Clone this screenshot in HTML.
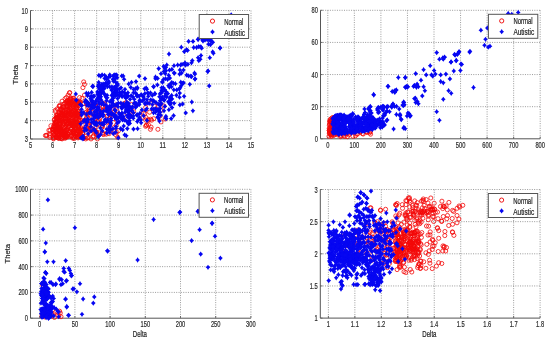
<!DOCTYPE html>
<html><head><meta charset="utf-8"><style>
html,body{margin:0;padding:0;background:#fff;width:550px;height:343px;overflow:hidden}
svg{display:block;font-family:'Liberation Sans', Arial, sans-serif;filter:blur(0.5px)}
.gr{stroke:#8a8a8a;stroke-width:0.85;stroke-dasharray:1 1.35;fill:none}
text{stroke:#333;stroke-width:0.22px;paint-order:stroke}
.ax{stroke:#555;stroke-width:1;fill:none}
.tk{stroke:#555;stroke-width:0.8}
</style></head><body>
<svg width="550" height="343" viewBox="0 0 550 343">
<defs><path id="st" d="M0 -2.65 L1.1 -1.05 L2.35 0 L1.1 1.05 L0 2.65 L-1.1 1.05 L-2.35 0 L-1.1 -1.05 Z" fill="#0606f2"/><circle id="ci" r="2.05" fill="none" stroke="#f40808" stroke-width="0.8"/></defs>
<rect width="550" height="343" fill="#fff"/>
<line x1="52.55" y1="10.50" x2="52.55" y2="139.00" class="gr"/>
<line x1="74.60" y1="10.50" x2="74.60" y2="139.00" class="gr"/>
<line x1="96.65" y1="10.50" x2="96.65" y2="139.00" class="gr"/>
<line x1="118.70" y1="10.50" x2="118.70" y2="139.00" class="gr"/>
<line x1="140.75" y1="10.50" x2="140.75" y2="139.00" class="gr"/>
<line x1="162.80" y1="10.50" x2="162.80" y2="139.00" class="gr"/>
<line x1="184.85" y1="10.50" x2="184.85" y2="139.00" class="gr"/>
<line x1="206.90" y1="10.50" x2="206.90" y2="139.00" class="gr"/>
<line x1="228.95" y1="10.50" x2="228.95" y2="139.00" class="gr"/>
<line x1="251.00" y1="10.50" x2="251.00" y2="139.00" class="gr"/>
<line x1="30.50" y1="120.64" x2="251.00" y2="120.64" class="gr"/>
<line x1="30.50" y1="102.29" x2="251.00" y2="102.29" class="gr"/>
<line x1="30.50" y1="83.93" x2="251.00" y2="83.93" class="gr"/>
<line x1="30.50" y1="65.57" x2="251.00" y2="65.57" class="gr"/>
<line x1="30.50" y1="47.21" x2="251.00" y2="47.21" class="gr"/>
<line x1="30.50" y1="28.86" x2="251.00" y2="28.86" class="gr"/>
<line x1="30.50" y1="10.50" x2="251.00" y2="10.50" class="gr"/>
<line x1="327.80" y1="10.30" x2="327.80" y2="138.80" class="gr"/>
<line x1="354.35" y1="10.30" x2="354.35" y2="138.80" class="gr"/>
<line x1="380.90" y1="10.30" x2="380.90" y2="138.80" class="gr"/>
<line x1="407.45" y1="10.30" x2="407.45" y2="138.80" class="gr"/>
<line x1="434.00" y1="10.30" x2="434.00" y2="138.80" class="gr"/>
<line x1="460.55" y1="10.30" x2="460.55" y2="138.80" class="gr"/>
<line x1="487.10" y1="10.30" x2="487.10" y2="138.80" class="gr"/>
<line x1="513.65" y1="10.30" x2="513.65" y2="138.80" class="gr"/>
<line x1="540.20" y1="10.30" x2="540.20" y2="138.80" class="gr"/>
<line x1="320.50" y1="106.68" x2="540.20" y2="106.68" class="gr"/>
<line x1="320.50" y1="74.55" x2="540.20" y2="74.55" class="gr"/>
<line x1="320.50" y1="42.43" x2="540.20" y2="42.43" class="gr"/>
<line x1="320.50" y1="10.30" x2="540.20" y2="10.30" class="gr"/>
<line x1="39.70" y1="189.30" x2="39.70" y2="318.20" class="gr"/>
<line x1="74.90" y1="189.30" x2="74.90" y2="318.20" class="gr"/>
<line x1="110.10" y1="189.30" x2="110.10" y2="318.20" class="gr"/>
<line x1="145.30" y1="189.30" x2="145.30" y2="318.20" class="gr"/>
<line x1="180.50" y1="189.30" x2="180.50" y2="318.20" class="gr"/>
<line x1="215.70" y1="189.30" x2="215.70" y2="318.20" class="gr"/>
<line x1="250.90" y1="189.30" x2="250.90" y2="318.20" class="gr"/>
<line x1="30.50" y1="292.42" x2="250.90" y2="292.42" class="gr"/>
<line x1="30.50" y1="266.64" x2="250.90" y2="266.64" class="gr"/>
<line x1="30.50" y1="240.86" x2="250.90" y2="240.86" class="gr"/>
<line x1="30.50" y1="215.08" x2="250.90" y2="215.08" class="gr"/>
<line x1="30.50" y1="189.30" x2="250.90" y2="189.30" class="gr"/>
<line x1="328.40" y1="189.50" x2="328.40" y2="318.10" class="gr"/>
<line x1="354.86" y1="189.50" x2="354.86" y2="318.10" class="gr"/>
<line x1="381.32" y1="189.50" x2="381.32" y2="318.10" class="gr"/>
<line x1="407.79" y1="189.50" x2="407.79" y2="318.10" class="gr"/>
<line x1="434.25" y1="189.50" x2="434.25" y2="318.10" class="gr"/>
<line x1="460.71" y1="189.50" x2="460.71" y2="318.10" class="gr"/>
<line x1="487.18" y1="189.50" x2="487.18" y2="318.10" class="gr"/>
<line x1="513.64" y1="189.50" x2="513.64" y2="318.10" class="gr"/>
<line x1="540.10" y1="189.50" x2="540.10" y2="318.10" class="gr"/>
<line x1="320.30" y1="285.95" x2="540.10" y2="285.95" class="gr"/>
<line x1="320.30" y1="253.80" x2="540.10" y2="253.80" class="gr"/>
<line x1="320.30" y1="221.65" x2="540.10" y2="221.65" class="gr"/>
<line x1="320.30" y1="189.50" x2="540.10" y2="189.50" class="gr"/>
<path d="M30.50 10.50 V139.00 H251.00" class="ax"/>
<line x1="30.50" y1="139.00" x2="30.50" y2="136.80" class="tk"/>
<text x="30.50" y="147.90" font-size="8.7" text-anchor="middle" fill="#2a2a2a" textLength="3.19" lengthAdjust="spacingAndGlyphs">5</text>
<line x1="52.55" y1="139.00" x2="52.55" y2="136.80" class="tk"/>
<text x="52.55" y="147.90" font-size="8.7" text-anchor="middle" fill="#2a2a2a" textLength="3.19" lengthAdjust="spacingAndGlyphs">6</text>
<line x1="74.60" y1="139.00" x2="74.60" y2="136.80" class="tk"/>
<text x="74.60" y="147.90" font-size="8.7" text-anchor="middle" fill="#2a2a2a" textLength="3.19" lengthAdjust="spacingAndGlyphs">7</text>
<line x1="96.65" y1="139.00" x2="96.65" y2="136.80" class="tk"/>
<text x="96.65" y="147.90" font-size="8.7" text-anchor="middle" fill="#2a2a2a" textLength="3.19" lengthAdjust="spacingAndGlyphs">8</text>
<line x1="118.70" y1="139.00" x2="118.70" y2="136.80" class="tk"/>
<text x="118.70" y="147.90" font-size="8.7" text-anchor="middle" fill="#2a2a2a" textLength="3.19" lengthAdjust="spacingAndGlyphs">9</text>
<line x1="140.75" y1="139.00" x2="140.75" y2="136.80" class="tk"/>
<text x="140.75" y="147.90" font-size="8.7" text-anchor="middle" fill="#2a2a2a" textLength="6.38" lengthAdjust="spacingAndGlyphs">10</text>
<line x1="162.80" y1="139.00" x2="162.80" y2="136.80" class="tk"/>
<text x="162.80" y="147.90" font-size="8.7" text-anchor="middle" fill="#2a2a2a" textLength="6.38" lengthAdjust="spacingAndGlyphs">11</text>
<line x1="184.85" y1="139.00" x2="184.85" y2="136.80" class="tk"/>
<text x="184.85" y="147.90" font-size="8.7" text-anchor="middle" fill="#2a2a2a" textLength="6.38" lengthAdjust="spacingAndGlyphs">12</text>
<line x1="206.90" y1="139.00" x2="206.90" y2="136.80" class="tk"/>
<text x="206.90" y="147.90" font-size="8.7" text-anchor="middle" fill="#2a2a2a" textLength="6.38" lengthAdjust="spacingAndGlyphs">13</text>
<line x1="228.95" y1="139.00" x2="228.95" y2="136.80" class="tk"/>
<text x="228.95" y="147.90" font-size="8.7" text-anchor="middle" fill="#2a2a2a" textLength="6.38" lengthAdjust="spacingAndGlyphs">14</text>
<line x1="251.00" y1="139.00" x2="251.00" y2="136.80" class="tk"/>
<text x="251.00" y="147.90" font-size="8.7" text-anchor="middle" fill="#2a2a2a" textLength="6.38" lengthAdjust="spacingAndGlyphs">15</text>
<line x1="30.50" y1="139.00" x2="32.70" y2="139.00" class="tk"/>
<text x="28.00" y="142.00" font-size="8.7" text-anchor="end" fill="#2a2a2a" textLength="3.19" lengthAdjust="spacingAndGlyphs">3</text>
<line x1="30.50" y1="120.64" x2="32.70" y2="120.64" class="tk"/>
<text x="28.00" y="123.64" font-size="8.7" text-anchor="end" fill="#2a2a2a" textLength="3.19" lengthAdjust="spacingAndGlyphs">4</text>
<line x1="30.50" y1="102.29" x2="32.70" y2="102.29" class="tk"/>
<text x="28.00" y="105.29" font-size="8.7" text-anchor="end" fill="#2a2a2a" textLength="3.19" lengthAdjust="spacingAndGlyphs">5</text>
<line x1="30.50" y1="83.93" x2="32.70" y2="83.93" class="tk"/>
<text x="28.00" y="86.93" font-size="8.7" text-anchor="end" fill="#2a2a2a" textLength="3.19" lengthAdjust="spacingAndGlyphs">6</text>
<line x1="30.50" y1="65.57" x2="32.70" y2="65.57" class="tk"/>
<text x="28.00" y="68.57" font-size="8.7" text-anchor="end" fill="#2a2a2a" textLength="3.19" lengthAdjust="spacingAndGlyphs">7</text>
<line x1="30.50" y1="47.21" x2="32.70" y2="47.21" class="tk"/>
<text x="28.00" y="50.21" font-size="8.7" text-anchor="end" fill="#2a2a2a" textLength="3.19" lengthAdjust="spacingAndGlyphs">8</text>
<line x1="30.50" y1="28.86" x2="32.70" y2="28.86" class="tk"/>
<text x="28.00" y="31.86" font-size="8.7" text-anchor="end" fill="#2a2a2a" textLength="3.19" lengthAdjust="spacingAndGlyphs">9</text>
<line x1="30.50" y1="10.50" x2="32.70" y2="10.50" class="tk"/>
<text x="28.00" y="13.50" font-size="8.7" text-anchor="end" fill="#2a2a2a" textLength="6.38" lengthAdjust="spacingAndGlyphs">10</text>
<text x="0" y="0" font-size="9" text-anchor="middle" fill="#222" textLength="19.4" lengthAdjust="spacingAndGlyphs" transform="translate(17.90 74.75) scale(0.8 1) rotate(-90)">Theta</text>
<path d="M320.50 10.30 V138.80 H540.20" class="ax"/>
<line x1="327.80" y1="138.80" x2="327.80" y2="136.60" class="tk"/>
<text x="327.80" y="147.70" font-size="8.7" text-anchor="middle" fill="#2a2a2a" textLength="3.19" lengthAdjust="spacingAndGlyphs">0</text>
<line x1="354.35" y1="138.80" x2="354.35" y2="136.60" class="tk"/>
<text x="354.35" y="147.70" font-size="8.7" text-anchor="middle" fill="#2a2a2a" textLength="9.57" lengthAdjust="spacingAndGlyphs">100</text>
<line x1="380.90" y1="138.80" x2="380.90" y2="136.60" class="tk"/>
<text x="380.90" y="147.70" font-size="8.7" text-anchor="middle" fill="#2a2a2a" textLength="9.57" lengthAdjust="spacingAndGlyphs">200</text>
<line x1="407.45" y1="138.80" x2="407.45" y2="136.60" class="tk"/>
<text x="407.45" y="147.70" font-size="8.7" text-anchor="middle" fill="#2a2a2a" textLength="9.57" lengthAdjust="spacingAndGlyphs">300</text>
<line x1="434.00" y1="138.80" x2="434.00" y2="136.60" class="tk"/>
<text x="434.00" y="147.70" font-size="8.7" text-anchor="middle" fill="#2a2a2a" textLength="9.57" lengthAdjust="spacingAndGlyphs">400</text>
<line x1="460.55" y1="138.80" x2="460.55" y2="136.60" class="tk"/>
<text x="460.55" y="147.70" font-size="8.7" text-anchor="middle" fill="#2a2a2a" textLength="9.57" lengthAdjust="spacingAndGlyphs">500</text>
<line x1="487.10" y1="138.80" x2="487.10" y2="136.60" class="tk"/>
<text x="487.10" y="147.70" font-size="8.7" text-anchor="middle" fill="#2a2a2a" textLength="9.57" lengthAdjust="spacingAndGlyphs">600</text>
<line x1="513.65" y1="138.80" x2="513.65" y2="136.60" class="tk"/>
<text x="513.65" y="147.70" font-size="8.7" text-anchor="middle" fill="#2a2a2a" textLength="9.57" lengthAdjust="spacingAndGlyphs">700</text>
<line x1="540.20" y1="138.80" x2="540.20" y2="136.60" class="tk"/>
<text x="540.20" y="147.70" font-size="8.7" text-anchor="middle" fill="#2a2a2a" textLength="9.57" lengthAdjust="spacingAndGlyphs">800</text>
<line x1="320.50" y1="138.80" x2="322.70" y2="138.80" class="tk"/>
<text x="318.00" y="141.80" font-size="8.7" text-anchor="end" fill="#2a2a2a" textLength="3.19" lengthAdjust="spacingAndGlyphs">0</text>
<line x1="320.50" y1="106.68" x2="322.70" y2="106.68" class="tk"/>
<text x="318.00" y="109.68" font-size="8.7" text-anchor="end" fill="#2a2a2a" textLength="6.38" lengthAdjust="spacingAndGlyphs">20</text>
<line x1="320.50" y1="74.55" x2="322.70" y2="74.55" class="tk"/>
<text x="318.00" y="77.55" font-size="8.7" text-anchor="end" fill="#2a2a2a" textLength="6.38" lengthAdjust="spacingAndGlyphs">40</text>
<line x1="320.50" y1="42.43" x2="322.70" y2="42.43" class="tk"/>
<text x="318.00" y="45.43" font-size="8.7" text-anchor="end" fill="#2a2a2a" textLength="6.38" lengthAdjust="spacingAndGlyphs">60</text>
<line x1="320.50" y1="10.30" x2="322.70" y2="10.30" class="tk"/>
<text x="318.00" y="13.30" font-size="8.7" text-anchor="end" fill="#2a2a2a" textLength="6.38" lengthAdjust="spacingAndGlyphs">80</text>
<path d="M30.50 189.30 V318.20 H250.90" class="ax"/>
<line x1="39.70" y1="318.20" x2="39.70" y2="316.00" class="tk"/>
<text x="39.70" y="327.10" font-size="8.7" text-anchor="middle" fill="#2a2a2a" textLength="3.19" lengthAdjust="spacingAndGlyphs">0</text>
<line x1="74.90" y1="318.20" x2="74.90" y2="316.00" class="tk"/>
<text x="74.90" y="327.10" font-size="8.7" text-anchor="middle" fill="#2a2a2a" textLength="6.38" lengthAdjust="spacingAndGlyphs">50</text>
<line x1="110.10" y1="318.20" x2="110.10" y2="316.00" class="tk"/>
<text x="110.10" y="327.10" font-size="8.7" text-anchor="middle" fill="#2a2a2a" textLength="9.57" lengthAdjust="spacingAndGlyphs">100</text>
<line x1="145.30" y1="318.20" x2="145.30" y2="316.00" class="tk"/>
<text x="145.30" y="327.10" font-size="8.7" text-anchor="middle" fill="#2a2a2a" textLength="9.57" lengthAdjust="spacingAndGlyphs">150</text>
<line x1="180.50" y1="318.20" x2="180.50" y2="316.00" class="tk"/>
<text x="180.50" y="327.10" font-size="8.7" text-anchor="middle" fill="#2a2a2a" textLength="9.57" lengthAdjust="spacingAndGlyphs">200</text>
<line x1="215.70" y1="318.20" x2="215.70" y2="316.00" class="tk"/>
<text x="215.70" y="327.10" font-size="8.7" text-anchor="middle" fill="#2a2a2a" textLength="9.57" lengthAdjust="spacingAndGlyphs">250</text>
<line x1="250.90" y1="318.20" x2="250.90" y2="316.00" class="tk"/>
<text x="250.90" y="327.10" font-size="8.7" text-anchor="middle" fill="#2a2a2a" textLength="9.57" lengthAdjust="spacingAndGlyphs">300</text>
<line x1="30.50" y1="318.20" x2="32.70" y2="318.20" class="tk"/>
<text x="28.00" y="321.20" font-size="8.7" text-anchor="end" fill="#2a2a2a" textLength="3.19" lengthAdjust="spacingAndGlyphs">0</text>
<line x1="30.50" y1="292.42" x2="32.70" y2="292.42" class="tk"/>
<text x="28.00" y="295.42" font-size="8.7" text-anchor="end" fill="#2a2a2a" textLength="9.57" lengthAdjust="spacingAndGlyphs">200</text>
<line x1="30.50" y1="266.64" x2="32.70" y2="266.64" class="tk"/>
<text x="28.00" y="269.64" font-size="8.7" text-anchor="end" fill="#2a2a2a" textLength="9.57" lengthAdjust="spacingAndGlyphs">400</text>
<line x1="30.50" y1="240.86" x2="32.70" y2="240.86" class="tk"/>
<text x="28.00" y="243.86" font-size="8.7" text-anchor="end" fill="#2a2a2a" textLength="9.57" lengthAdjust="spacingAndGlyphs">600</text>
<line x1="30.50" y1="215.08" x2="32.70" y2="215.08" class="tk"/>
<text x="28.00" y="218.08" font-size="8.7" text-anchor="end" fill="#2a2a2a" textLength="9.57" lengthAdjust="spacingAndGlyphs">800</text>
<line x1="30.50" y1="189.30" x2="32.70" y2="189.30" class="tk"/>
<text x="28.00" y="192.30" font-size="8.7" text-anchor="end" fill="#2a2a2a" textLength="12.77" lengthAdjust="spacingAndGlyphs">1000</text>
<text x="0" y="0" font-size="9" text-anchor="middle" fill="#222" textLength="19.4" lengthAdjust="spacingAndGlyphs" transform="translate(10.20 253.75) scale(0.8 1) rotate(-90)">Theta</text>
<text x="139.90" y="337.20" font-size="8.6" text-anchor="middle" fill="#222" textLength="14.20" lengthAdjust="spacingAndGlyphs">Delta</text>
<path d="M320.30 189.50 V318.10 H540.10" class="ax"/>
<line x1="328.40" y1="318.10" x2="328.40" y2="315.90" class="tk"/>
<text x="328.40" y="327.00" font-size="8.7" text-anchor="middle" fill="#2a2a2a" textLength="3.19" lengthAdjust="spacingAndGlyphs">1</text>
<line x1="354.86" y1="318.10" x2="354.86" y2="315.90" class="tk"/>
<text x="354.86" y="327.00" font-size="8.7" text-anchor="middle" fill="#2a2a2a" textLength="7.98" lengthAdjust="spacingAndGlyphs">1.1</text>
<line x1="381.32" y1="318.10" x2="381.32" y2="315.90" class="tk"/>
<text x="381.32" y="327.00" font-size="8.7" text-anchor="middle" fill="#2a2a2a" textLength="7.98" lengthAdjust="spacingAndGlyphs">1.2</text>
<line x1="407.79" y1="318.10" x2="407.79" y2="315.90" class="tk"/>
<text x="407.79" y="327.00" font-size="8.7" text-anchor="middle" fill="#2a2a2a" textLength="7.98" lengthAdjust="spacingAndGlyphs">1.3</text>
<line x1="434.25" y1="318.10" x2="434.25" y2="315.90" class="tk"/>
<text x="434.25" y="327.00" font-size="8.7" text-anchor="middle" fill="#2a2a2a" textLength="7.98" lengthAdjust="spacingAndGlyphs">1.4</text>
<line x1="460.71" y1="318.10" x2="460.71" y2="315.90" class="tk"/>
<text x="460.71" y="327.00" font-size="8.7" text-anchor="middle" fill="#2a2a2a" textLength="7.98" lengthAdjust="spacingAndGlyphs">1.5</text>
<line x1="487.18" y1="318.10" x2="487.18" y2="315.90" class="tk"/>
<text x="487.18" y="327.00" font-size="8.7" text-anchor="middle" fill="#2a2a2a" textLength="7.98" lengthAdjust="spacingAndGlyphs">1.6</text>
<line x1="513.64" y1="318.10" x2="513.64" y2="315.90" class="tk"/>
<text x="513.64" y="327.00" font-size="8.7" text-anchor="middle" fill="#2a2a2a" textLength="7.98" lengthAdjust="spacingAndGlyphs">1.7</text>
<line x1="540.10" y1="318.10" x2="540.10" y2="315.90" class="tk"/>
<text x="540.10" y="327.00" font-size="8.7" text-anchor="middle" fill="#2a2a2a" textLength="7.98" lengthAdjust="spacingAndGlyphs">1.8</text>
<line x1="320.30" y1="318.10" x2="322.50" y2="318.10" class="tk"/>
<text x="317.80" y="321.10" font-size="8.7" text-anchor="end" fill="#2a2a2a" textLength="3.19" lengthAdjust="spacingAndGlyphs">1</text>
<line x1="320.30" y1="285.95" x2="322.50" y2="285.95" class="tk"/>
<text x="317.80" y="288.95" font-size="8.7" text-anchor="end" fill="#2a2a2a" textLength="7.98" lengthAdjust="spacingAndGlyphs">1.5</text>
<line x1="320.30" y1="253.80" x2="322.50" y2="253.80" class="tk"/>
<text x="317.80" y="256.80" font-size="8.7" text-anchor="end" fill="#2a2a2a" textLength="3.19" lengthAdjust="spacingAndGlyphs">2</text>
<line x1="320.30" y1="221.65" x2="322.50" y2="221.65" class="tk"/>
<text x="317.80" y="224.65" font-size="8.7" text-anchor="end" fill="#2a2a2a" textLength="7.98" lengthAdjust="spacingAndGlyphs">2.5</text>
<line x1="320.30" y1="189.50" x2="322.50" y2="189.50" class="tk"/>
<text x="317.80" y="192.50" font-size="8.7" text-anchor="end" fill="#2a2a2a" textLength="3.19" lengthAdjust="spacingAndGlyphs">3</text>
<text x="429.40" y="337.10" font-size="8.6" text-anchor="middle" fill="#222" textLength="14.20" lengthAdjust="spacingAndGlyphs">Delta</text>
<g>
<use href="#ci" x="76.3" y="108.3"/>
<use href="#ci" x="75.4" y="107.2"/>
<use href="#ci" x="78.6" y="102.8"/>
<use href="#ci" x="80.2" y="102.6"/>
<use href="#ci" x="79.4" y="102.9"/>
<use href="#ci" x="75.6" y="106.2"/>
<use href="#ci" x="83.7" y="103.4"/>
<use href="#ci" x="92.5" y="111.0"/>
<use href="#ci" x="92.0" y="105.9"/>
<use href="#ci" x="96.4" y="102.7"/>
<use href="#ci" x="95.1" y="104.9"/>
<use href="#ci" x="87.2" y="103.4"/>
<use href="#ci" x="89.0" y="109.8"/>
<use href="#ci" x="87.6" y="107.6"/>
<use href="#ci" x="92.7" y="105.7"/>
<use href="#ci" x="91.7" y="102.9"/>
<use href="#ci" x="86.3" y="104.2"/>
<use href="#ci" x="93.1" y="106.2"/>
<use href="#ci" x="89.1" y="107.7"/>
<use href="#ci" x="90.6" y="105.0"/>
<use href="#ci" x="104.4" y="104.5"/>
<use href="#ci" x="103.0" y="107.1"/>
<use href="#ci" x="106.3" y="109.0"/>
<use href="#ci" x="99.8" y="111.3"/>
<use href="#ci" x="98.0" y="106.1"/>
<use href="#ci" x="105.0" y="103.7"/>
<use href="#ci" x="102.0" y="102.6"/>
<use href="#ci" x="104.0" y="109.3"/>
<use href="#ci" x="103.0" y="110.3"/>
<use href="#ci" x="100.1" y="108.7"/>
<use href="#ci" x="114.1" y="106.5"/>
<use href="#ci" x="116.9" y="111.0"/>
<use href="#ci" x="112.9" y="108.4"/>
<use href="#ci" x="108.3" y="108.7"/>
<use href="#ci" x="114.8" y="111.4"/>
<use href="#ci" x="116.7" y="104.9"/>
<use href="#ci" x="126.1" y="102.5"/>
<use href="#ci" x="123.8" y="103.8"/>
<use href="#ci" x="130.4" y="109.3"/>
<use href="#ci" x="131.2" y="104.6"/>
<use href="#ci" x="150.4" y="103.0"/>
<use href="#ci" x="145.7" y="107.3"/>
<use href="#ci" x="160.8" y="110.2"/>
<use href="#ci" x="154.8" y="106.1"/>
<use href="#ci" x="84.3" y="120.3"/>
<use href="#ci" x="76.3" y="113.1"/>
<use href="#ci" x="77.2" y="113.6"/>
<use href="#ci" x="79.9" y="116.9"/>
<use href="#ci" x="77.5" y="111.5"/>
<use href="#ci" x="79.2" y="114.9"/>
<use href="#ci" x="80.8" y="120.2"/>
<use href="#ci" x="91.3" y="117.1"/>
<use href="#ci" x="93.1" y="112.0"/>
<use href="#ci" x="95.5" y="118.6"/>
<use href="#ci" x="95.3" y="118.8"/>
<use href="#ci" x="90.0" y="115.1"/>
<use href="#ci" x="86.8" y="117.3"/>
<use href="#ci" x="86.3" y="112.1"/>
<use href="#ci" x="87.9" y="113.0"/>
<use href="#ci" x="89.4" y="111.9"/>
<use href="#ci" x="85.6" y="112.9"/>
<use href="#ci" x="86.7" y="114.8"/>
<use href="#ci" x="85.9" y="119.5"/>
<use href="#ci" x="92.4" y="112.8"/>
<use href="#ci" x="100.5" y="114.8"/>
<use href="#ci" x="98.0" y="119.3"/>
<use href="#ci" x="107.6" y="115.7"/>
<use href="#ci" x="102.0" y="112.3"/>
<use href="#ci" x="97.8" y="114.6"/>
<use href="#ci" x="99.6" y="119.1"/>
<use href="#ci" x="98.4" y="111.7"/>
<use href="#ci" x="107.1" y="116.3"/>
<use href="#ci" x="98.3" y="116.4"/>
<use href="#ci" x="96.9" y="116.3"/>
<use href="#ci" x="117.2" y="117.9"/>
<use href="#ci" x="110.6" y="114.8"/>
<use href="#ci" x="109.5" y="118.5"/>
<use href="#ci" x="113.5" y="118.6"/>
<use href="#ci" x="111.3" y="113.5"/>
<use href="#ci" x="116.6" y="120.5"/>
<use href="#ci" x="127.6" y="119.0"/>
<use href="#ci" x="126.9" y="113.5"/>
<use href="#ci" x="133.6" y="111.7"/>
<use href="#ci" x="130.0" y="114.0"/>
<use href="#ci" x="148.4" y="120.2"/>
<use href="#ci" x="145.7" y="120.1"/>
<use href="#ci" x="151.6" y="120.2"/>
<use href="#ci" x="144.8" y="113.5"/>
<use href="#ci" x="143.3" y="113.3"/>
<use href="#ci" x="143.0" y="117.2"/>
<use href="#ci" x="150.7" y="119.2"/>
<use href="#ci" x="146.0" y="117.5"/>
<use href="#ci" x="149.6" y="112.2"/>
<use href="#ci" x="148.0" y="119.8"/>
<use href="#ci" x="160.0" y="115.9"/>
<use href="#ci" x="153.7" y="118.7"/>
<use href="#ci" x="83.4" y="129.6"/>
<use href="#ci" x="79.0" y="124.3"/>
<use href="#ci" x="85.0" y="127.3"/>
<use href="#ci" x="76.5" y="121.8"/>
<use href="#ci" x="76.3" y="128.9"/>
<use href="#ci" x="83.5" y="122.0"/>
<use href="#ci" x="83.7" y="129.6"/>
<use href="#ci" x="89.5" y="125.7"/>
<use href="#ci" x="87.1" y="120.8"/>
<use href="#ci" x="96.3" y="126.6"/>
<use href="#ci" x="91.4" y="129.2"/>
<use href="#ci" x="90.4" y="128.6"/>
<use href="#ci" x="94.7" y="122.6"/>
<use href="#ci" x="88.4" y="123.3"/>
<use href="#ci" x="88.3" y="126.0"/>
<use href="#ci" x="88.5" y="124.5"/>
<use href="#ci" x="87.1" y="129.0"/>
<use href="#ci" x="89.5" y="124.8"/>
<use href="#ci" x="92.1" y="128.9"/>
<use href="#ci" x="90.3" y="129.1"/>
<use href="#ci" x="102.5" y="125.4"/>
<use href="#ci" x="96.9" y="124.7"/>
<use href="#ci" x="98.7" y="120.7"/>
<use href="#ci" x="105.5" y="122.2"/>
<use href="#ci" x="101.9" y="127.3"/>
<use href="#ci" x="102.8" y="123.6"/>
<use href="#ci" x="102.4" y="125.7"/>
<use href="#ci" x="108.8" y="125.8"/>
<use href="#ci" x="110.4" y="123.2"/>
<use href="#ci" x="116.2" y="125.3"/>
<use href="#ci" x="113.9" y="127.6"/>
<use href="#ci" x="145.6" y="126.3"/>
<use href="#ci" x="146.3" y="125.3"/>
<use href="#ci" x="148.4" y="124.8"/>
<use href="#ci" x="146.6" y="125.0"/>
<use href="#ci" x="151.1" y="127.1"/>
<use href="#ci" x="150.4" y="129.3"/>
<use href="#ci" x="157.9" y="129.3"/>
<use href="#ci" x="161.0" y="121.9"/>
<use href="#ci" x="90.5" y="130.5"/>
<use href="#ci" x="88.3" y="130.5"/>
<use href="#ci" x="93.0" y="137.0"/>
<use href="#ci" x="95.5" y="131.2"/>
<use href="#ci" x="93.5" y="135.9"/>
<use href="#ci" x="87.2" y="137.9"/>
<use href="#ci" x="96.3" y="131.8"/>
<use href="#ci" x="96.1" y="133.5"/>
<use href="#ci" x="91.0" y="138.9"/>
<use href="#ci" x="94.8" y="131.3"/>
<use href="#ci" x="102.3" y="132.9"/>
<use href="#ci" x="98.8" y="132.7"/>
<use href="#ci" x="104.6" y="130.0"/>
<use href="#ci" x="102.8" y="133.9"/>
<use href="#ci" x="96.8" y="132.9"/>
<use href="#ci" x="103.5" y="134.5"/>
<use href="#ci" x="97.4" y="138.9"/>
<use href="#ci" x="118.4" y="130.8"/>
<use href="#ci" x="110.6" y="130.2"/>
<use href="#ci" x="116.3" y="132.3"/>
<use href="#ci" x="109.1" y="133.7"/>
<use href="#ci" x="117.7" y="137.3"/>
<use href="#ci" x="110.5" y="131.2"/>
<use href="#ci" x="59.6" y="117.5"/>
<use href="#ci" x="58.0" y="127.5"/>
<use href="#ci" x="57.3" y="115.0"/>
<use href="#ci" x="69.3" y="100.1"/>
<use href="#ci" x="65.8" y="135.9"/>
<use href="#ci" x="48.9" y="130.3"/>
<use href="#ci" x="63.9" y="114.8"/>
<use href="#ci" x="67.3" y="124.0"/>
<use href="#ci" x="73.3" y="110.4"/>
<use href="#ci" x="78.1" y="103.3"/>
<use href="#ci" x="82.7" y="132.8"/>
<use href="#ci" x="74.8" y="104.5"/>
<use href="#ci" x="65.1" y="98.6"/>
<use href="#ci" x="64.5" y="103.6"/>
<use href="#ci" x="88.2" y="137.7"/>
<use href="#ci" x="69.2" y="102.7"/>
<use href="#ci" x="61.6" y="113.8"/>
<use href="#ci" x="67.1" y="100.6"/>
<use href="#ci" x="54.7" y="119.1"/>
<use href="#ci" x="68.3" y="127.0"/>
<use href="#ci" x="74.2" y="125.4"/>
<use href="#ci" x="59.0" y="138.3"/>
<use href="#ci" x="50.9" y="125.8"/>
<use href="#ci" x="82.4" y="133.8"/>
<use href="#ci" x="72.9" y="126.2"/>
<use href="#ci" x="68.1" y="115.2"/>
<use href="#ci" x="82.4" y="129.6"/>
<use href="#ci" x="75.9" y="102.0"/>
<use href="#ci" x="72.9" y="121.1"/>
<use href="#ci" x="75.3" y="114.5"/>
<use href="#ci" x="78.4" y="115.1"/>
<use href="#ci" x="68.6" y="122.6"/>
<use href="#ci" x="56.2" y="126.0"/>
<use href="#ci" x="53.4" y="126.5"/>
<use href="#ci" x="61.6" y="114.0"/>
<use href="#ci" x="75.5" y="127.8"/>
<use href="#ci" x="72.4" y="121.9"/>
<use href="#ci" x="55.7" y="126.7"/>
<use href="#ci" x="58.0" y="118.3"/>
<use href="#ci" x="56.4" y="123.3"/>
<use href="#ci" x="75.8" y="123.4"/>
<use href="#ci" x="57.4" y="115.8"/>
<use href="#ci" x="65.4" y="113.4"/>
<use href="#ci" x="49.5" y="133.9"/>
<use href="#ci" x="53.2" y="138.0"/>
<use href="#ci" x="65.1" y="130.4"/>
<use href="#ci" x="70.7" y="97.8"/>
<use href="#ci" x="68.1" y="136.7"/>
<use href="#ci" x="50.1" y="130.4"/>
<use href="#ci" x="67.4" y="133.6"/>
<use href="#ci" x="76.4" y="102.1"/>
<use href="#ci" x="66.6" y="112.6"/>
<use href="#ci" x="59.8" y="106.2"/>
<use href="#ci" x="78.5" y="131.3"/>
<use href="#ci" x="49.5" y="135.5"/>
<use href="#ci" x="76.8" y="134.3"/>
<use href="#ci" x="57.3" y="108.9"/>
<use href="#ci" x="62.1" y="138.9"/>
<use href="#ci" x="71.1" y="108.3"/>
<use href="#ci" x="63.7" y="104.2"/>
<use href="#ci" x="56.2" y="115.5"/>
<use href="#ci" x="86.0" y="136.2"/>
<use href="#ci" x="69.3" y="125.5"/>
<use href="#ci" x="64.7" y="127.1"/>
<use href="#ci" x="73.6" y="104.7"/>
<use href="#ci" x="46.3" y="135.5"/>
<use href="#ci" x="59.8" y="105.3"/>
<use href="#ci" x="78.0" y="137.9"/>
<use href="#ci" x="56.0" y="122.5"/>
<use href="#ci" x="57.8" y="117.8"/>
<use href="#ci" x="54.1" y="134.5"/>
<use href="#ci" x="55.9" y="118.3"/>
<use href="#ci" x="63.0" y="110.9"/>
<use href="#ci" x="68.1" y="109.1"/>
<use href="#ci" x="56.8" y="137.4"/>
<use href="#ci" x="73.0" y="132.4"/>
<use href="#ci" x="55.4" y="110.2"/>
<use href="#ci" x="64.5" y="136.8"/>
<use href="#ci" x="83.0" y="132.9"/>
<use href="#ci" x="76.6" y="134.0"/>
<use href="#ci" x="65.8" y="119.2"/>
<use href="#ci" x="83.4" y="137.7"/>
<use href="#ci" x="75.4" y="136.2"/>
<use href="#ci" x="77.2" y="122.1"/>
<use href="#ci" x="79.2" y="113.0"/>
<use href="#ci" x="69.4" y="92.9"/>
<use href="#ci" x="80.0" y="102.2"/>
<use href="#ci" x="55.6" y="121.5"/>
<use href="#ci" x="70.8" y="109.6"/>
<use href="#ci" x="54.3" y="119.9"/>
<use href="#ci" x="65.2" y="137.0"/>
<use href="#ci" x="73.7" y="133.4"/>
<use href="#ci" x="65.9" y="102.3"/>
<use href="#ci" x="55.4" y="137.1"/>
<use href="#ci" x="76.4" y="105.8"/>
<use href="#ci" x="75.0" y="111.2"/>
<use href="#ci" x="55.8" y="123.0"/>
<use href="#ci" x="63.3" y="123.8"/>
<use href="#ci" x="53.1" y="129.3"/>
<use href="#ci" x="78.0" y="115.2"/>
<use href="#ci" x="53.4" y="137.6"/>
<use href="#ci" x="58.3" y="130.4"/>
<use href="#ci" x="79.0" y="105.2"/>
<use href="#ci" x="63.2" y="122.9"/>
<use href="#ci" x="62.1" y="101.2"/>
<use href="#ci" x="62.1" y="134.1"/>
<use href="#ci" x="61.4" y="108.9"/>
<use href="#ci" x="60.2" y="136.9"/>
<use href="#ci" x="49.7" y="137.3"/>
<use href="#ci" x="81.8" y="130.5"/>
<use href="#ci" x="65.8" y="108.9"/>
<use href="#ci" x="60.8" y="134.1"/>
<use href="#ci" x="81.3" y="127.8"/>
<use href="#ci" x="46.9" y="135.2"/>
<use href="#ci" x="55.8" y="126.9"/>
<use href="#ci" x="56.5" y="137.0"/>
<use href="#ci" x="72.4" y="103.6"/>
<use href="#ci" x="77.0" y="106.2"/>
<use href="#ci" x="78.8" y="135.0"/>
<use href="#ci" x="73.2" y="136.3"/>
<use href="#ci" x="65.9" y="136.9"/>
<use href="#ci" x="55.5" y="111.6"/>
<use href="#ci" x="66.7" y="135.5"/>
<use href="#ci" x="52.4" y="129.5"/>
<use href="#ci" x="78.0" y="130.5"/>
<use href="#ci" x="79.5" y="120.1"/>
<use href="#ci" x="59.1" y="106.3"/>
<use href="#ci" x="60.6" y="128.5"/>
<use href="#ci" x="78.6" y="102.9"/>
<use href="#ci" x="69.4" y="106.6"/>
<use href="#ci" x="68.9" y="126.8"/>
<use href="#ci" x="67.2" y="106.8"/>
<use href="#ci" x="66.2" y="123.1"/>
<use href="#ci" x="74.9" y="128.4"/>
<use href="#ci" x="56.1" y="132.3"/>
<use href="#ci" x="62.0" y="120.8"/>
<use href="#ci" x="64.7" y="128.0"/>
<use href="#ci" x="63.1" y="113.6"/>
<use href="#ci" x="59.9" y="131.0"/>
<use href="#ci" x="74.2" y="138.6"/>
<use href="#ci" x="79.8" y="132.3"/>
<use href="#ci" x="58.4" y="137.9"/>
<use href="#ci" x="71.8" y="136.1"/>
<use href="#ci" x="64.7" y="133.4"/>
<use href="#ci" x="67.3" y="107.9"/>
<use href="#ci" x="78.4" y="136.7"/>
<use href="#ci" x="55.6" y="122.0"/>
<use href="#ci" x="73.1" y="106.1"/>
<use href="#ci" x="72.4" y="124.4"/>
<use href="#ci" x="63.1" y="125.5"/>
<use href="#ci" x="58.9" y="130.4"/>
<use href="#ci" x="70.6" y="99.7"/>
<use href="#ci" x="70.7" y="123.8"/>
<use href="#ci" x="75.6" y="114.2"/>
<use href="#ci" x="61.6" y="109.9"/>
<use href="#ci" x="71.3" y="112.0"/>
<use href="#ci" x="66.2" y="133.3"/>
<use href="#ci" x="58.7" y="127.6"/>
<use href="#ci" x="70.8" y="123.9"/>
<use href="#ci" x="73.2" y="112.6"/>
<use href="#ci" x="69.2" y="103.1"/>
<use href="#ci" x="61.6" y="118.9"/>
<use href="#ci" x="68.7" y="130.8"/>
<use href="#ci" x="56.3" y="136.6"/>
<use href="#ci" x="53.8" y="135.9"/>
<use href="#ci" x="65.2" y="135.0"/>
<use href="#ci" x="73.1" y="131.6"/>
<use href="#ci" x="57.4" y="130.0"/>
<use href="#ci" x="59.6" y="114.0"/>
<use href="#ci" x="80.8" y="131.8"/>
<use href="#ci" x="65.6" y="118.8"/>
<use href="#ci" x="60.4" y="127.4"/>
<use href="#ci" x="71.1" y="128.8"/>
<use href="#ci" x="53.3" y="132.2"/>
<use href="#ci" x="56.0" y="122.2"/>
<use href="#ci" x="70.7" y="123.3"/>
<use href="#ci" x="62.4" y="114.6"/>
<use href="#ci" x="71.8" y="114.9"/>
<use href="#ci" x="74.4" y="115.8"/>
<use href="#ci" x="73.0" y="117.6"/>
<use href="#ci" x="60.0" y="129.1"/>
<use href="#ci" x="78.5" y="116.2"/>
<use href="#ci" x="58.1" y="116.9"/>
<use href="#ci" x="67.0" y="118.4"/>
<use href="#ci" x="54.8" y="127.8"/>
<use href="#ci" x="78.4" y="118.5"/>
<use href="#ci" x="64.8" y="136.9"/>
<use href="#ci" x="56.6" y="133.0"/>
<use href="#ci" x="57.6" y="130.1"/>
<use href="#ci" x="63.9" y="128.8"/>
<use href="#ci" x="57.4" y="134.7"/>
<use href="#ci" x="61.3" y="131.3"/>
<use href="#ci" x="56.9" y="118.1"/>
<use href="#ci" x="60.9" y="118.3"/>
<use href="#ci" x="70.0" y="123.7"/>
<use href="#ci" x="64.2" y="133.7"/>
<use href="#ci" x="70.9" y="121.4"/>
<use href="#ci" x="65.4" y="130.5"/>
<use href="#ci" x="61.0" y="138.6"/>
<use href="#ci" x="71.6" y="112.1"/>
<use href="#ci" x="78.0" y="115.6"/>
<use href="#ci" x="58.0" y="128.2"/>
<use href="#ci" x="53.6" y="131.4"/>
<use href="#ci" x="60.6" y="123.8"/>
<use href="#ci" x="74.6" y="110.1"/>
<use href="#ci" x="57.1" y="122.9"/>
<use href="#ci" x="66.7" y="118.5"/>
<use href="#ci" x="59.7" y="124.4"/>
<use href="#ci" x="64.1" y="106.4"/>
<use href="#ci" x="71.8" y="121.7"/>
<use href="#ci" x="58.9" y="123.2"/>
<use href="#ci" x="68.1" y="102.7"/>
<use href="#ci" x="73.7" y="133.6"/>
<use href="#ci" x="78.6" y="113.9"/>
<use href="#ci" x="73.9" y="120.6"/>
<use href="#ci" x="63.9" y="124.1"/>
<use href="#ci" x="67.1" y="136.4"/>
<use href="#ci" x="76.9" y="107.4"/>
<use href="#ci" x="70.1" y="114.1"/>
<use href="#ci" x="70.7" y="136.5"/>
<use href="#ci" x="72.7" y="118.3"/>
<use href="#ci" x="73.8" y="131.2"/>
<use href="#ci" x="67.8" y="128.2"/>
<use href="#ci" x="67.4" y="106.5"/>
<use href="#ci" x="77.5" y="126.2"/>
<use href="#ci" x="61.0" y="120.3"/>
<use href="#ci" x="66.8" y="130.1"/>
<use href="#ci" x="69.8" y="108.1"/>
<use href="#ci" x="73.8" y="137.5"/>
<use href="#ci" x="59.4" y="134.0"/>
<use href="#ci" x="60.0" y="128.2"/>
<use href="#ci" x="63.1" y="134.0"/>
<use href="#ci" x="63.2" y="107.0"/>
<use href="#ci" x="75.6" y="124.9"/>
<use href="#ci" x="76.6" y="121.0"/>
<use href="#ci" x="73.2" y="100.3"/>
<use href="#ci" x="73.6" y="126.3"/>
<use href="#ci" x="72.1" y="112.3"/>
<use href="#ci" x="79.8" y="131.4"/>
<use href="#ci" x="81.5" y="135.4"/>
<use href="#ci" x="53.2" y="132.6"/>
<use href="#ci" x="55.3" y="128.8"/>
<use href="#ci" x="76.3" y="112.5"/>
<use href="#ci" x="62.9" y="137.5"/>
<use href="#ci" x="69.1" y="132.8"/>
<use href="#ci" x="73.0" y="98.3"/>
<use href="#ci" x="66.0" y="115.3"/>
<use href="#ci" x="78.3" y="111.6"/>
<use href="#ci" x="76.0" y="119.6"/>
<use href="#ci" x="59.4" y="133.2"/>
<use href="#ci" x="55.1" y="131.4"/>
<use href="#ci" x="58.9" y="129.0"/>
<use href="#ci" x="68.7" y="117.6"/>
<use href="#ci" x="68.8" y="111.6"/>
<use href="#ci" x="59.3" y="126.4"/>
<use href="#ci" x="68.9" y="101.6"/>
<use href="#ci" x="73.6" y="100.4"/>
<use href="#ci" x="78.8" y="126.3"/>
<use href="#ci" x="78.8" y="123.4"/>
<use href="#ci" x="64.1" y="113.9"/>
<use href="#ci" x="65.4" y="134.4"/>
<use href="#ci" x="54.9" y="134.3"/>
<use href="#ci" x="60.9" y="134.9"/>
<use href="#ci" x="69.0" y="112.9"/>
<use href="#ci" x="67.7" y="119.3"/>
<use href="#ci" x="77.7" y="128.6"/>
<use href="#ci" x="74.0" y="111.6"/>
<use href="#ci" x="77.2" y="104.1"/>
<use href="#ci" x="66.9" y="129.5"/>
<use href="#ci" x="71.7" y="102.3"/>
<use href="#ci" x="67.7" y="134.2"/>
<use href="#ci" x="62.3" y="126.5"/>
<use href="#ci" x="63.1" y="118.9"/>
<use href="#ci" x="58.4" y="138.0"/>
<use href="#ci" x="76.8" y="101.3"/>
<use href="#ci" x="65.1" y="138.3"/>
<use href="#ci" x="79.0" y="127.8"/>
<use href="#ci" x="66.8" y="105.2"/>
<use href="#ci" x="73.7" y="101.5"/>
<use href="#ci" x="59.0" y="113.3"/>
<use href="#ci" x="78.9" y="126.1"/>
<use href="#ci" x="69.0" y="123.6"/>
<use href="#ci" x="67.8" y="103.0"/>
<use href="#ci" x="72.5" y="114.0"/>
<use href="#ci" x="77.2" y="135.1"/>
<use href="#ci" x="66.6" y="121.1"/>
<use href="#ci" x="77.5" y="114.7"/>
<use href="#ci" x="59.8" y="127.3"/>
<use href="#ci" x="75.8" y="132.8"/>
<use href="#ci" x="75.1" y="123.9"/>
<use href="#ci" x="67.4" y="110.1"/>
<use href="#ci" x="73.4" y="101.1"/>
<use href="#ci" x="66.3" y="129.9"/>
<use href="#ci" x="76.2" y="123.4"/>
<use href="#ci" x="60.5" y="114.8"/>
<use href="#ci" x="67.5" y="123.1"/>
<use href="#ci" x="65.9" y="125.4"/>
<use href="#ci" x="74.3" y="129.7"/>
<use href="#ci" x="65.2" y="117.6"/>
<use href="#ci" x="70.5" y="103.8"/>
<use href="#ci" x="78.6" y="136.5"/>
<use href="#ci" x="69.7" y="101.2"/>
<use href="#ci" x="71.5" y="119.7"/>
<use href="#ci" x="76.4" y="118.5"/>
<use href="#ci" x="73.7" y="131.8"/>
<use href="#ci" x="69.7" y="114.2"/>
<use href="#ci" x="75.3" y="113.5"/>
<use href="#ci" x="77.9" y="102.1"/>
<use href="#ci" x="66.2" y="114.7"/>
<use href="#ci" x="75.7" y="111.8"/>
<use href="#ci" x="77.2" y="136.5"/>
<use href="#ci" x="69.9" y="106.2"/>
<use href="#ci" x="78.4" y="131.0"/>
<use href="#ci" x="73.6" y="116.7"/>
<use href="#ci" x="71.1" y="106.5"/>
<use href="#ci" x="73.7" y="131.4"/>
<use href="#ci" x="62.0" y="120.0"/>
<use href="#ci" x="56.3" y="132.0"/>
<use href="#ci" x="64.1" y="132.7"/>
<use href="#ci" x="61.1" y="112.8"/>
<use href="#ci" x="60.6" y="114.9"/>
<use href="#ci" x="76.5" y="108.8"/>
<use href="#ci" x="60.3" y="109.7"/>
<use href="#ci" x="68.3" y="115.0"/>
<use href="#ci" x="73.7" y="124.7"/>
<use href="#ci" x="64.3" y="136.0"/>
<use href="#ci" x="80.1" y="135.0"/>
<use href="#ci" x="78.4" y="111.6"/>
<use href="#ci" x="57.2" y="135.0"/>
<use href="#ci" x="78.6" y="125.1"/>
<use href="#ci" x="75.6" y="119.3"/>
<use href="#ci" x="77.2" y="115.4"/>
<use href="#ci" x="56.7" y="117.7"/>
<use href="#ci" x="56.9" y="117.6"/>
<use href="#ci" x="68.9" y="119.7"/>
<use href="#ci" x="71.1" y="124.9"/>
<use href="#ci" x="66.2" y="137.3"/>
<use href="#ci" x="54.6" y="123.8"/>
<use href="#ci" x="73.6" y="98.2"/>
<use href="#ci" x="72.7" y="125.7"/>
<use href="#ci" x="68.5" y="134.7"/>
<use href="#ci" x="73.3" y="111.2"/>
<use href="#ci" x="68.1" y="119.1"/>
<use href="#ci" x="78.2" y="105.9"/>
<use href="#ci" x="66.8" y="114.7"/>
<use href="#ci" x="70.8" y="131.7"/>
<use href="#ci" x="62.0" y="131.8"/>
<use href="#ci" x="65.7" y="118.2"/>
<use href="#ci" x="61.2" y="118.3"/>
<use href="#ci" x="78.9" y="110.9"/>
<use href="#ci" x="62.8" y="109.6"/>
<use href="#ci" x="71.9" y="123.7"/>
<use href="#ci" x="76.6" y="134.2"/>
<use href="#ci" x="70.5" y="99.1"/>
<use href="#ci" x="58.5" y="135.7"/>
<use href="#ci" x="72.7" y="124.6"/>
<use href="#ci" x="78.8" y="135.2"/>
<use href="#ci" x="72.8" y="122.9"/>
<use href="#ci" x="73.3" y="126.2"/>
<use href="#ci" x="72.3" y="125.6"/>
<use href="#ci" x="59.2" y="125.0"/>
<use href="#ci" x="67.6" y="129.0"/>
<use href="#ci" x="53.3" y="129.5"/>
<use href="#ci" x="64.5" y="131.5"/>
<use href="#ci" x="78.7" y="120.6"/>
<use href="#ci" x="60.8" y="109.7"/>
<use href="#ci" x="66.3" y="110.4"/>
<use href="#ci" x="66.6" y="124.0"/>
<use href="#ci" x="71.3" y="98.7"/>
<use href="#ci" x="56.0" y="131.0"/>
<use href="#ci" x="71.6" y="135.6"/>
<use href="#ci" x="65.2" y="121.9"/>
<use href="#ci" x="83.9" y="138.2"/>
<use href="#ci" x="68.2" y="114.3"/>
<use href="#ci" x="55.5" y="124.1"/>
<use href="#ci" x="75.2" y="102.1"/>
<use href="#ci" x="60.2" y="127.8"/>
<use href="#ci" x="78.3" y="127.0"/>
<use href="#ci" x="54.9" y="123.4"/>
<use href="#ci" x="76.1" y="116.3"/>
<use href="#ci" x="74.1" y="131.3"/>
<use href="#ci" x="76.8" y="104.0"/>
<use href="#ci" x="71.5" y="115.4"/>
<use href="#ci" x="75.0" y="103.1"/>
<use href="#ci" x="73.9" y="123.4"/>
<use href="#ci" x="66.2" y="113.2"/>
<use href="#ci" x="78.7" y="136.7"/>
<use href="#ci" x="78.7" y="120.8"/>
<use href="#ci" x="72.6" y="138.1"/>
<use href="#ci" x="62.5" y="115.0"/>
<use href="#ci" x="75.3" y="122.3"/>
<use href="#ci" x="60.9" y="114.7"/>
<use href="#ci" x="71.9" y="131.3"/>
<use href="#ci" x="80.3" y="131.1"/>
<use href="#ci" x="61.3" y="132.7"/>
<use href="#ci" x="77.5" y="136.1"/>
<use href="#ci" x="60.0" y="122.5"/>
<use href="#ci" x="75.0" y="116.5"/>
<use href="#ci" x="77.5" y="130.2"/>
<use href="#ci" x="67.6" y="100.7"/>
<use href="#ci" x="79.4" y="129.4"/>
<use href="#ci" x="59.9" y="121.3"/>
<use href="#ci" x="69.7" y="117.0"/>
<use href="#ci" x="72.0" y="104.9"/>
<use href="#ci" x="75.8" y="112.2"/>
<use href="#ci" x="71.2" y="113.9"/>
<use href="#ci" x="69.6" y="103.3"/>
<use href="#ci" x="53.5" y="138.9"/>
<use href="#ci" x="73.5" y="130.1"/>
<use href="#ci" x="57.3" y="122.1"/>
<use href="#ci" x="63.7" y="118.8"/>
<use href="#ci" x="68.5" y="120.8"/>
<use href="#ci" x="60.9" y="129.7"/>
<use href="#ci" x="66.5" y="136.8"/>
<use href="#ci" x="78.1" y="131.4"/>
<use href="#ci" x="71.2" y="123.9"/>
<use href="#ci" x="65.4" y="115.8"/>
<use href="#ci" x="57.4" y="137.6"/>
<use href="#ci" x="64.0" y="134.9"/>
<use href="#ci" x="53.6" y="130.0"/>
<use href="#ci" x="76.1" y="124.2"/>
<use href="#ci" x="56.9" y="128.7"/>
<use href="#ci" x="62.2" y="121.8"/>
<use href="#ci" x="77.8" y="101.4"/>
<use href="#ci" x="63.0" y="107.8"/>
<use href="#ci" x="56.2" y="117.2"/>
<use href="#ci" x="56.9" y="125.5"/>
<use href="#ci" x="67.2" y="101.1"/>
<use href="#ci" x="73.4" y="116.0"/>
<use href="#ci" x="63.6" y="131.6"/>
<use href="#ci" x="68.2" y="123.4"/>
<use href="#ci" x="53.9" y="127.0"/>
<use href="#ci" x="70.8" y="103.1"/>
<use href="#ci" x="66.0" y="103.5"/>
<use href="#ci" x="61.2" y="132.3"/>
<use href="#ci" x="68.7" y="110.4"/>
<use href="#ci" x="59.2" y="117.1"/>
<use href="#ci" x="61.7" y="107.8"/>
<use href="#ci" x="58.9" y="112.3"/>
<use href="#ci" x="85.7" y="138.9"/>
<use href="#ci" x="61.8" y="134.6"/>
<use href="#ci" x="54.0" y="127.5"/>
<use href="#ci" x="62.0" y="138.1"/>
<use href="#ci" x="69.9" y="104.8"/>
<use href="#ci" x="66.8" y="135.3"/>
<use href="#ci" x="59.4" y="121.0"/>
<use href="#ci" x="78.2" y="126.9"/>
<use href="#ci" x="45.4" y="135.5"/>
<use href="#ci" x="83.7" y="81.9"/>
<use href="#ci" x="84.5" y="84.4"/>
<use href="#ci" x="82.9" y="87.6"/>
<use href="#ci" x="69.8" y="92.6"/>
<use href="#ci" x="84.5" y="95.0"/>
<use href="#ci" x="68.2" y="95.0"/>
<use href="#ci" x="66.5" y="97.5"/>
<use href="#ci" x="79.6" y="97.5"/>
<use href="#ci" x="82.0" y="98.3"/>
<use href="#ci" x="158.0" y="106.0"/>
<use href="#ci" x="164.0" y="106.0"/>
<use href="#ci" x="165.3" y="119.0"/>
<use href="#ci" x="90.6" y="133.6"/>
<use href="#ci" x="96.2" y="134.2"/>
<use href="#ci" x="106.2" y="134.2"/>
<use href="#ci" x="116.0" y="135.0"/>
<use href="#st" x="163.7" y="66.4"/>
<use href="#st" x="169.5" y="70.1"/>
<use href="#st" x="165.8" y="67.5"/>
<use href="#st" x="181.6" y="73.0"/>
<use href="#st" x="98.9" y="75.4"/>
<use href="#st" x="104.7" y="78.5"/>
<use href="#st" x="104.6" y="75.3"/>
<use href="#st" x="105.6" y="77.8"/>
<use href="#st" x="105.9" y="82.7"/>
<use href="#st" x="102.1" y="74.9"/>
<use href="#st" x="106.7" y="79.1"/>
<use href="#st" x="106.3" y="77.2"/>
<use href="#st" x="98.7" y="82.4"/>
<use href="#st" x="100.7" y="76.3"/>
<use href="#st" x="114.2" y="74.8"/>
<use href="#st" x="113.4" y="78.8"/>
<use href="#st" x="113.4" y="75.9"/>
<use href="#st" x="115.6" y="82.2"/>
<use href="#st" x="117.2" y="77.7"/>
<use href="#st" x="115.5" y="78.3"/>
<use href="#st" x="116.0" y="75.3"/>
<use href="#st" x="117.3" y="83.5"/>
<use href="#st" x="113.1" y="79.5"/>
<use href="#st" x="113.5" y="79.7"/>
<use href="#st" x="107.9" y="83.6"/>
<use href="#st" x="110.1" y="76.4"/>
<use href="#st" x="108.8" y="77.0"/>
<use href="#st" x="116.7" y="75.0"/>
<use href="#st" x="108.7" y="81.2"/>
<use href="#st" x="109.8" y="74.9"/>
<use href="#st" x="114.3" y="80.0"/>
<use href="#st" x="113.4" y="81.2"/>
<use href="#st" x="108.8" y="82.7"/>
<use href="#st" x="115.6" y="75.2"/>
<use href="#st" x="124.1" y="79.3"/>
<use href="#st" x="121.8" y="75.9"/>
<use href="#st" x="123.2" y="76.0"/>
<use href="#st" x="139.2" y="76.1"/>
<use href="#st" x="136.0" y="81.6"/>
<use href="#st" x="131.5" y="82.3"/>
<use href="#st" x="145.0" y="78.6"/>
<use href="#st" x="157.6" y="78.4"/>
<use href="#st" x="162.2" y="81.9"/>
<use href="#st" x="155.5" y="77.0"/>
<use href="#st" x="155.5" y="78.7"/>
<use href="#st" x="162.6" y="82.1"/>
<use href="#st" x="171.8" y="82.5"/>
<use href="#st" x="163.4" y="79.5"/>
<use href="#st" x="173.4" y="83.3"/>
<use href="#st" x="165.5" y="78.6"/>
<use href="#st" x="169.8" y="78.1"/>
<use href="#st" x="168.7" y="75.4"/>
<use href="#st" x="167.6" y="79.4"/>
<use href="#st" x="175.4" y="83.7"/>
<use href="#st" x="182.4" y="83.3"/>
<use href="#st" x="180.8" y="82.2"/>
<use href="#st" x="183.6" y="82.9"/>
<use href="#st" x="92.7" y="86.4"/>
<use href="#st" x="93.1" y="86.4"/>
<use href="#st" x="91.6" y="92.4"/>
<use href="#st" x="92.5" y="86.2"/>
<use href="#st" x="101.4" y="92.7"/>
<use href="#st" x="99.8" y="86.7"/>
<use href="#st" x="103.8" y="85.0"/>
<use href="#st" x="103.2" y="92.7"/>
<use href="#st" x="102.3" y="86.4"/>
<use href="#st" x="101.8" y="88.8"/>
<use href="#st" x="98.3" y="85.1"/>
<use href="#st" x="98.1" y="86.6"/>
<use href="#st" x="101.1" y="86.6"/>
<use href="#st" x="99.3" y="84.7"/>
<use href="#st" x="102.7" y="91.6"/>
<use href="#st" x="103.4" y="89.2"/>
<use href="#st" x="103.8" y="85.8"/>
<use href="#st" x="104.5" y="88.2"/>
<use href="#st" x="102.7" y="89.6"/>
<use href="#st" x="101.8" y="86.8"/>
<use href="#st" x="99.3" y="86.0"/>
<use href="#st" x="102.3" y="87.4"/>
<use href="#st" x="103.1" y="84.0"/>
<use href="#st" x="100.5" y="91.8"/>
<use href="#st" x="99.3" y="89.0"/>
<use href="#st" x="102.1" y="86.5"/>
<use href="#st" x="107.5" y="86.6"/>
<use href="#st" x="105.2" y="85.4"/>
<use href="#st" x="97.4" y="91.9"/>
<use href="#st" x="101.5" y="84.5"/>
<use href="#st" x="100.9" y="88.0"/>
<use href="#st" x="104.8" y="84.9"/>
<use href="#st" x="99.1" y="92.7"/>
<use href="#st" x="104.8" y="85.3"/>
<use href="#st" x="111.6" y="90.1"/>
<use href="#st" x="114.5" y="91.7"/>
<use href="#st" x="116.7" y="88.7"/>
<use href="#st" x="115.8" y="90.8"/>
<use href="#st" x="116.1" y="88.3"/>
<use href="#st" x="116.3" y="90.4"/>
<use href="#st" x="117.8" y="85.1"/>
<use href="#st" x="117.3" y="84.0"/>
<use href="#st" x="116.1" y="89.3"/>
<use href="#st" x="113.2" y="92.8"/>
<use href="#st" x="114.0" y="87.8"/>
<use href="#st" x="116.3" y="91.9"/>
<use href="#st" x="114.4" y="87.4"/>
<use href="#st" x="112.7" y="88.1"/>
<use href="#st" x="115.6" y="86.6"/>
<use href="#st" x="112.0" y="89.0"/>
<use href="#st" x="111.9" y="86.9"/>
<use href="#st" x="116.4" y="91.7"/>
<use href="#st" x="113.2" y="88.0"/>
<use href="#st" x="109.7" y="86.7"/>
<use href="#st" x="125.0" y="89.3"/>
<use href="#st" x="119.7" y="92.4"/>
<use href="#st" x="122.3" y="91.7"/>
<use href="#st" x="127.9" y="92.7"/>
<use href="#st" x="121.0" y="87.8"/>
<use href="#st" x="128.7" y="84.0"/>
<use href="#st" x="119.2" y="89.1"/>
<use href="#st" x="124.2" y="92.4"/>
<use href="#st" x="135.7" y="93.1"/>
<use href="#st" x="135.4" y="88.7"/>
<use href="#st" x="137.3" y="87.5"/>
<use href="#st" x="133.7" y="89.4"/>
<use href="#st" x="133.6" y="92.6"/>
<use href="#st" x="137.2" y="88.7"/>
<use href="#st" x="130.8" y="87.4"/>
<use href="#st" x="146.9" y="89.2"/>
<use href="#st" x="150.5" y="92.8"/>
<use href="#st" x="146.1" y="88.0"/>
<use href="#st" x="147.6" y="93.1"/>
<use href="#st" x="144.5" y="88.8"/>
<use href="#st" x="153.7" y="86.8"/>
<use href="#st" x="162.6" y="91.5"/>
<use href="#st" x="157.4" y="84.9"/>
<use href="#st" x="161.6" y="90.3"/>
<use href="#st" x="160.8" y="93.0"/>
<use href="#st" x="161.6" y="87.8"/>
<use href="#st" x="153.5" y="86.6"/>
<use href="#st" x="168.4" y="85.7"/>
<use href="#st" x="164.8" y="89.7"/>
<use href="#st" x="169.4" y="87.2"/>
<use href="#st" x="173.8" y="89.8"/>
<use href="#st" x="163.3" y="87.7"/>
<use href="#st" x="171.5" y="86.7"/>
<use href="#st" x="170.4" y="84.0"/>
<use href="#st" x="166.2" y="91.7"/>
<use href="#st" x="181.2" y="85.7"/>
<use href="#st" x="179.3" y="89.0"/>
<use href="#st" x="176.8" y="89.9"/>
<use href="#st" x="179.7" y="93.1"/>
<use href="#st" x="180.2" y="87.7"/>
<use href="#st" x="76.3" y="100.1"/>
<use href="#st" x="75.8" y="94.0"/>
<use href="#st" x="91.4" y="100.7"/>
<use href="#st" x="92.4" y="100.5"/>
<use href="#st" x="86.3" y="93.2"/>
<use href="#st" x="94.1" y="96.1"/>
<use href="#st" x="93.5" y="96.4"/>
<use href="#st" x="87.5" y="95.6"/>
<use href="#st" x="86.7" y="101.4"/>
<use href="#st" x="92.0" y="96.3"/>
<use href="#st" x="90.6" y="96.6"/>
<use href="#st" x="86.2" y="101.3"/>
<use href="#st" x="92.0" y="101.9"/>
<use href="#st" x="90.5" y="98.8"/>
<use href="#st" x="88.4" y="93.5"/>
<use href="#st" x="95.9" y="101.0"/>
<use href="#st" x="106.6" y="100.6"/>
<use href="#st" x="100.0" y="98.6"/>
<use href="#st" x="107.2" y="97.7"/>
<use href="#st" x="107.1" y="95.3"/>
<use href="#st" x="100.9" y="99.7"/>
<use href="#st" x="99.1" y="95.9"/>
<use href="#st" x="106.3" y="97.6"/>
<use href="#st" x="105.4" y="95.3"/>
<use href="#st" x="98.6" y="96.4"/>
<use href="#st" x="98.7" y="102.0"/>
<use href="#st" x="99.9" y="98.3"/>
<use href="#st" x="97.9" y="98.0"/>
<use href="#st" x="100.9" y="96.8"/>
<use href="#st" x="97.4" y="94.2"/>
<use href="#st" x="105.8" y="96.3"/>
<use href="#st" x="99.4" y="94.9"/>
<use href="#st" x="99.8" y="95.3"/>
<use href="#st" x="97.0" y="99.2"/>
<use href="#st" x="100.4" y="94.5"/>
<use href="#st" x="104.4" y="94.0"/>
<use href="#st" x="116.9" y="94.3"/>
<use href="#st" x="112.6" y="100.8"/>
<use href="#st" x="116.5" y="94.6"/>
<use href="#st" x="111.6" y="99.7"/>
<use href="#st" x="111.8" y="101.9"/>
<use href="#st" x="110.0" y="101.8"/>
<use href="#st" x="113.2" y="95.2"/>
<use href="#st" x="112.7" y="94.3"/>
<use href="#st" x="115.5" y="95.5"/>
<use href="#st" x="117.6" y="98.5"/>
<use href="#st" x="111.7" y="95.4"/>
<use href="#st" x="114.4" y="95.1"/>
<use href="#st" x="117.3" y="94.2"/>
<use href="#st" x="113.3" y="98.1"/>
<use href="#st" x="127.2" y="96.6"/>
<use href="#st" x="125.9" y="98.3"/>
<use href="#st" x="122.1" y="96.7"/>
<use href="#st" x="119.6" y="94.7"/>
<use href="#st" x="128.1" y="96.1"/>
<use href="#st" x="126.0" y="94.1"/>
<use href="#st" x="124.9" y="96.4"/>
<use href="#st" x="124.2" y="95.8"/>
<use href="#st" x="119.4" y="96.0"/>
<use href="#st" x="121.2" y="94.3"/>
<use href="#st" x="132.8" y="96.8"/>
<use href="#st" x="139.7" y="100.2"/>
<use href="#st" x="139.5" y="101.0"/>
<use href="#st" x="131.2" y="95.6"/>
<use href="#st" x="130.1" y="99.3"/>
<use href="#st" x="137.0" y="96.3"/>
<use href="#st" x="134.3" y="99.2"/>
<use href="#st" x="137.4" y="95.4"/>
<use href="#st" x="139.1" y="96.3"/>
<use href="#st" x="136.7" y="94.8"/>
<use href="#st" x="150.8" y="99.8"/>
<use href="#st" x="148.6" y="93.5"/>
<use href="#st" x="141.2" y="94.6"/>
<use href="#st" x="142.9" y="95.9"/>
<use href="#st" x="144.9" y="93.5"/>
<use href="#st" x="144.2" y="99.0"/>
<use href="#st" x="142.7" y="100.8"/>
<use href="#st" x="147.0" y="99.7"/>
<use href="#st" x="143.6" y="97.1"/>
<use href="#st" x="148.3" y="96.3"/>
<use href="#st" x="140.8" y="100.8"/>
<use href="#st" x="154.9" y="93.5"/>
<use href="#st" x="161.2" y="98.7"/>
<use href="#st" x="152.3" y="95.4"/>
<use href="#st" x="153.0" y="100.4"/>
<use href="#st" x="154.1" y="101.5"/>
<use href="#st" x="160.0" y="93.9"/>
<use href="#st" x="159.4" y="96.7"/>
<use href="#st" x="160.0" y="100.7"/>
<use href="#st" x="154.9" y="93.9"/>
<use href="#st" x="162.2" y="97.0"/>
<use href="#st" x="170.4" y="99.9"/>
<use href="#st" x="172.0" y="98.9"/>
<use href="#st" x="167.8" y="93.6"/>
<use href="#st" x="170.5" y="97.0"/>
<use href="#st" x="168.4" y="101.6"/>
<use href="#st" x="164.2" y="100.1"/>
<use href="#st" x="163.3" y="99.6"/>
<use href="#st" x="171.7" y="95.5"/>
<use href="#st" x="168.8" y="102.0"/>
<use href="#st" x="169.8" y="98.1"/>
<use href="#st" x="165.6" y="93.7"/>
<use href="#st" x="166.7" y="96.9"/>
<use href="#st" x="165.0" y="96.0"/>
<use href="#st" x="164.3" y="99.6"/>
<use href="#st" x="176.4" y="95.3"/>
<use href="#st" x="179.5" y="97.2"/>
<use href="#st" x="184.1" y="96.3"/>
<use href="#st" x="95.4" y="103.6"/>
<use href="#st" x="91.8" y="105.3"/>
<use href="#st" x="94.6" y="107.3"/>
<use href="#st" x="94.0" y="103.8"/>
<use href="#st" x="93.0" y="107.8"/>
<use href="#st" x="90.7" y="109.3"/>
<use href="#st" x="94.8" y="103.3"/>
<use href="#st" x="88.8" y="105.6"/>
<use href="#st" x="87.9" y="102.8"/>
<use href="#st" x="88.7" y="104.1"/>
<use href="#st" x="93.4" y="106.4"/>
<use href="#st" x="86.9" y="105.3"/>
<use href="#st" x="90.8" y="105.6"/>
<use href="#st" x="87.5" y="102.9"/>
<use href="#st" x="107.6" y="109.2"/>
<use href="#st" x="97.6" y="108.9"/>
<use href="#st" x="107.5" y="107.5"/>
<use href="#st" x="97.8" y="106.8"/>
<use href="#st" x="101.4" y="104.0"/>
<use href="#st" x="102.6" y="102.4"/>
<use href="#st" x="106.8" y="108.2"/>
<use href="#st" x="103.6" y="110.9"/>
<use href="#st" x="103.8" y="104.6"/>
<use href="#st" x="99.4" y="103.6"/>
<use href="#st" x="97.0" y="109.4"/>
<use href="#st" x="105.9" y="105.0"/>
<use href="#st" x="98.7" y="108.1"/>
<use href="#st" x="106.0" y="110.8"/>
<use href="#st" x="98.5" y="109.5"/>
<use href="#st" x="115.9" y="105.3"/>
<use href="#st" x="109.7" y="109.9"/>
<use href="#st" x="111.2" y="105.7"/>
<use href="#st" x="113.8" y="105.7"/>
<use href="#st" x="116.8" y="104.5"/>
<use href="#st" x="108.1" y="107.5"/>
<use href="#st" x="114.6" y="109.8"/>
<use href="#st" x="115.5" y="110.6"/>
<use href="#st" x="118.1" y="106.8"/>
<use href="#st" x="113.2" y="103.7"/>
<use href="#st" x="111.0" y="107.6"/>
<use href="#st" x="108.6" y="108.6"/>
<use href="#st" x="109.5" y="106.4"/>
<use href="#st" x="118.4" y="103.1"/>
<use href="#st" x="123.5" y="104.0"/>
<use href="#st" x="126.7" y="102.3"/>
<use href="#st" x="128.0" y="110.1"/>
<use href="#st" x="127.4" y="106.2"/>
<use href="#st" x="121.8" y="108.4"/>
<use href="#st" x="124.4" y="106.2"/>
<use href="#st" x="122.4" y="106.3"/>
<use href="#st" x="126.0" y="109.9"/>
<use href="#st" x="128.7" y="103.8"/>
<use href="#st" x="122.0" y="106.4"/>
<use href="#st" x="124.9" y="105.5"/>
<use href="#st" x="120.9" y="103.1"/>
<use href="#st" x="122.3" y="106.5"/>
<use href="#st" x="129.4" y="110.6"/>
<use href="#st" x="128.2" y="111.2"/>
<use href="#st" x="129.3" y="108.0"/>
<use href="#st" x="127.6" y="102.8"/>
<use href="#st" x="126.2" y="107.9"/>
<use href="#st" x="122.0" y="107.5"/>
<use href="#st" x="129.2" y="106.7"/>
<use href="#st" x="125.8" y="105.0"/>
<use href="#st" x="139.5" y="102.5"/>
<use href="#st" x="131.8" y="108.5"/>
<use href="#st" x="134.7" y="103.1"/>
<use href="#st" x="137.0" y="105.7"/>
<use href="#st" x="136.1" y="106.1"/>
<use href="#st" x="135.6" y="107.5"/>
<use href="#st" x="134.1" y="103.3"/>
<use href="#st" x="131.7" y="110.5"/>
<use href="#st" x="135.8" y="103.3"/>
<use href="#st" x="139.2" y="104.6"/>
<use href="#st" x="130.8" y="107.2"/>
<use href="#st" x="132.5" y="106.8"/>
<use href="#st" x="135.8" y="104.4"/>
<use href="#st" x="136.0" y="103.3"/>
<use href="#st" x="147.2" y="103.0"/>
<use href="#st" x="145.2" y="103.0"/>
<use href="#st" x="145.6" y="110.2"/>
<use href="#st" x="146.8" y="108.8"/>
<use href="#st" x="149.1" y="103.3"/>
<use href="#st" x="151.7" y="108.9"/>
<use href="#st" x="141.9" y="109.9"/>
<use href="#st" x="145.1" y="103.9"/>
<use href="#st" x="158.0" y="109.4"/>
<use href="#st" x="153.3" y="109.4"/>
<use href="#st" x="152.4" y="104.5"/>
<use href="#st" x="155.9" y="102.4"/>
<use href="#st" x="158.3" y="104.2"/>
<use href="#st" x="155.1" y="108.8"/>
<use href="#st" x="156.5" y="110.4"/>
<use href="#st" x="158.6" y="110.3"/>
<use href="#st" x="158.0" y="110.7"/>
<use href="#st" x="161.4" y="103.8"/>
<use href="#st" x="160.0" y="105.4"/>
<use href="#st" x="160.2" y="108.5"/>
<use href="#st" x="160.9" y="103.4"/>
<use href="#st" x="155.9" y="109.1"/>
<use href="#st" x="170.8" y="102.7"/>
<use href="#st" x="169.5" y="103.2"/>
<use href="#st" x="168.9" y="109.7"/>
<use href="#st" x="164.0" y="110.8"/>
<use href="#st" x="170.2" y="104.6"/>
<use href="#st" x="164.9" y="106.4"/>
<use href="#st" x="172.0" y="107.6"/>
<use href="#st" x="174.1" y="103.3"/>
<use href="#st" x="182.7" y="104.0"/>
<use href="#st" x="179.9" y="104.9"/>
<use href="#st" x="89.8" y="112.8"/>
<use href="#st" x="95.3" y="116.4"/>
<use href="#st" x="93.2" y="118.9"/>
<use href="#st" x="96.1" y="111.6"/>
<use href="#st" x="89.4" y="112.8"/>
<use href="#st" x="91.2" y="119.5"/>
<use href="#st" x="94.5" y="111.8"/>
<use href="#st" x="87.6" y="119.0"/>
<use href="#st" x="93.1" y="115.1"/>
<use href="#st" x="90.9" y="112.9"/>
<use href="#st" x="94.9" y="115.1"/>
<use href="#st" x="95.3" y="117.1"/>
<use href="#st" x="86.5" y="114.5"/>
<use href="#st" x="88.0" y="119.7"/>
<use href="#st" x="97.1" y="113.0"/>
<use href="#st" x="100.6" y="115.8"/>
<use href="#st" x="103.0" y="115.0"/>
<use href="#st" x="100.5" y="111.5"/>
<use href="#st" x="103.0" y="114.5"/>
<use href="#st" x="96.9" y="115.7"/>
<use href="#st" x="107.5" y="111.9"/>
<use href="#st" x="98.3" y="117.6"/>
<use href="#st" x="99.7" y="114.0"/>
<use href="#st" x="102.2" y="113.9"/>
<use href="#st" x="102.9" y="116.3"/>
<use href="#st" x="107.2" y="120.6"/>
<use href="#st" x="97.0" y="116.6"/>
<use href="#st" x="105.1" y="119.5"/>
<use href="#st" x="114.7" y="117.3"/>
<use href="#st" x="111.7" y="114.0"/>
<use href="#st" x="116.4" y="119.5"/>
<use href="#st" x="118.0" y="117.7"/>
<use href="#st" x="111.0" y="118.5"/>
<use href="#st" x="115.8" y="116.1"/>
<use href="#st" x="114.7" y="114.7"/>
<use href="#st" x="113.7" y="115.2"/>
<use href="#st" x="108.3" y="114.6"/>
<use href="#st" x="111.2" y="120.5"/>
<use href="#st" x="113.0" y="114.8"/>
<use href="#st" x="110.4" y="113.6"/>
<use href="#st" x="111.5" y="112.7"/>
<use href="#st" x="107.8" y="119.5"/>
<use href="#st" x="123.6" y="116.7"/>
<use href="#st" x="122.0" y="113.0"/>
<use href="#st" x="119.4" y="114.2"/>
<use href="#st" x="122.1" y="118.1"/>
<use href="#st" x="124.8" y="120.1"/>
<use href="#st" x="122.5" y="119.9"/>
<use href="#st" x="125.1" y="112.2"/>
<use href="#st" x="120.7" y="116.8"/>
<use href="#st" x="129.6" y="114.7"/>
<use href="#st" x="127.2" y="115.4"/>
<use href="#st" x="128.3" y="112.1"/>
<use href="#st" x="124.0" y="119.7"/>
<use href="#st" x="121.7" y="113.8"/>
<use href="#st" x="119.0" y="113.0"/>
<use href="#st" x="121.7" y="117.9"/>
<use href="#st" x="121.1" y="115.1"/>
<use href="#st" x="120.9" y="117.0"/>
<use href="#st" x="128.2" y="117.4"/>
<use href="#st" x="120.9" y="118.2"/>
<use href="#st" x="129.3" y="117.0"/>
<use href="#st" x="138.6" y="119.5"/>
<use href="#st" x="133.5" y="112.7"/>
<use href="#st" x="131.8" y="116.4"/>
<use href="#st" x="139.4" y="117.3"/>
<use href="#st" x="139.9" y="113.4"/>
<use href="#st" x="133.3" y="118.3"/>
<use href="#st" x="136.9" y="115.2"/>
<use href="#st" x="137.2" y="114.6"/>
<use href="#st" x="130.4" y="115.3"/>
<use href="#st" x="130.2" y="117.2"/>
<use href="#st" x="133.4" y="116.0"/>
<use href="#st" x="143.6" y="115.7"/>
<use href="#st" x="140.9" y="120.0"/>
<use href="#st" x="147.0" y="120.5"/>
<use href="#st" x="158.5" y="118.1"/>
<use href="#st" x="155.4" y="112.3"/>
<use href="#st" x="153.5" y="112.8"/>
<use href="#st" x="160.2" y="112.3"/>
<use href="#st" x="160.7" y="115.3"/>
<use href="#st" x="157.7" y="116.9"/>
<use href="#st" x="157.9" y="117.5"/>
<use href="#st" x="158.4" y="114.5"/>
<use href="#st" x="165.6" y="118.0"/>
<use href="#st" x="171.2" y="118.6"/>
<use href="#st" x="166.2" y="118.6"/>
<use href="#st" x="173.6" y="115.6"/>
<use href="#st" x="165.9" y="116.3"/>
<use href="#st" x="87.1" y="120.7"/>
<use href="#st" x="90.9" y="126.7"/>
<use href="#st" x="94.2" y="124.0"/>
<use href="#st" x="96.5" y="122.7"/>
<use href="#st" x="94.0" y="121.5"/>
<use href="#st" x="85.9" y="121.9"/>
<use href="#st" x="86.3" y="125.2"/>
<use href="#st" x="91.7" y="122.3"/>
<use href="#st" x="96.0" y="124.0"/>
<use href="#st" x="87.3" y="122.3"/>
<use href="#st" x="93.8" y="129.1"/>
<use href="#st" x="87.4" y="120.9"/>
<use href="#st" x="94.2" y="122.9"/>
<use href="#st" x="96.5" y="125.2"/>
<use href="#st" x="100.4" y="128.0"/>
<use href="#st" x="101.7" y="123.6"/>
<use href="#st" x="106.6" y="121.6"/>
<use href="#st" x="104.7" y="121.2"/>
<use href="#st" x="103.8" y="124.3"/>
<use href="#st" x="106.2" y="121.2"/>
<use href="#st" x="102.9" y="124.4"/>
<use href="#st" x="106.8" y="129.3"/>
<use href="#st" x="103.6" y="122.7"/>
<use href="#st" x="99.4" y="123.1"/>
<use href="#st" x="110.2" y="122.5"/>
<use href="#st" x="116.0" y="126.5"/>
<use href="#st" x="111.0" y="129.8"/>
<use href="#st" x="110.1" y="125.9"/>
<use href="#st" x="109.4" y="128.6"/>
<use href="#st" x="117.3" y="123.1"/>
<use href="#st" x="116.0" y="128.2"/>
<use href="#st" x="110.8" y="123.7"/>
<use href="#st" x="113.0" y="128.8"/>
<use href="#st" x="109.5" y="126.9"/>
<use href="#st" x="123.7" y="126.0"/>
<use href="#st" x="128.4" y="122.6"/>
<use href="#st" x="128.4" y="124.0"/>
<use href="#st" x="127.3" y="128.6"/>
<use href="#st" x="120.7" y="128.6"/>
<use href="#st" x="129.7" y="123.4"/>
<use href="#st" x="119.0" y="121.7"/>
<use href="#st" x="129.4" y="120.7"/>
<use href="#st" x="128.8" y="122.0"/>
<use href="#st" x="126.8" y="121.5"/>
<use href="#st" x="137.3" y="121.5"/>
<use href="#st" x="133.5" y="129.1"/>
<use href="#st" x="137.6" y="128.7"/>
<use href="#st" x="141.1" y="122.8"/>
<use href="#st" x="159.4" y="121.0"/>
<use href="#st" x="88.2" y="133.8"/>
<use href="#st" x="86.8" y="130.0"/>
<use href="#st" x="96.5" y="132.7"/>
<use href="#st" x="95.3" y="130.9"/>
<use href="#st" x="91.0" y="131.1"/>
<use href="#st" x="98.6" y="136.1"/>
<use href="#st" x="98.3" y="136.6"/>
<use href="#st" x="102.2" y="130.9"/>
<use href="#st" x="100.5" y="134.4"/>
<use href="#st" x="106.8" y="133.0"/>
<use href="#st" x="118.3" y="137.9"/>
<use href="#st" x="115.7" y="132.3"/>
<use href="#st" x="109.6" y="132.3"/>
<use href="#st" x="108.4" y="130.2"/>
<use href="#st" x="113.3" y="133.6"/>
<use href="#st" x="122.7" y="129.9"/>
<use href="#st" x="126.3" y="135.8"/>
<use href="#st" x="124.7" y="134.9"/>
<use href="#st" x="83.6" y="138.3"/>
<use href="#st" x="84.8" y="128.0"/>
<use href="#st" x="81.6" y="112.4"/>
<use href="#st" x="81.8" y="137.9"/>
<use href="#st" x="81.6" y="115.0"/>
<use href="#st" x="81.7" y="105.6"/>
<use href="#st" x="85.6" y="100.2"/>
<use href="#st" x="83.0" y="136.1"/>
<use href="#st" x="80.7" y="123.8"/>
<use href="#st" x="81.5" y="109.4"/>
<use href="#st" x="80.3" y="104.5"/>
<use href="#st" x="84.6" y="130.6"/>
<use href="#st" x="85.0" y="101.9"/>
<use href="#st" x="83.6" y="112.7"/>
<use href="#st" x="83.3" y="121.4"/>
<use href="#st" x="81.1" y="137.9"/>
<use href="#st" x="84.6" y="119.9"/>
<use href="#st" x="82.9" y="138.8"/>
<use href="#st" x="188.6" y="41.4"/>
<use href="#st" x="193.0" y="41.4"/>
<use href="#st" x="198.1" y="39.5"/>
<use href="#st" x="205.0" y="40.0"/>
<use href="#st" x="208.0" y="40.0"/>
<use href="#st" x="211.0" y="40.5"/>
<use href="#st" x="203.0" y="41.0"/>
<use href="#st" x="210.5" y="44.6"/>
<use href="#st" x="212.7" y="42.4"/>
<use href="#st" x="181.3" y="47.2"/>
<use href="#st" x="193.7" y="47.5"/>
<use href="#st" x="196.6" y="47.5"/>
<use href="#st" x="200.3" y="46.8"/>
<use href="#st" x="201.7" y="48.2"/>
<use href="#st" x="186.4" y="49.7"/>
<use href="#st" x="184.3" y="51.6"/>
<use href="#st" x="187.6" y="50.4"/>
<use href="#st" x="220.0" y="48.2"/>
<use href="#st" x="212.7" y="51.9"/>
<use href="#st" x="213.4" y="53.3"/>
<use href="#st" x="169.0" y="54.0"/>
<use href="#st" x="201.0" y="55.5"/>
<use href="#st" x="198.1" y="57.7"/>
<use href="#st" x="198.8" y="60.6"/>
<use href="#st" x="200.3" y="59.2"/>
<use href="#st" x="209.8" y="57.7"/>
<use href="#st" x="192.3" y="60.6"/>
<use href="#st" x="191.5" y="62.8"/>
<use href="#st" x="185.0" y="62.8"/>
<use href="#st" x="184.3" y="64.3"/>
<use href="#st" x="185.7" y="65.0"/>
<use href="#st" x="187.9" y="64.3"/>
<use href="#st" x="177.7" y="65.0"/>
<use href="#st" x="180.6" y="65.0"/>
<use href="#st" x="182.0" y="64.3"/>
<use href="#st" x="174.0" y="65.7"/>
<use href="#st" x="166.8" y="65.0"/>
<use href="#st" x="158.7" y="68.6"/>
<use href="#st" x="164.6" y="67.9"/>
<use href="#st" x="163.8" y="71.5"/>
<use href="#st" x="166.0" y="70.8"/>
<use href="#st" x="165.3" y="73.7"/>
<use href="#st" x="171.9" y="69.4"/>
<use href="#st" x="174.0" y="73.0"/>
<use href="#st" x="179.9" y="70.0"/>
<use href="#st" x="183.5" y="70.0"/>
<use href="#st" x="188.6" y="75.9"/>
<use href="#st" x="191.5" y="76.6"/>
<use href="#st" x="194.5" y="73.0"/>
<use href="#st" x="207.6" y="71.5"/>
<use href="#st" x="161.0" y="73.7"/>
<use href="#st" x="195.2" y="78.8"/>
<use href="#st" x="231.2" y="14.8"/>
<use href="#st" x="198.0" y="39.2"/>
<use href="#st" x="202.4" y="39.9"/>
<use href="#st" x="206.0" y="39.2"/>
<use href="#st" x="209.7" y="40.0"/>
<use href="#st" x="212.2" y="41.7"/>
<use href="#st" x="208.5" y="44.2"/>
<use href="#st" x="198.7" y="46.6"/>
<use href="#st" x="201.1" y="47.2"/>
<use href="#st" x="220.1" y="47.8"/>
<use href="#st" x="208.2" y="71.0"/>
<use href="#st" x="209.2" y="85.9"/>
<use href="#st" x="194.9" y="74.1"/>
<use href="#st" x="194.9" y="79.2"/>
<use href="#st" x="189.8" y="84.3"/>
<use href="#st" x="186.7" y="75.1"/>
<use href="#st" x="190.8" y="76.1"/>
<use href="#st" x="179.6" y="74.1"/>
<use href="#st" x="174.5" y="73.1"/>
<use href="#st" x="191.8" y="102.0"/>
<use href="#st" x="185.7" y="112.9"/>
<use href="#st" x="192.9" y="110.8"/>
</g>
<g>
<use href="#ci" x="330.4" y="129.1"/>
<use href="#ci" x="333.5" y="124.1"/>
<use href="#ci" x="333.3" y="124.4"/>
<use href="#ci" x="332.2" y="128.8"/>
<use href="#ci" x="333.1" y="122.9"/>
<use href="#ci" x="332.8" y="127.4"/>
<use href="#ci" x="330.3" y="128.8"/>
<use href="#ci" x="330.6" y="134.7"/>
<use href="#ci" x="331.8" y="130.9"/>
<use href="#ci" x="332.1" y="126.0"/>
<use href="#ci" x="330.3" y="119.3"/>
<use href="#ci" x="332.1" y="127.0"/>
<use href="#ci" x="333.9" y="121.3"/>
<use href="#ci" x="330.0" y="132.9"/>
<use href="#ci" x="331.8" y="129.3"/>
<use href="#ci" x="334.0" y="134.4"/>
<use href="#ci" x="334.2" y="117.4"/>
<use href="#ci" x="331.3" y="133.1"/>
<use href="#ci" x="333.9" y="119.0"/>
<use href="#ci" x="329.9" y="121.5"/>
<use href="#ci" x="329.6" y="123.6"/>
<use href="#ci" x="333.8" y="126.9"/>
<use href="#ci" x="331.7" y="118.3"/>
<use href="#ci" x="331.4" y="136.4"/>
<use href="#ci" x="333.2" y="125.5"/>
<use href="#ci" x="331.9" y="132.5"/>
<use href="#ci" x="333.6" y="119.5"/>
<use href="#ci" x="333.1" y="123.8"/>
<use href="#ci" x="332.1" y="121.3"/>
<use href="#ci" x="331.2" y="123.3"/>
<use href="#ci" x="330.2" y="127.9"/>
<use href="#ci" x="333.3" y="122.0"/>
<use href="#ci" x="330.9" y="121.3"/>
<use href="#ci" x="334.0" y="118.3"/>
<use href="#ci" x="332.8" y="133.7"/>
<use href="#ci" x="330.2" y="125.0"/>
<use href="#ci" x="333.8" y="128.9"/>
<use href="#ci" x="331.7" y="123.8"/>
<use href="#ci" x="333.3" y="122.4"/>
<use href="#ci" x="331.4" y="129.5"/>
<use href="#ci" x="333.9" y="123.5"/>
<use href="#ci" x="331.3" y="128.1"/>
<use href="#ci" x="334.5" y="120.3"/>
<use href="#ci" x="331.2" y="129.8"/>
<use href="#ci" x="333.5" y="124.1"/>
<use href="#ci" x="332.2" y="126.4"/>
<use href="#ci" x="329.2" y="128.4"/>
<use href="#ci" x="331.8" y="125.7"/>
<use href="#ci" x="334.0" y="124.8"/>
<use href="#ci" x="331.8" y="134.3"/>
<use href="#ci" x="331.6" y="126.3"/>
<use href="#ci" x="332.1" y="133.0"/>
<use href="#ci" x="333.0" y="131.3"/>
<use href="#ci" x="333.1" y="127.6"/>
<use href="#ci" x="333.6" y="131.9"/>
<use href="#ci" x="329.7" y="120.9"/>
<use href="#ci" x="329.5" y="132.8"/>
<use href="#ci" x="333.5" y="127.8"/>
<use href="#ci" x="329.3" y="130.1"/>
<use href="#ci" x="333.3" y="126.2"/>
<use href="#ci" x="329.3" y="130.3"/>
<use href="#ci" x="331.5" y="128.2"/>
<use href="#ci" x="334.2" y="119.4"/>
<use href="#ci" x="331.0" y="126.9"/>
<use href="#ci" x="329.0" y="136.3"/>
<use href="#ci" x="330.6" y="121.7"/>
<use href="#ci" x="330.9" y="121.6"/>
<use href="#ci" x="334.2" y="127.6"/>
<use href="#ci" x="332.1" y="124.9"/>
<use href="#ci" x="334.2" y="132.5"/>
<use href="#ci" x="334.1" y="121.6"/>
<use href="#ci" x="332.2" y="124.0"/>
<use href="#ci" x="331.8" y="126.3"/>
<use href="#ci" x="332.5" y="123.8"/>
<use href="#ci" x="333.8" y="120.5"/>
<use href="#ci" x="332.2" y="124.7"/>
<use href="#ci" x="332.4" y="123.0"/>
<use href="#ci" x="330.6" y="132.4"/>
<use href="#ci" x="330.7" y="130.7"/>
<use href="#ci" x="333.8" y="128.3"/>
<use href="#ci" x="331.7" y="135.2"/>
<use href="#ci" x="331.7" y="134.1"/>
<use href="#ci" x="329.3" y="125.2"/>
<use href="#ci" x="332.8" y="117.5"/>
<use href="#ci" x="334.2" y="117.9"/>
<use href="#ci" x="332.6" y="120.1"/>
<use href="#ci" x="333.8" y="126.5"/>
<use href="#ci" x="333.0" y="130.0"/>
<use href="#ci" x="330.8" y="120.7"/>
<use href="#ci" x="334.0" y="119.4"/>
<use href="#ci" x="334.5" y="120.6"/>
<use href="#ci" x="333.7" y="135.5"/>
<use href="#ci" x="331.5" y="129.7"/>
<use href="#ci" x="330.5" y="134.6"/>
<use href="#ci" x="333.1" y="119.6"/>
<use href="#ci" x="329.3" y="130.4"/>
<use href="#ci" x="329.3" y="133.2"/>
<use href="#ci" x="330.8" y="121.2"/>
<use href="#ci" x="332.5" y="122.9"/>
<use href="#ci" x="332.4" y="119.6"/>
<use href="#ci" x="369.6" y="132.9"/>
<use href="#ci" x="366.8" y="131.9"/>
<use href="#ci" x="348.8" y="134.8"/>
<use href="#ci" x="342.7" y="134.3"/>
<use href="#ci" x="337.7" y="133.8"/>
<use href="#ci" x="362.4" y="133.6"/>
<use href="#ci" x="360.5" y="131.7"/>
<use href="#ci" x="366.3" y="131.7"/>
<use href="#ci" x="370.6" y="134.2"/>
<use href="#ci" x="345.3" y="133.1"/>
<use href="#ci" x="363.3" y="134.0"/>
<use href="#ci" x="370.3" y="131.6"/>
<use href="#ci" x="352.9" y="136.2"/>
<use href="#ci" x="357.3" y="134.2"/>
<use href="#ci" x="344.6" y="136.4"/>
<use href="#ci" x="367.0" y="132.4"/>
<use href="#ci" x="370.1" y="131.2"/>
<use href="#ci" x="347.4" y="136.7"/>
<use href="#ci" x="347.0" y="133.7"/>
<use href="#ci" x="343.6" y="135.5"/>
<use href="#ci" x="341.0" y="135.7"/>
<use href="#ci" x="355.8" y="131.6"/>
<use href="#ci" x="355.5" y="135.7"/>
<use href="#ci" x="357.2" y="133.8"/>
<use href="#ci" x="335.3" y="134.1"/>
<use href="#ci" x="337.8" y="134.9"/>
<use href="#ci" x="339.1" y="134.5"/>
<use href="#ci" x="347.8" y="133.2"/>
<use href="#ci" x="359.9" y="132.0"/>
<use href="#ci" x="340.6" y="136.6"/>
<use href="#st" x="349.9" y="131.5"/>
<use href="#st" x="379.2" y="123.6"/>
<use href="#st" x="340.0" y="115.1"/>
<use href="#st" x="358.8" y="124.8"/>
<use href="#st" x="338.3" y="123.3"/>
<use href="#st" x="340.9" y="124.8"/>
<use href="#st" x="359.4" y="121.1"/>
<use href="#st" x="342.7" y="121.9"/>
<use href="#st" x="343.0" y="115.8"/>
<use href="#st" x="345.0" y="132.2"/>
<use href="#st" x="358.4" y="130.4"/>
<use href="#st" x="362.8" y="128.2"/>
<use href="#st" x="344.4" y="129.5"/>
<use href="#st" x="340.3" y="118.8"/>
<use href="#st" x="333.7" y="121.7"/>
<use href="#st" x="360.0" y="119.4"/>
<use href="#st" x="363.2" y="118.1"/>
<use href="#st" x="364.1" y="130.2"/>
<use href="#st" x="345.3" y="126.2"/>
<use href="#st" x="365.4" y="128.2"/>
<use href="#st" x="376.0" y="120.5"/>
<use href="#st" x="375.8" y="123.2"/>
<use href="#st" x="382.8" y="122.1"/>
<use href="#st" x="345.2" y="129.1"/>
<use href="#st" x="368.7" y="116.3"/>
<use href="#st" x="350.6" y="116.1"/>
<use href="#st" x="342.7" y="117.8"/>
<use href="#st" x="357.9" y="123.9"/>
<use href="#st" x="372.6" y="127.0"/>
<use href="#st" x="342.7" y="126.8"/>
<use href="#st" x="337.0" y="128.8"/>
<use href="#st" x="350.9" y="116.6"/>
<use href="#st" x="363.9" y="122.6"/>
<use href="#st" x="383.9" y="124.7"/>
<use href="#st" x="345.6" y="131.4"/>
<use href="#st" x="344.5" y="117.4"/>
<use href="#st" x="356.7" y="118.2"/>
<use href="#st" x="369.0" y="128.6"/>
<use href="#st" x="353.2" y="130.2"/>
<use href="#st" x="374.9" y="128.0"/>
<use href="#st" x="350.3" y="126.1"/>
<use href="#st" x="375.9" y="122.2"/>
<use href="#st" x="364.7" y="123.1"/>
<use href="#st" x="350.1" y="117.7"/>
<use href="#st" x="351.1" y="131.6"/>
<use href="#st" x="365.4" y="119.4"/>
<use href="#st" x="336.8" y="119.0"/>
<use href="#st" x="369.9" y="122.7"/>
<use href="#st" x="338.5" y="128.0"/>
<use href="#st" x="334.2" y="131.1"/>
<use href="#st" x="341.9" y="119.0"/>
<use href="#st" x="344.1" y="132.6"/>
<use href="#st" x="353.3" y="124.0"/>
<use href="#st" x="383.6" y="124.1"/>
<use href="#st" x="341.5" y="133.8"/>
<use href="#st" x="356.5" y="130.8"/>
<use href="#st" x="345.5" y="120.8"/>
<use href="#st" x="337.4" y="125.2"/>
<use href="#st" x="378.6" y="124.3"/>
<use href="#st" x="380.3" y="127.7"/>
<use href="#st" x="336.1" y="126.7"/>
<use href="#st" x="351.5" y="127.5"/>
<use href="#st" x="366.1" y="121.3"/>
<use href="#st" x="360.2" y="127.9"/>
<use href="#st" x="381.0" y="124.0"/>
<use href="#st" x="335.1" y="131.4"/>
<use href="#st" x="368.9" y="125.3"/>
<use href="#st" x="356.2" y="129.5"/>
<use href="#st" x="349.6" y="116.0"/>
<use href="#st" x="339.8" y="125.9"/>
<use href="#st" x="353.2" y="129.4"/>
<use href="#st" x="366.6" y="119.2"/>
<use href="#st" x="373.2" y="119.4"/>
<use href="#st" x="361.4" y="122.3"/>
<use href="#st" x="375.5" y="127.9"/>
<use href="#st" x="370.3" y="128.2"/>
<use href="#st" x="347.0" y="116.6"/>
<use href="#st" x="363.1" y="131.2"/>
<use href="#st" x="374.9" y="120.6"/>
<use href="#st" x="339.6" y="124.4"/>
<use href="#st" x="371.9" y="116.8"/>
<use href="#st" x="348.1" y="121.4"/>
<use href="#st" x="342.1" y="119.8"/>
<use href="#st" x="349.3" y="122.6"/>
<use href="#st" x="337.9" y="118.7"/>
<use href="#st" x="353.3" y="121.5"/>
<use href="#st" x="343.0" y="133.0"/>
<use href="#st" x="356.3" y="131.4"/>
<use href="#st" x="366.4" y="130.1"/>
<use href="#st" x="349.0" y="116.3"/>
<use href="#st" x="372.9" y="123.3"/>
<use href="#st" x="362.2" y="127.8"/>
<use href="#st" x="372.6" y="119.1"/>
<use href="#st" x="351.6" y="133.2"/>
<use href="#st" x="360.6" y="119.3"/>
<use href="#st" x="366.0" y="118.7"/>
<use href="#st" x="376.6" y="125.5"/>
<use href="#st" x="346.3" y="118.4"/>
<use href="#st" x="335.8" y="125.1"/>
<use href="#st" x="372.7" y="127.9"/>
<use href="#st" x="354.3" y="130.8"/>
<use href="#st" x="338.0" y="119.8"/>
<use href="#st" x="366.2" y="128.2"/>
<use href="#st" x="373.8" y="121.7"/>
<use href="#st" x="350.5" y="121.6"/>
<use href="#st" x="375.5" y="120.7"/>
<use href="#st" x="342.0" y="132.2"/>
<use href="#st" x="360.7" y="124.5"/>
<use href="#st" x="339.2" y="120.5"/>
<use href="#st" x="335.6" y="122.1"/>
<use href="#st" x="359.1" y="131.7"/>
<use href="#st" x="368.1" y="125.7"/>
<use href="#st" x="353.8" y="125.6"/>
<use href="#st" x="346.8" y="131.6"/>
<use href="#st" x="340.2" y="127.8"/>
<use href="#st" x="372.7" y="124.0"/>
<use href="#st" x="339.1" y="128.5"/>
<use href="#st" x="370.0" y="126.5"/>
<use href="#st" x="364.6" y="131.1"/>
<use href="#st" x="346.7" y="117.7"/>
<use href="#st" x="344.1" y="115.1"/>
<use href="#st" x="375.3" y="120.9"/>
<use href="#st" x="369.8" y="114.6"/>
<use href="#st" x="377.3" y="120.2"/>
<use href="#st" x="339.5" y="119.1"/>
<use href="#st" x="335.2" y="122.8"/>
<use href="#st" x="362.0" y="130.8"/>
<use href="#st" x="334.1" y="131.2"/>
<use href="#st" x="338.0" y="117.9"/>
<use href="#st" x="366.0" y="120.5"/>
<use href="#st" x="349.9" y="125.5"/>
<use href="#st" x="343.8" y="130.5"/>
<use href="#st" x="343.3" y="131.5"/>
<use href="#st" x="375.7" y="124.8"/>
<use href="#st" x="333.6" y="130.1"/>
<use href="#st" x="333.5" y="124.1"/>
<use href="#st" x="366.0" y="128.9"/>
<use href="#st" x="363.6" y="121.8"/>
<use href="#st" x="359.7" y="126.0"/>
<use href="#st" x="344.2" y="132.1"/>
<use href="#st" x="356.5" y="128.0"/>
<use href="#st" x="370.3" y="123.0"/>
<use href="#st" x="350.5" y="117.2"/>
<use href="#st" x="353.8" y="119.2"/>
<use href="#st" x="342.5" y="129.2"/>
<use href="#st" x="359.9" y="122.6"/>
<use href="#st" x="342.7" y="128.5"/>
<use href="#st" x="342.6" y="118.8"/>
<use href="#st" x="362.3" y="128.4"/>
<use href="#st" x="371.0" y="128.8"/>
<use href="#st" x="335.4" y="117.5"/>
<use href="#st" x="371.0" y="126.9"/>
<use href="#st" x="346.2" y="120.8"/>
<use href="#st" x="340.8" y="126.9"/>
<use href="#st" x="334.4" y="116.9"/>
<use href="#st" x="351.2" y="132.8"/>
<use href="#st" x="375.4" y="123.0"/>
<use href="#st" x="337.5" y="115.3"/>
<use href="#st" x="340.3" y="130.1"/>
<use href="#st" x="357.7" y="131.1"/>
<use href="#st" x="338.9" y="115.4"/>
<use href="#st" x="362.4" y="124.2"/>
<use href="#st" x="343.3" y="118.5"/>
<use href="#st" x="333.1" y="133.0"/>
<use href="#st" x="371.6" y="121.5"/>
<use href="#st" x="343.6" y="125.9"/>
<use href="#st" x="380.0" y="124.8"/>
<use href="#st" x="335.8" y="120.1"/>
<use href="#st" x="358.2" y="127.1"/>
<use href="#st" x="343.1" y="118.4"/>
<use href="#st" x="380.9" y="121.4"/>
<use href="#st" x="337.6" y="126.0"/>
<use href="#st" x="338.8" y="117.4"/>
<use href="#st" x="356.6" y="125.9"/>
<use href="#st" x="366.4" y="128.6"/>
<use href="#st" x="357.4" y="121.8"/>
<use href="#st" x="368.3" y="128.7"/>
<use href="#st" x="344.9" y="127.3"/>
<use href="#st" x="369.4" y="123.4"/>
<use href="#st" x="339.7" y="133.0"/>
<use href="#st" x="364.3" y="114.4"/>
<use href="#st" x="344.4" y="121.6"/>
<use href="#st" x="366.2" y="129.3"/>
<use href="#st" x="345.0" y="133.5"/>
<use href="#st" x="343.9" y="127.8"/>
<use href="#st" x="382.2" y="127.1"/>
<use href="#st" x="342.1" y="130.8"/>
<use href="#st" x="340.8" y="124.3"/>
<use href="#st" x="337.7" y="130.3"/>
<use href="#st" x="362.0" y="131.1"/>
<use href="#st" x="359.1" y="126.6"/>
<use href="#st" x="364.1" y="130.6"/>
<use href="#st" x="361.5" y="119.4"/>
<use href="#st" x="367.1" y="117.6"/>
<use href="#st" x="384.7" y="125.0"/>
<use href="#st" x="351.0" y="115.1"/>
<use href="#st" x="351.8" y="119.7"/>
<use href="#st" x="336.0" y="115.5"/>
<use href="#st" x="369.4" y="126.2"/>
<use href="#st" x="360.1" y="123.0"/>
<use href="#st" x="354.0" y="126.4"/>
<use href="#st" x="355.3" y="132.3"/>
<use href="#st" x="341.7" y="133.7"/>
<use href="#st" x="355.9" y="128.5"/>
<use href="#st" x="345.6" y="119.6"/>
<use href="#st" x="350.8" y="120.1"/>
<use href="#st" x="337.1" y="122.7"/>
<use href="#st" x="372.6" y="119.0"/>
<use href="#st" x="345.5" y="122.1"/>
<use href="#st" x="333.1" y="118.1"/>
<use href="#st" x="349.8" y="129.9"/>
<use href="#st" x="374.9" y="124.7"/>
<use href="#st" x="337.7" y="131.2"/>
<use href="#st" x="348.9" y="126.8"/>
<use href="#st" x="351.8" y="124.8"/>
<use href="#st" x="360.7" y="127.3"/>
<use href="#st" x="336.8" y="117.7"/>
<use href="#st" x="347.5" y="132.9"/>
<use href="#st" x="332.7" y="118.7"/>
<use href="#st" x="341.5" y="122.6"/>
<use href="#st" x="369.1" y="128.2"/>
<use href="#st" x="372.3" y="129.6"/>
<use href="#st" x="345.4" y="118.7"/>
<use href="#st" x="333.5" y="128.2"/>
<use href="#st" x="343.3" y="118.7"/>
<use href="#st" x="363.9" y="127.4"/>
<use href="#st" x="364.3" y="128.3"/>
<use href="#st" x="351.5" y="116.1"/>
<use href="#st" x="338.1" y="123.9"/>
<use href="#st" x="346.8" y="129.9"/>
<use href="#st" x="341.6" y="115.2"/>
<use href="#st" x="348.4" y="122.0"/>
<use href="#st" x="369.2" y="122.8"/>
<use href="#st" x="368.2" y="119.1"/>
<use href="#st" x="367.6" y="125.9"/>
<use href="#st" x="367.7" y="117.0"/>
<use href="#st" x="339.8" y="115.1"/>
<use href="#st" x="367.2" y="125.5"/>
<use href="#st" x="332.8" y="131.8"/>
<use href="#st" x="339.0" y="134.2"/>
<use href="#st" x="351.6" y="128.9"/>
<use href="#st" x="339.5" y="130.3"/>
<use href="#st" x="345.6" y="121.1"/>
<use href="#st" x="345.4" y="130.5"/>
<use href="#st" x="347.4" y="121.4"/>
<use href="#st" x="373.3" y="117.9"/>
<use href="#st" x="342.5" y="117.8"/>
<use href="#st" x="352.7" y="121.0"/>
<use href="#st" x="366.6" y="123.4"/>
<use href="#st" x="356.8" y="128.7"/>
<use href="#st" x="337.1" y="115.6"/>
<use href="#st" x="357.9" y="116.8"/>
<use href="#st" x="344.5" y="122.7"/>
<use href="#st" x="351.5" y="123.3"/>
<use href="#st" x="382.6" y="125.2"/>
<use href="#st" x="335.9" y="117.9"/>
<use href="#st" x="372.2" y="125.4"/>
<use href="#st" x="383.0" y="124.5"/>
<use href="#st" x="344.9" y="116.8"/>
<use href="#st" x="336.5" y="118.8"/>
<use href="#st" x="381.9" y="123.1"/>
<use href="#st" x="356.5" y="120.0"/>
<use href="#st" x="343.1" y="127.6"/>
<use href="#st" x="351.5" y="115.6"/>
<use href="#st" x="367.3" y="124.3"/>
<use href="#st" x="333.3" y="123.3"/>
<use href="#st" x="372.0" y="124.8"/>
<use href="#st" x="344.6" y="124.0"/>
<use href="#st" x="364.7" y="127.3"/>
<use href="#st" x="339.8" y="130.7"/>
<use href="#st" x="378.3" y="121.1"/>
<use href="#st" x="344.3" y="126.2"/>
<use href="#st" x="342.3" y="129.5"/>
<use href="#st" x="353.7" y="127.9"/>
<use href="#st" x="344.6" y="123.5"/>
<use href="#st" x="365.5" y="117.8"/>
<use href="#st" x="349.4" y="122.0"/>
<use href="#st" x="350.5" y="127.7"/>
<use href="#st" x="333.2" y="121.2"/>
<use href="#st" x="340.8" y="131.2"/>
<use href="#st" x="345.9" y="123.0"/>
<use href="#st" x="362.3" y="128.7"/>
<use href="#st" x="339.4" y="118.3"/>
<use href="#st" x="338.5" y="134.1"/>
<use href="#st" x="340.1" y="116.0"/>
<use href="#st" x="360.2" y="125.8"/>
<use href="#st" x="344.7" y="116.7"/>
<use href="#st" x="363.6" y="123.0"/>
<use href="#st" x="354.1" y="132.5"/>
<use href="#st" x="382.9" y="122.0"/>
<use href="#st" x="334.8" y="133.1"/>
<use href="#st" x="347.6" y="119.4"/>
<use href="#st" x="354.7" y="124.6"/>
<use href="#st" x="367.3" y="124.3"/>
<use href="#st" x="338.3" y="118.4"/>
<use href="#st" x="367.5" y="125.9"/>
<use href="#st" x="336.1" y="132.7"/>
<use href="#st" x="362.8" y="117.0"/>
<use href="#st" x="369.4" y="118.6"/>
<use href="#st" x="344.8" y="121.1"/>
<use href="#st" x="360.3" y="127.9"/>
<use href="#st" x="336.0" y="129.3"/>
<use href="#st" x="365.7" y="123.4"/>
<use href="#st" x="368.3" y="130.6"/>
<use href="#st" x="332.5" y="123.5"/>
<use href="#st" x="368.6" y="128.6"/>
<use href="#st" x="367.0" y="117.0"/>
<use href="#st" x="344.6" y="122.5"/>
<use href="#st" x="371.7" y="120.9"/>
<use href="#st" x="367.8" y="129.9"/>
<use href="#st" x="338.9" y="117.9"/>
<use href="#st" x="343.6" y="118.9"/>
<use href="#st" x="353.9" y="122.3"/>
<use href="#st" x="336.2" y="125.8"/>
<use href="#st" x="382.9" y="125.7"/>
<use href="#st" x="351.2" y="128.5"/>
<use href="#st" x="355.6" y="116.9"/>
<use href="#st" x="368.5" y="116.5"/>
<use href="#st" x="366.7" y="127.0"/>
<use href="#st" x="342.6" y="129.9"/>
<use href="#st" x="348.2" y="118.6"/>
<use href="#st" x="376.4" y="126.2"/>
<use href="#st" x="363.8" y="117.4"/>
<use href="#st" x="332.8" y="124.8"/>
<use href="#st" x="371.2" y="119.0"/>
<use href="#st" x="341.4" y="128.3"/>
<use href="#st" x="346.3" y="128.6"/>
<use href="#st" x="338.2" y="133.6"/>
<use href="#st" x="350.1" y="124.5"/>
<use href="#st" x="349.3" y="122.2"/>
<use href="#st" x="357.9" y="118.7"/>
<use href="#st" x="340.8" y="115.0"/>
<use href="#st" x="365.7" y="128.3"/>
<use href="#st" x="346.2" y="130.4"/>
<use href="#st" x="371.4" y="120.5"/>
<use href="#st" x="358.6" y="117.1"/>
<use href="#st" x="382.2" y="125.3"/>
<use href="#st" x="334.8" y="116.4"/>
<use href="#st" x="369.4" y="121.5"/>
<use href="#st" x="370.7" y="118.0"/>
<use href="#st" x="337.1" y="125.9"/>
<use href="#st" x="342.3" y="128.6"/>
<use href="#st" x="387.3" y="120.0"/>
<use href="#st" x="383.2" y="115.7"/>
<use href="#st" x="380.9" y="107.1"/>
<use href="#st" x="382.4" y="109.6"/>
<use href="#st" x="371.5" y="113.0"/>
<use href="#st" x="379.5" y="118.8"/>
<use href="#st" x="370.4" y="110.5"/>
<use href="#st" x="382.6" y="118.1"/>
<use href="#st" x="369.9" y="110.9"/>
<use href="#st" x="383.2" y="110.0"/>
<use href="#st" x="368.6" y="109.3"/>
<use href="#st" x="386.4" y="120.7"/>
<use href="#st" x="387.0" y="110.9"/>
<use href="#st" x="378.9" y="107.9"/>
<use href="#st" x="377.4" y="108.8"/>
<use href="#st" x="367.5" y="114.6"/>
<use href="#st" x="379.1" y="111.9"/>
<use href="#st" x="384.8" y="115.1"/>
<use href="#st" x="386.5" y="107.0"/>
<use href="#st" x="388.2" y="86.4"/>
<use href="#st" x="394.5" y="90.9"/>
<use href="#st" x="396.4" y="90.0"/>
<use href="#st" x="405.5" y="87.3"/>
<use href="#st" x="407.3" y="87.3"/>
<use href="#st" x="413.6" y="86.4"/>
<use href="#st" x="416.4" y="87.3"/>
<use href="#st" x="373.6" y="94.5"/>
<use href="#st" x="415.5" y="98.2"/>
<use href="#st" x="417.3" y="101.8"/>
<use href="#st" x="392.7" y="104.5"/>
<use href="#st" x="394.5" y="106.4"/>
<use href="#st" x="391.8" y="107.3"/>
<use href="#st" x="403.6" y="102.7"/>
<use href="#st" x="403.6" y="105.5"/>
<use href="#st" x="370.0" y="107.3"/>
<use href="#st" x="364.5" y="109.0"/>
<use href="#st" x="378.2" y="107.3"/>
<use href="#st" x="383.6" y="106.4"/>
<use href="#st" x="387.3" y="107.3"/>
<use href="#st" x="378.2" y="112.7"/>
<use href="#st" x="384.5" y="113.6"/>
<use href="#st" x="396.4" y="114.5"/>
<use href="#st" x="400.0" y="115.5"/>
<use href="#st" x="401.0" y="119.0"/>
<use href="#st" x="409.0" y="113.6"/>
<use href="#st" x="410.0" y="116.4"/>
<use href="#st" x="393.6" y="129.0"/>
<use href="#st" x="403.6" y="128.2"/>
<use href="#st" x="352.7" y="113.6"/>
<use href="#st" x="436.7" y="52.6"/>
<use href="#st" x="439.4" y="59.2"/>
<use href="#st" x="443.3" y="59.2"/>
<use href="#st" x="444.6" y="57.3"/>
<use href="#st" x="455.1" y="55.2"/>
<use href="#st" x="457.7" y="53.9"/>
<use href="#st" x="459.0" y="52.1"/>
<use href="#st" x="469.6" y="52.1"/>
<use href="#st" x="451.2" y="61.8"/>
<use href="#st" x="456.4" y="60.5"/>
<use href="#st" x="461.7" y="64.4"/>
<use href="#st" x="453.8" y="71.0"/>
<use href="#st" x="460.4" y="70.5"/>
<use href="#st" x="430.2" y="65.7"/>
<use href="#st" x="423.6" y="69.7"/>
<use href="#st" x="434.1" y="70.5"/>
<use href="#st" x="426.2" y="74.9"/>
<use href="#st" x="431.5" y="74.9"/>
<use href="#st" x="435.4" y="74.1"/>
<use href="#st" x="432.8" y="76.2"/>
<use href="#st" x="440.7" y="74.9"/>
<use href="#st" x="445.9" y="74.1"/>
<use href="#st" x="415.7" y="73.6"/>
<use href="#st" x="405.2" y="77.6"/>
<use href="#st" x="421.0" y="80.2"/>
<use href="#st" x="440.7" y="81.5"/>
<use href="#st" x="443.3" y="82.8"/>
<use href="#st" x="449.9" y="78.9"/>
<use href="#st" x="406.6" y="86.7"/>
<use href="#st" x="407.9" y="86.7"/>
<use href="#st" x="414.4" y="85.4"/>
<use href="#st" x="417.1" y="84.1"/>
<use href="#st" x="418.4" y="86.7"/>
<use href="#st" x="423.6" y="86.7"/>
<use href="#st" x="424.9" y="90.7"/>
<use href="#st" x="448.6" y="90.7"/>
<use href="#st" x="451.2" y="93.3"/>
<use href="#st" x="473.5" y="87.5"/>
<use href="#st" x="414.4" y="98.6"/>
<use href="#st" x="417.1" y="101.2"/>
<use href="#st" x="418.4" y="103.8"/>
<use href="#st" x="415.7" y="102.5"/>
<use href="#st" x="422.3" y="95.9"/>
<use href="#st" x="443.3" y="99.3"/>
<use href="#st" x="403.9" y="102.5"/>
<use href="#st" x="402.6" y="105.1"/>
<use href="#st" x="436.7" y="111.7"/>
<use href="#st" x="439.4" y="120.3"/>
<use href="#st" x="407.9" y="113.0"/>
<use href="#st" x="410.5" y="115.6"/>
<use href="#st" x="400.0" y="115.6"/>
<use href="#st" x="401.3" y="119.6"/>
<use href="#st" x="403.9" y="127.4"/>
<use href="#st" x="405.2" y="128.7"/>
<use href="#st" x="508.2" y="13.5"/>
<use href="#st" x="511.8" y="14.4"/>
<use href="#st" x="518.2" y="12.5"/>
<use href="#st" x="480.9" y="30.2"/>
<use href="#st" x="487.3" y="28.0"/>
<use href="#st" x="485.5" y="39.3"/>
<use href="#st" x="484.5" y="45.3"/>
<use href="#st" x="488.2" y="47.1"/>
<use href="#st" x="490.0" y="46.2"/>
<use href="#st" x="470.0" y="51.3"/>
<use href="#st" x="459.1" y="51.6"/>
<use href="#st" x="457.3" y="54.4"/>
<use href="#st" x="454.5" y="54.4"/>
<use href="#st" x="442.7" y="58.0"/>
<use href="#st" x="444.5" y="57.1"/>
<use href="#st" x="450.9" y="62.2"/>
<use href="#st" x="456.0" y="60.7"/>
<use href="#st" x="460.9" y="64.0"/>
<use href="#st" x="398.3" y="77.5"/>
<use href="#st" x="405.3" y="77.5"/>
<use href="#st" x="387.8" y="86.3"/>
<use href="#st" x="392.2" y="91.5"/>
<use href="#st" x="395.7" y="90.6"/>
<use href="#st" x="394.8" y="92.4"/>
<use href="#st" x="405.3" y="87.1"/>
<use href="#st" x="407.0" y="86.3"/>
<use href="#st" x="373.8" y="95.0"/>
<use href="#st" x="403.6" y="102.0"/>
<use href="#st" x="404.4" y="104.7"/>
<use href="#st" x="393.0" y="103.8"/>
<use href="#st" x="391.3" y="106.4"/>
<use href="#st" x="387.8" y="106.4"/>
<use href="#st" x="382.5" y="106.4"/>
<use href="#st" x="384.3" y="107.3"/>
<use href="#st" x="370.3" y="106.4"/>
<use href="#st" x="368.5" y="108.2"/>
<use href="#st" x="377.3" y="110.0"/>
<use href="#st" x="365.0" y="112.5"/>
<use href="#st" x="364.2" y="114.3"/>
<use href="#st" x="352.8" y="114.3"/>
<use href="#st" x="396.5" y="106.4"/>
<use href="#st" x="399.2" y="109.0"/>
<use href="#st" x="386.0" y="112.5"/>
<use href="#st" x="389.5" y="111.7"/>
<use href="#st" x="370.3" y="112.5"/>
<use href="#st" x="400.0" y="114.3"/>
<use href="#st" x="407.0" y="116.0"/>
</g>
<g>
<use href="#ci" x="53.7" y="313.8"/>
<use href="#ci" x="58.1" y="312.3"/>
<use href="#ci" x="60.3" y="313.0"/>
<use href="#ci" x="58.8" y="316.0"/>
<use href="#ci" x="61.0" y="316.7"/>
<use href="#ci" x="54.4" y="317.4"/>
<use href="#ci" x="42.8" y="285.3"/>
<use href="#ci" x="52.4" y="315.3"/>
<use href="#ci" x="55.5" y="312.2"/>
<use href="#ci" x="59.6" y="311.2"/>
<use href="#ci" x="42.0" y="316.0"/>
<use href="#ci" x="45.0" y="317.0"/>
<use href="#st" x="41.5" y="295.5"/>
<use href="#st" x="46.6" y="290.5"/>
<use href="#st" x="44.5" y="298.9"/>
<use href="#st" x="49.4" y="309.9"/>
<use href="#st" x="45.2" y="297.8"/>
<use href="#st" x="46.3" y="304.9"/>
<use href="#st" x="44.1" y="282.4"/>
<use href="#st" x="42.2" y="298.5"/>
<use href="#st" x="48.3" y="292.2"/>
<use href="#st" x="41.4" y="309.2"/>
<use href="#st" x="50.2" y="297.4"/>
<use href="#st" x="41.7" y="295.8"/>
<use href="#st" x="41.8" y="317.1"/>
<use href="#st" x="41.2" y="291.8"/>
<use href="#st" x="41.9" y="283.6"/>
<use href="#st" x="42.6" y="300.9"/>
<use href="#st" x="42.8" y="309.7"/>
<use href="#st" x="45.9" y="293.7"/>
<use href="#st" x="42.1" y="290.1"/>
<use href="#st" x="43.8" y="308.8"/>
<use href="#st" x="46.5" y="316.9"/>
<use href="#st" x="48.1" y="291.8"/>
<use href="#st" x="46.4" y="307.9"/>
<use href="#st" x="43.0" y="316.9"/>
<use href="#st" x="41.9" y="311.5"/>
<use href="#st" x="44.8" y="290.3"/>
<use href="#st" x="43.8" y="298.6"/>
<use href="#st" x="42.7" y="308.9"/>
<use href="#st" x="44.8" y="288.0"/>
<use href="#st" x="45.8" y="311.8"/>
<use href="#st" x="51.3" y="302.6"/>
<use href="#st" x="40.7" y="309.6"/>
<use href="#st" x="48.1" y="314.7"/>
<use href="#st" x="51.1" y="311.7"/>
<use href="#st" x="43.9" y="294.7"/>
<use href="#st" x="45.2" y="294.2"/>
<use href="#st" x="45.3" y="285.1"/>
<use href="#st" x="43.4" y="315.1"/>
<use href="#st" x="45.7" y="304.8"/>
<use href="#st" x="51.6" y="309.3"/>
<use href="#st" x="43.6" y="315.5"/>
<use href="#st" x="49.6" y="309.3"/>
<use href="#st" x="48.7" y="295.3"/>
<use href="#st" x="47.3" y="293.6"/>
<use href="#st" x="51.1" y="312.8"/>
<use href="#st" x="49.0" y="305.5"/>
<use href="#st" x="41.2" y="313.6"/>
<use href="#st" x="47.4" y="298.1"/>
<use href="#st" x="44.8" y="310.4"/>
<use href="#st" x="50.3" y="313.6"/>
<use href="#st" x="43.3" y="293.8"/>
<use href="#st" x="43.7" y="284.8"/>
<use href="#st" x="44.7" y="282.0"/>
<use href="#st" x="41.5" y="283.5"/>
<use href="#st" x="46.3" y="296.1"/>
<use href="#st" x="44.4" y="304.7"/>
<use href="#st" x="51.8" y="308.5"/>
<use href="#st" x="44.5" y="313.8"/>
<use href="#st" x="47.9" y="312.1"/>
<use href="#st" x="47.0" y="299.2"/>
<use href="#st" x="45.8" y="314.0"/>
<use href="#st" x="45.1" y="294.6"/>
<use href="#st" x="52.5" y="307.1"/>
<use href="#st" x="42.1" y="315.3"/>
<use href="#st" x="41.0" y="303.2"/>
<use href="#st" x="46.0" y="307.9"/>
<use href="#st" x="45.9" y="284.5"/>
<use href="#st" x="47.1" y="311.8"/>
<use href="#st" x="43.4" y="308.9"/>
<use href="#st" x="46.0" y="295.3"/>
<use href="#st" x="49.4" y="315.9"/>
<use href="#st" x="43.1" y="292.3"/>
<use href="#st" x="44.7" y="308.5"/>
<use href="#st" x="42.9" y="301.5"/>
<use href="#st" x="46.8" y="306.1"/>
<use href="#st" x="42.4" y="316.9"/>
<use href="#st" x="51.9" y="301.7"/>
<use href="#st" x="50.0" y="313.6"/>
<use href="#st" x="45.1" y="315.6"/>
<use href="#st" x="43.2" y="281.9"/>
<use href="#st" x="46.8" y="314.7"/>
<use href="#st" x="46.9" y="316.0"/>
<use href="#st" x="48.4" y="311.1"/>
<use href="#st" x="45.9" y="303.6"/>
<use href="#st" x="43.8" y="291.4"/>
<use href="#st" x="45.8" y="300.2"/>
<use href="#st" x="46.4" y="284.5"/>
<use href="#st" x="40.7" y="293.8"/>
<use href="#st" x="49.5" y="309.1"/>
<use href="#st" x="43.5" y="290.6"/>
<use href="#st" x="47.0" y="287.6"/>
<use href="#st" x="48.1" y="314.9"/>
<use href="#st" x="43.1" y="303.0"/>
<use href="#st" x="49.5" y="309.1"/>
<use href="#st" x="49.4" y="307.6"/>
<use href="#st" x="44.0" y="312.4"/>
<use href="#st" x="41.7" y="283.6"/>
<use href="#st" x="50.5" y="306.4"/>
<use href="#st" x="42.4" y="298.2"/>
<use href="#st" x="48.5" y="318.4"/>
<use href="#st" x="44.8" y="309.7"/>
<use href="#st" x="43.6" y="288.5"/>
<use href="#st" x="42.6" y="296.4"/>
<use href="#st" x="48.3" y="292.4"/>
<use href="#st" x="42.6" y="289.2"/>
<use href="#st" x="41.7" y="288.2"/>
<use href="#st" x="44.5" y="299.9"/>
<use href="#st" x="42.9" y="299.0"/>
<use href="#st" x="46.1" y="317.5"/>
<use href="#st" x="46.6" y="316.4"/>
<use href="#st" x="46.4" y="288.4"/>
<use href="#st" x="42.7" y="283.7"/>
<use href="#st" x="49.3" y="317.3"/>
<use href="#st" x="45.6" y="294.3"/>
<use href="#st" x="45.9" y="294.2"/>
<use href="#st" x="49.2" y="295.7"/>
<use href="#st" x="42.5" y="313.4"/>
<use href="#st" x="51.1" y="308.3"/>
<use href="#st" x="45.0" y="304.6"/>
<use href="#st" x="46.0" y="292.2"/>
<use href="#st" x="47.5" y="305.9"/>
<use href="#st" x="49.7" y="316.6"/>
<use href="#st" x="42.4" y="294.7"/>
<use href="#st" x="57.9" y="311.5"/>
<use href="#st" x="54.3" y="307.7"/>
<use href="#st" x="50.8" y="316.7"/>
<use href="#st" x="53.7" y="298.5"/>
<use href="#st" x="48.6" y="288.9"/>
<use href="#st" x="58.6" y="311.8"/>
<use href="#st" x="52.7" y="301.6"/>
<use href="#st" x="51.1" y="315.0"/>
<use href="#st" x="50.9" y="302.8"/>
<use href="#st" x="52.7" y="296.1"/>
<use href="#st" x="51.4" y="305.4"/>
<use href="#st" x="51.2" y="298.0"/>
<use href="#st" x="51.1" y="315.6"/>
<use href="#st" x="50.7" y="312.5"/>
<use href="#st" x="48.2" y="308.1"/>
<use href="#st" x="48.1" y="292.6"/>
<use href="#st" x="46.8" y="293.8"/>
<use href="#st" x="56.3" y="309.1"/>
<use href="#st" x="58.7" y="316.7"/>
<use href="#st" x="53.7" y="315.9"/>
<use href="#st" x="47.9" y="199.9"/>
<use href="#st" x="43.1" y="229.2"/>
<use href="#st" x="74.9" y="227.7"/>
<use href="#st" x="45.8" y="243.0"/>
<use href="#st" x="44.9" y="251.7"/>
<use href="#st" x="107.7" y="251.1"/>
<use href="#st" x="44.7" y="252.0"/>
<use href="#st" x="47.3" y="261.8"/>
<use href="#st" x="53.5" y="261.8"/>
<use href="#st" x="65.7" y="260.6"/>
<use href="#st" x="63.7" y="268.4"/>
<use href="#st" x="68.8" y="268.4"/>
<use href="#st" x="69.8" y="270.4"/>
<use href="#st" x="70.8" y="273.5"/>
<use href="#st" x="71.8" y="275.5"/>
<use href="#st" x="63.7" y="271.4"/>
<use href="#st" x="45.3" y="272.4"/>
<use href="#st" x="46.3" y="273.5"/>
<use href="#st" x="44.3" y="278.6"/>
<use href="#st" x="59.6" y="278.6"/>
<use href="#st" x="61.6" y="279.6"/>
<use href="#st" x="51.4" y="282.7"/>
<use href="#st" x="55.5" y="284.7"/>
<use href="#st" x="66.7" y="280.6"/>
<use href="#st" x="62.7" y="283.7"/>
<use href="#st" x="80.0" y="283.7"/>
<use href="#st" x="73.9" y="288.8"/>
<use href="#st" x="76.9" y="291.8"/>
<use href="#st" x="65.7" y="299.0"/>
<use href="#st" x="83.1" y="299.0"/>
<use href="#st" x="94.3" y="296.9"/>
<use href="#st" x="93.3" y="303.1"/>
<use href="#st" x="66.7" y="307.1"/>
<use href="#st" x="68.8" y="315.3"/>
<use href="#st" x="82.0" y="314.3"/>
<use href="#st" x="45.7" y="272.9"/>
<use href="#st" x="43.5" y="278.0"/>
<use href="#st" x="50.0" y="282.4"/>
<use href="#st" x="53.0" y="284.6"/>
<use href="#st" x="55.9" y="283.9"/>
<use href="#st" x="59.5" y="279.5"/>
<use href="#st" x="61.0" y="284.6"/>
<use href="#st" x="64.7" y="272.2"/>
<use href="#st" x="66.1" y="281.0"/>
<use href="#st" x="71.2" y="275.8"/>
<use href="#st" x="65.4" y="299.2"/>
<use href="#st" x="66.8" y="306.5"/>
<use href="#st" x="68.3" y="315.3"/>
<use href="#st" x="72.7" y="289.0"/>
<use href="#st" x="153.6" y="219.5"/>
<use href="#st" x="179.6" y="212.5"/>
<use href="#st" x="197.8" y="211.4"/>
<use href="#st" x="212.0" y="223.5"/>
<use href="#st" x="199.6" y="229.7"/>
<use href="#st" x="215.0" y="236.2"/>
<use href="#st" x="191.6" y="240.6"/>
<use href="#st" x="200.7" y="254.1"/>
<use href="#st" x="220.4" y="258.1"/>
<use href="#st" x="208.0" y="267.3"/>
<use href="#st" x="107.3" y="250.8"/>
<use href="#st" x="137.6" y="260.0"/>
<use href="#st" x="180.1" y="212.1"/>
<use href="#st" x="198.1" y="211.4"/>
<use href="#st" x="212.2" y="223.1"/>
</g>
<g>
<use href="#ci" x="406.8" y="201.0"/>
<use href="#ci" x="397.1" y="203.5"/>
<use href="#ci" x="405.9" y="200.6"/>
<use href="#ci" x="395.8" y="204.6"/>
<use href="#ci" x="415.7" y="205.4"/>
<use href="#ci" x="408.3" y="198.0"/>
<use href="#ci" x="409.4" y="197.7"/>
<use href="#ci" x="417.2" y="202.6"/>
<use href="#ci" x="409.3" y="198.8"/>
<use href="#ci" x="410.2" y="202.4"/>
<use href="#ci" x="416.7" y="205.3"/>
<use href="#ci" x="412.6" y="205.4"/>
<use href="#ci" x="426.2" y="199.6"/>
<use href="#ci" x="424.1" y="205.4"/>
<use href="#ci" x="434.2" y="203.2"/>
<use href="#ci" x="423.3" y="199.0"/>
<use href="#ci" x="423.0" y="200.4"/>
<use href="#ci" x="430.8" y="198.0"/>
<use href="#ci" x="428.0" y="203.0"/>
<use href="#ci" x="421.5" y="201.1"/>
<use href="#ci" x="441.9" y="201.2"/>
<use href="#ci" x="402.5" y="208.3"/>
<use href="#ci" x="399.8" y="213.2"/>
<use href="#ci" x="405.9" y="212.9"/>
<use href="#ci" x="409.7" y="207.0"/>
<use href="#ci" x="412.9" y="211.1"/>
<use href="#ci" x="407.8" y="212.0"/>
<use href="#ci" x="418.2" y="209.7"/>
<use href="#ci" x="407.9" y="212.0"/>
<use href="#ci" x="413.3" y="211.0"/>
<use href="#ci" x="415.3" y="211.4"/>
<use href="#ci" x="413.2" y="213.3"/>
<use href="#ci" x="420.4" y="213.0"/>
<use href="#ci" x="415.9" y="208.1"/>
<use href="#ci" x="412.8" y="207.7"/>
<use href="#ci" x="419.7" y="211.9"/>
<use href="#ci" x="418.2" y="212.2"/>
<use href="#ci" x="420.9" y="211.1"/>
<use href="#ci" x="412.0" y="211.7"/>
<use href="#ci" x="429.1" y="206.8"/>
<use href="#ci" x="432.4" y="209.5"/>
<use href="#ci" x="424.7" y="213.0"/>
<use href="#ci" x="422.1" y="213.1"/>
<use href="#ci" x="431.0" y="206.8"/>
<use href="#ci" x="431.1" y="210.2"/>
<use href="#ci" x="433.0" y="210.3"/>
<use href="#ci" x="426.7" y="213.1"/>
<use href="#ci" x="422.2" y="211.8"/>
<use href="#ci" x="422.4" y="207.8"/>
<use href="#ci" x="422.5" y="212.6"/>
<use href="#ci" x="426.9" y="211.4"/>
<use href="#ci" x="424.4" y="211.4"/>
<use href="#ci" x="429.6" y="206.4"/>
<use href="#ci" x="427.6" y="211.4"/>
<use href="#ci" x="423.9" y="210.8"/>
<use href="#ci" x="424.7" y="208.6"/>
<use href="#ci" x="433.2" y="213.2"/>
<use href="#ci" x="434.2" y="209.0"/>
<use href="#ci" x="428.6" y="212.1"/>
<use href="#ci" x="431.1" y="209.2"/>
<use href="#ci" x="432.4" y="208.8"/>
<use href="#ci" x="440.5" y="206.5"/>
<use href="#ci" x="444.2" y="206.7"/>
<use href="#ci" x="443.2" y="206.0"/>
<use href="#ci" x="447.3" y="209.9"/>
<use href="#ci" x="444.0" y="206.6"/>
<use href="#ci" x="442.7" y="208.6"/>
<use href="#ci" x="437.5" y="212.1"/>
<use href="#ci" x="434.7" y="209.4"/>
<use href="#ci" x="435.4" y="212.4"/>
<use href="#ci" x="446.1" y="205.9"/>
<use href="#ci" x="453.7" y="211.4"/>
<use href="#ci" x="457.1" y="208.3"/>
<use href="#ci" x="459.8" y="207.1"/>
<use href="#ci" x="405.3" y="214.6"/>
<use href="#ci" x="397.0" y="217.6"/>
<use href="#ci" x="399.0" y="214.9"/>
<use href="#ci" x="406.9" y="217.4"/>
<use href="#ci" x="405.0" y="215.6"/>
<use href="#ci" x="406.6" y="215.4"/>
<use href="#ci" x="406.5" y="218.5"/>
<use href="#ci" x="407.4" y="219.8"/>
<use href="#ci" x="414.8" y="220.5"/>
<use href="#ci" x="413.7" y="214.4"/>
<use href="#ci" x="419.9" y="220.1"/>
<use href="#ci" x="416.8" y="219.6"/>
<use href="#ci" x="410.9" y="217.3"/>
<use href="#ci" x="418.7" y="221.3"/>
<use href="#ci" x="420.0" y="214.9"/>
<use href="#ci" x="416.8" y="218.1"/>
<use href="#ci" x="413.1" y="215.0"/>
<use href="#ci" x="409.6" y="217.4"/>
<use href="#ci" x="414.3" y="215.8"/>
<use href="#ci" x="428.3" y="219.7"/>
<use href="#ci" x="428.8" y="214.9"/>
<use href="#ci" x="432.7" y="216.6"/>
<use href="#ci" x="433.7" y="221.5"/>
<use href="#ci" x="422.9" y="218.3"/>
<use href="#ci" x="433.8" y="216.7"/>
<use href="#ci" x="428.3" y="216.1"/>
<use href="#ci" x="421.4" y="215.3"/>
<use href="#ci" x="438.0" y="218.7"/>
<use href="#ci" x="441.7" y="221.2"/>
<use href="#ci" x="443.3" y="216.5"/>
<use href="#ci" x="446.8" y="218.7"/>
<use href="#ci" x="458.9" y="219.0"/>
<use href="#ci" x="452.2" y="218.5"/>
<use href="#ci" x="367.7" y="223.6"/>
<use href="#ci" x="367.7" y="222.2"/>
<use href="#ci" x="375.4" y="223.3"/>
<use href="#ci" x="374.8" y="222.6"/>
<use href="#ci" x="379.2" y="227.0"/>
<use href="#ci" x="377.1" y="229.1"/>
<use href="#ci" x="381.2" y="227.1"/>
<use href="#ci" x="377.5" y="221.7"/>
<use href="#ci" x="387.0" y="229.4"/>
<use href="#ci" x="385.5" y="226.2"/>
<use href="#ci" x="381.4" y="225.0"/>
<use href="#ci" x="393.3" y="226.4"/>
<use href="#ci" x="392.2" y="221.8"/>
<use href="#ci" x="384.0" y="223.1"/>
<use href="#ci" x="395.9" y="229.1"/>
<use href="#ci" x="398.1" y="228.7"/>
<use href="#ci" x="401.4" y="224.3"/>
<use href="#ci" x="407.3" y="224.9"/>
<use href="#ci" x="403.8" y="222.2"/>
<use href="#ci" x="405.5" y="229.5"/>
<use href="#ci" x="396.0" y="227.6"/>
<use href="#ci" x="398.1" y="222.8"/>
<use href="#ci" x="399.4" y="227.0"/>
<use href="#ci" x="407.2" y="229.6"/>
<use href="#ci" x="416.0" y="226.9"/>
<use href="#ci" x="409.9" y="227.5"/>
<use href="#ci" x="415.1" y="224.5"/>
<use href="#ci" x="419.7" y="223.7"/>
<use href="#ci" x="409.7" y="222.9"/>
<use href="#ci" x="409.8" y="226.4"/>
<use href="#ci" x="418.4" y="222.9"/>
<use href="#ci" x="428.6" y="226.2"/>
<use href="#ci" x="426.5" y="226.0"/>
<use href="#ci" x="421.2" y="222.1"/>
<use href="#ci" x="437.4" y="227.7"/>
<use href="#ci" x="437.5" y="228.3"/>
<use href="#ci" x="448.7" y="225.5"/>
<use href="#ci" x="452.6" y="224.3"/>
<use href="#ci" x="344.6" y="235.1"/>
<use href="#ci" x="360.9" y="233.7"/>
<use href="#ci" x="367.1" y="234.5"/>
<use href="#ci" x="357.3" y="230.2"/>
<use href="#ci" x="355.9" y="232.4"/>
<use href="#ci" x="356.0" y="234.9"/>
<use href="#ci" x="372.2" y="233.8"/>
<use href="#ci" x="380.5" y="231.7"/>
<use href="#ci" x="370.1" y="232.1"/>
<use href="#ci" x="372.4" y="237.0"/>
<use href="#ci" x="377.4" y="233.1"/>
<use href="#ci" x="370.3" y="230.1"/>
<use href="#ci" x="369.7" y="236.5"/>
<use href="#ci" x="376.7" y="230.9"/>
<use href="#ci" x="382.1" y="233.8"/>
<use href="#ci" x="385.8" y="230.5"/>
<use href="#ci" x="391.1" y="235.4"/>
<use href="#ci" x="388.1" y="231.0"/>
<use href="#ci" x="390.2" y="233.2"/>
<use href="#ci" x="390.1" y="230.4"/>
<use href="#ci" x="393.3" y="229.7"/>
<use href="#ci" x="384.3" y="232.9"/>
<use href="#ci" x="383.9" y="230.4"/>
<use href="#ci" x="390.4" y="237.7"/>
<use href="#ci" x="385.8" y="231.8"/>
<use href="#ci" x="397.5" y="232.9"/>
<use href="#ci" x="403.7" y="233.1"/>
<use href="#ci" x="396.6" y="230.3"/>
<use href="#ci" x="401.7" y="237.6"/>
<use href="#ci" x="406.7" y="230.5"/>
<use href="#ci" x="401.2" y="233.6"/>
<use href="#ci" x="397.1" y="235.1"/>
<use href="#ci" x="401.1" y="236.2"/>
<use href="#ci" x="398.4" y="237.2"/>
<use href="#ci" x="405.3" y="233.5"/>
<use href="#ci" x="396.4" y="233.6"/>
<use href="#ci" x="396.2" y="235.2"/>
<use href="#ci" x="403.8" y="234.3"/>
<use href="#ci" x="407.5" y="230.1"/>
<use href="#ci" x="404.0" y="236.1"/>
<use href="#ci" x="396.0" y="232.3"/>
<use href="#ci" x="395.3" y="234.4"/>
<use href="#ci" x="404.1" y="232.5"/>
<use href="#ci" x="403.8" y="232.6"/>
<use href="#ci" x="404.0" y="231.9"/>
<use href="#ci" x="407.5" y="233.2"/>
<use href="#ci" x="394.6" y="230.4"/>
<use href="#ci" x="404.2" y="236.6"/>
<use href="#ci" x="403.0" y="230.9"/>
<use href="#ci" x="406.1" y="235.4"/>
<use href="#ci" x="396.1" y="232.7"/>
<use href="#ci" x="403.4" y="229.7"/>
<use href="#ci" x="395.1" y="232.5"/>
<use href="#ci" x="406.1" y="237.7"/>
<use href="#ci" x="398.8" y="237.0"/>
<use href="#ci" x="405.0" y="236.6"/>
<use href="#ci" x="402.3" y="237.5"/>
<use href="#ci" x="420.3" y="234.2"/>
<use href="#ci" x="410.4" y="233.9"/>
<use href="#ci" x="414.2" y="232.4"/>
<use href="#ci" x="412.7" y="233.8"/>
<use href="#ci" x="415.6" y="231.5"/>
<use href="#ci" x="411.5" y="233.7"/>
<use href="#ci" x="414.5" y="233.1"/>
<use href="#ci" x="416.6" y="231.2"/>
<use href="#ci" x="414.8" y="231.9"/>
<use href="#ci" x="418.0" y="235.3"/>
<use href="#ci" x="418.1" y="233.8"/>
<use href="#ci" x="411.1" y="237.1"/>
<use href="#ci" x="414.5" y="232.7"/>
<use href="#ci" x="411.6" y="232.9"/>
<use href="#ci" x="417.2" y="236.3"/>
<use href="#ci" x="414.2" y="235.6"/>
<use href="#ci" x="410.6" y="233.3"/>
<use href="#ci" x="412.5" y="232.2"/>
<use href="#ci" x="412.5" y="235.8"/>
<use href="#ci" x="417.5" y="231.4"/>
<use href="#ci" x="410.9" y="236.0"/>
<use href="#ci" x="430.0" y="234.8"/>
<use href="#ci" x="430.2" y="231.9"/>
<use href="#ci" x="421.8" y="232.6"/>
<use href="#ci" x="421.4" y="237.4"/>
<use href="#ci" x="428.0" y="235.1"/>
<use href="#ci" x="444.9" y="231.5"/>
<use href="#ci" x="438.7" y="230.6"/>
<use href="#ci" x="444.8" y="235.6"/>
<use href="#ci" x="452.4" y="231.9"/>
<use href="#ci" x="453.9" y="235.4"/>
<use href="#ci" x="352.9" y="244.7"/>
<use href="#ci" x="347.4" y="241.1"/>
<use href="#ci" x="345.8" y="245.6"/>
<use href="#ci" x="357.0" y="240.0"/>
<use href="#ci" x="367.1" y="244.6"/>
<use href="#ci" x="359.2" y="244.6"/>
<use href="#ci" x="366.6" y="241.2"/>
<use href="#ci" x="357.4" y="243.9"/>
<use href="#ci" x="359.8" y="238.7"/>
<use href="#ci" x="373.9" y="240.9"/>
<use href="#ci" x="376.0" y="239.8"/>
<use href="#ci" x="368.4" y="240.9"/>
<use href="#ci" x="373.1" y="237.8"/>
<use href="#ci" x="373.0" y="243.8"/>
<use href="#ci" x="372.5" y="243.2"/>
<use href="#ci" x="376.4" y="239.2"/>
<use href="#ci" x="368.4" y="243.1"/>
<use href="#ci" x="385.2" y="239.3"/>
<use href="#ci" x="392.6" y="245.0"/>
<use href="#ci" x="384.4" y="242.4"/>
<use href="#ci" x="388.9" y="240.3"/>
<use href="#ci" x="381.8" y="240.3"/>
<use href="#ci" x="389.9" y="242.6"/>
<use href="#ci" x="388.1" y="238.7"/>
<use href="#ci" x="384.1" y="240.2"/>
<use href="#ci" x="399.4" y="245.0"/>
<use href="#ci" x="396.1" y="245.7"/>
<use href="#ci" x="397.7" y="244.6"/>
<use href="#ci" x="397.8" y="242.4"/>
<use href="#ci" x="399.5" y="238.0"/>
<use href="#ci" x="405.1" y="244.2"/>
<use href="#ci" x="398.1" y="244.0"/>
<use href="#ci" x="400.9" y="245.7"/>
<use href="#ci" x="395.3" y="240.8"/>
<use href="#ci" x="397.6" y="242.7"/>
<use href="#ci" x="404.8" y="244.5"/>
<use href="#ci" x="401.8" y="240.8"/>
<use href="#ci" x="405.1" y="238.6"/>
<use href="#ci" x="398.0" y="243.8"/>
<use href="#ci" x="400.4" y="245.7"/>
<use href="#ci" x="395.8" y="241.4"/>
<use href="#ci" x="397.4" y="237.7"/>
<use href="#ci" x="395.8" y="238.5"/>
<use href="#ci" x="399.4" y="241.2"/>
<use href="#ci" x="401.3" y="240.1"/>
<use href="#ci" x="403.8" y="241.9"/>
<use href="#ci" x="407.5" y="239.1"/>
<use href="#ci" x="401.3" y="241.7"/>
<use href="#ci" x="399.5" y="244.6"/>
<use href="#ci" x="397.3" y="244.8"/>
<use href="#ci" x="399.3" y="240.4"/>
<use href="#ci" x="402.7" y="242.3"/>
<use href="#ci" x="398.3" y="238.4"/>
<use href="#ci" x="407.2" y="240.7"/>
<use href="#ci" x="396.1" y="243.0"/>
<use href="#ci" x="401.6" y="240.4"/>
<use href="#ci" x="398.9" y="244.5"/>
<use href="#ci" x="413.3" y="245.4"/>
<use href="#ci" x="412.6" y="241.0"/>
<use href="#ci" x="409.9" y="243.0"/>
<use href="#ci" x="416.6" y="241.3"/>
<use href="#ci" x="413.2" y="239.6"/>
<use href="#ci" x="418.2" y="241.4"/>
<use href="#ci" x="418.8" y="240.7"/>
<use href="#ci" x="417.5" y="238.0"/>
<use href="#ci" x="410.7" y="245.4"/>
<use href="#ci" x="416.8" y="243.2"/>
<use href="#ci" x="414.4" y="241.5"/>
<use href="#ci" x="410.4" y="239.1"/>
<use href="#ci" x="416.3" y="243.3"/>
<use href="#ci" x="411.2" y="242.9"/>
<use href="#ci" x="409.6" y="242.7"/>
<use href="#ci" x="410.1" y="241.8"/>
<use href="#ci" x="411.9" y="242.2"/>
<use href="#ci" x="409.6" y="241.6"/>
<use href="#ci" x="415.9" y="238.8"/>
<use href="#ci" x="411.9" y="243.2"/>
<use href="#ci" x="415.0" y="242.7"/>
<use href="#ci" x="418.1" y="242.3"/>
<use href="#ci" x="410.7" y="241.3"/>
<use href="#ci" x="418.8" y="242.3"/>
<use href="#ci" x="417.8" y="240.7"/>
<use href="#ci" x="413.7" y="245.5"/>
<use href="#ci" x="418.7" y="243.0"/>
<use href="#ci" x="409.2" y="242.6"/>
<use href="#ci" x="408.2" y="245.2"/>
<use href="#ci" x="420.6" y="243.6"/>
<use href="#ci" x="411.3" y="244.5"/>
<use href="#ci" x="410.1" y="244.4"/>
<use href="#ci" x="421.2" y="244.9"/>
<use href="#ci" x="426.8" y="244.4"/>
<use href="#ci" x="430.1" y="242.0"/>
<use href="#ci" x="432.4" y="239.4"/>
<use href="#ci" x="432.9" y="240.4"/>
<use href="#ci" x="438.7" y="238.3"/>
<use href="#ci" x="435.2" y="242.7"/>
<use href="#ci" x="343.7" y="248.1"/>
<use href="#ci" x="345.3" y="253.2"/>
<use href="#ci" x="366.4" y="253.7"/>
<use href="#ci" x="360.7" y="252.2"/>
<use href="#ci" x="358.6" y="253.2"/>
<use href="#ci" x="377.8" y="247.6"/>
<use href="#ci" x="369.3" y="253.2"/>
<use href="#ci" x="375.4" y="250.7"/>
<use href="#ci" x="379.5" y="246.9"/>
<use href="#ci" x="377.3" y="249.5"/>
<use href="#ci" x="387.4" y="247.3"/>
<use href="#ci" x="394.0" y="248.0"/>
<use href="#ci" x="391.2" y="252.4"/>
<use href="#ci" x="384.6" y="251.3"/>
<use href="#ci" x="386.6" y="247.6"/>
<use href="#ci" x="384.2" y="253.4"/>
<use href="#ci" x="386.2" y="249.9"/>
<use href="#ci" x="388.0" y="246.0"/>
<use href="#ci" x="404.4" y="252.8"/>
<use href="#ci" x="399.3" y="247.4"/>
<use href="#ci" x="399.2" y="251.6"/>
<use href="#ci" x="403.3" y="249.0"/>
<use href="#ci" x="401.5" y="247.0"/>
<use href="#ci" x="406.7" y="249.6"/>
<use href="#ci" x="401.3" y="252.1"/>
<use href="#ci" x="397.2" y="251.6"/>
<use href="#ci" x="399.2" y="252.3"/>
<use href="#ci" x="395.8" y="248.0"/>
<use href="#ci" x="403.0" y="249.6"/>
<use href="#ci" x="399.5" y="250.4"/>
<use href="#ci" x="397.4" y="249.3"/>
<use href="#ci" x="394.6" y="252.2"/>
<use href="#ci" x="397.9" y="252.4"/>
<use href="#ci" x="401.9" y="250.6"/>
<use href="#ci" x="402.8" y="246.8"/>
<use href="#ci" x="404.8" y="248.1"/>
<use href="#ci" x="406.0" y="252.1"/>
<use href="#ci" x="403.5" y="252.3"/>
<use href="#ci" x="400.3" y="251.2"/>
<use href="#ci" x="407.2" y="247.3"/>
<use href="#ci" x="395.9" y="249.1"/>
<use href="#ci" x="401.3" y="247.0"/>
<use href="#ci" x="397.5" y="252.7"/>
<use href="#ci" x="399.7" y="247.0"/>
<use href="#ci" x="397.0" y="250.4"/>
<use href="#ci" x="397.1" y="249.6"/>
<use href="#ci" x="401.7" y="249.3"/>
<use href="#ci" x="401.2" y="252.5"/>
<use href="#ci" x="394.8" y="253.2"/>
<use href="#ci" x="397.2" y="246.1"/>
<use href="#ci" x="415.3" y="250.1"/>
<use href="#ci" x="410.7" y="252.0"/>
<use href="#ci" x="411.8" y="251.6"/>
<use href="#ci" x="410.8" y="250.4"/>
<use href="#ci" x="416.4" y="248.7"/>
<use href="#ci" x="414.1" y="246.3"/>
<use href="#ci" x="416.3" y="251.3"/>
<use href="#ci" x="409.8" y="250.2"/>
<use href="#ci" x="417.5" y="246.6"/>
<use href="#ci" x="418.9" y="252.8"/>
<use href="#ci" x="408.5" y="247.8"/>
<use href="#ci" x="408.9" y="247.8"/>
<use href="#ci" x="408.9" y="249.7"/>
<use href="#ci" x="411.1" y="248.2"/>
<use href="#ci" x="413.9" y="248.7"/>
<use href="#ci" x="418.2" y="251.6"/>
<use href="#ci" x="409.3" y="247.6"/>
<use href="#ci" x="407.9" y="248.4"/>
<use href="#ci" x="409.2" y="251.4"/>
<use href="#ci" x="418.1" y="253.8"/>
<use href="#ci" x="410.6" y="246.1"/>
<use href="#ci" x="417.8" y="249.1"/>
<use href="#ci" x="420.1" y="248.9"/>
<use href="#ci" x="411.9" y="246.3"/>
<use href="#ci" x="420.3" y="249.9"/>
<use href="#ci" x="413.6" y="249.3"/>
<use href="#ci" x="418.0" y="252.4"/>
<use href="#ci" x="414.1" y="247.2"/>
<use href="#ci" x="413.2" y="252.9"/>
<use href="#ci" x="413.2" y="251.1"/>
<use href="#ci" x="415.2" y="249.5"/>
<use href="#ci" x="415.4" y="247.7"/>
<use href="#ci" x="432.5" y="246.4"/>
<use href="#ci" x="425.9" y="252.8"/>
<use href="#ci" x="434.0" y="245.9"/>
<use href="#ci" x="429.3" y="250.8"/>
<use href="#ci" x="432.2" y="249.5"/>
<use href="#ci" x="438.2" y="251.5"/>
<use href="#ci" x="443.9" y="247.4"/>
<use href="#ci" x="442.8" y="251.0"/>
<use href="#ci" x="443.0" y="245.9"/>
<use href="#ci" x="359.2" y="258.6"/>
<use href="#ci" x="359.3" y="254.8"/>
<use href="#ci" x="371.9" y="260.2"/>
<use href="#ci" x="372.1" y="258.2"/>
<use href="#ci" x="378.8" y="254.7"/>
<use href="#ci" x="382.2" y="261.3"/>
<use href="#ci" x="381.7" y="259.6"/>
<use href="#ci" x="386.2" y="255.2"/>
<use href="#ci" x="386.6" y="257.8"/>
<use href="#ci" x="386.8" y="254.8"/>
<use href="#ci" x="398.5" y="261.6"/>
<use href="#ci" x="399.6" y="257.3"/>
<use href="#ci" x="397.6" y="261.6"/>
<use href="#ci" x="398.8" y="259.0"/>
<use href="#ci" x="405.6" y="257.0"/>
<use href="#ci" x="404.5" y="256.0"/>
<use href="#ci" x="396.0" y="254.1"/>
<use href="#ci" x="400.5" y="260.8"/>
<use href="#ci" x="397.2" y="257.3"/>
<use href="#ci" x="404.6" y="256.0"/>
<use href="#ci" x="396.6" y="258.0"/>
<use href="#ci" x="400.2" y="261.3"/>
<use href="#ci" x="406.4" y="255.7"/>
<use href="#ci" x="402.0" y="257.1"/>
<use href="#ci" x="395.0" y="257.4"/>
<use href="#ci" x="406.7" y="256.2"/>
<use href="#ci" x="402.3" y="259.5"/>
<use href="#ci" x="395.4" y="261.2"/>
<use href="#ci" x="396.0" y="256.2"/>
<use href="#ci" x="404.0" y="254.0"/>
<use href="#ci" x="399.5" y="254.8"/>
<use href="#ci" x="400.8" y="253.9"/>
<use href="#ci" x="396.6" y="255.6"/>
<use href="#ci" x="395.6" y="254.5"/>
<use href="#ci" x="397.1" y="258.0"/>
<use href="#ci" x="396.4" y="260.4"/>
<use href="#ci" x="400.1" y="255.8"/>
<use href="#ci" x="397.7" y="260.5"/>
<use href="#ci" x="395.2" y="259.8"/>
<use href="#ci" x="395.8" y="261.4"/>
<use href="#ci" x="400.0" y="258.6"/>
<use href="#ci" x="406.0" y="254.6"/>
<use href="#ci" x="417.0" y="258.5"/>
<use href="#ci" x="417.3" y="256.0"/>
<use href="#ci" x="414.4" y="255.3"/>
<use href="#ci" x="413.6" y="256.1"/>
<use href="#ci" x="415.5" y="256.2"/>
<use href="#ci" x="411.4" y="259.0"/>
<use href="#ci" x="408.9" y="260.2"/>
<use href="#ci" x="414.3" y="255.6"/>
<use href="#ci" x="409.3" y="257.9"/>
<use href="#ci" x="414.5" y="259.6"/>
<use href="#ci" x="412.7" y="257.1"/>
<use href="#ci" x="419.6" y="256.0"/>
<use href="#ci" x="420.8" y="261.0"/>
<use href="#ci" x="420.9" y="261.4"/>
<use href="#ci" x="411.2" y="260.3"/>
<use href="#ci" x="423.7" y="261.8"/>
<use href="#ci" x="429.6" y="260.3"/>
<use href="#ci" x="428.4" y="254.4"/>
<use href="#ci" x="383.6" y="263.9"/>
<use href="#ci" x="389.5" y="263.4"/>
<use href="#ci" x="387.4" y="267.6"/>
<use href="#ci" x="403.3" y="262.7"/>
<use href="#ci" x="400.8" y="267.1"/>
<use href="#ci" x="403.7" y="262.2"/>
<use href="#ci" x="397.1" y="269.6"/>
<use href="#ci" x="399.7" y="265.3"/>
<use href="#ci" x="399.5" y="267.4"/>
<use href="#ci" x="404.4" y="267.1"/>
<use href="#ci" x="399.9" y="266.4"/>
<use href="#ci" x="410.3" y="269.5"/>
<use href="#ci" x="420.6" y="268.1"/>
<use href="#ci" x="420.9" y="265.6"/>
<use href="#ci" x="418.9" y="263.8"/>
<use href="#ci" x="417.6" y="267.6"/>
<use href="#ci" x="420.2" y="268.5"/>
<use href="#ci" x="419.4" y="264.0"/>
<use href="#ci" x="418.2" y="265.7"/>
<use href="#ci" x="425.9" y="268.3"/>
<use href="#ci" x="432.2" y="268.6"/>
<use href="#ci" x="429.9" y="263.2"/>
<use href="#ci" x="441.8" y="263.5"/>
<use href="#ci" x="438.7" y="262.7"/>
<use href="#ci" x="404.0" y="271.7"/>
<use href="#ci" x="405.8" y="272.5"/>
<use href="#ci" x="411.8" y="272.0"/>
<use href="#ci" x="396.5" y="205.3"/>
<use href="#ci" x="402.3" y="204.6"/>
<use href="#ci" x="405.9" y="204.6"/>
<use href="#ci" x="409.6" y="200.9"/>
<use href="#ci" x="414.7" y="200.9"/>
<use href="#ci" x="423.4" y="201.7"/>
<use href="#ci" x="448.9" y="202.4"/>
<use href="#ci" x="459.1" y="206.0"/>
<use href="#ci" x="462.8" y="205.3"/>
<use href="#ci" x="452.6" y="210.4"/>
<use href="#ci" x="457.0" y="215.5"/>
<use href="#ci" x="457.0" y="222.8"/>
<use href="#ci" x="452.6" y="232.3"/>
<use href="#ci" x="441.6" y="221.3"/>
<use href="#ci" x="447.5" y="215.5"/>
<use href="#ci" x="446.5" y="247.5"/>
<use href="#ci" x="445.7" y="251.0"/>
<use href="#ci" x="436.4" y="266.1"/>
<use href="#ci" x="444.3" y="246.4"/>
<use href="#ci" x="370.3" y="207.9"/>
<use href="#ci" x="380.5" y="210.0"/>
<use href="#ci" x="385.6" y="209.3"/>
<use href="#ci" x="395.8" y="205.0"/>
<use href="#ci" x="395.8" y="215.9"/>
<use href="#ci" x="392.9" y="223.2"/>
<use href="#ci" x="370.9" y="207.9"/>
<use href="#ci" x="380.6" y="210.4"/>
<use href="#st" x="328.6" y="225.2"/>
<use href="#st" x="333.4" y="221.8"/>
<use href="#st" x="339.8" y="224.7"/>
<use href="#st" x="354.3" y="223.5"/>
<use href="#st" x="345.0" y="221.8"/>
<use href="#st" x="342.9" y="227.4"/>
<use href="#st" x="349.3" y="225.7"/>
<use href="#st" x="358.7" y="229.4"/>
<use href="#st" x="359.8" y="229.6"/>
<use href="#st" x="366.6" y="222.7"/>
<use href="#st" x="366.1" y="221.8"/>
<use href="#st" x="364.3" y="228.2"/>
<use href="#st" x="364.1" y="226.1"/>
<use href="#st" x="365.6" y="222.9"/>
<use href="#st" x="362.0" y="223.8"/>
<use href="#st" x="360.1" y="223.2"/>
<use href="#st" x="364.2" y="226.3"/>
<use href="#st" x="365.2" y="226.7"/>
<use href="#st" x="380.3" y="228.2"/>
<use href="#st" x="375.6" y="224.3"/>
<use href="#st" x="380.4" y="224.6"/>
<use href="#st" x="369.4" y="224.3"/>
<use href="#st" x="377.4" y="229.1"/>
<use href="#st" x="376.6" y="227.0"/>
<use href="#st" x="380.5" y="227.9"/>
<use href="#st" x="374.0" y="225.4"/>
<use href="#st" x="378.1" y="224.2"/>
<use href="#st" x="369.5" y="226.6"/>
<use href="#st" x="378.8" y="223.6"/>
<use href="#st" x="393.1" y="222.7"/>
<use href="#st" x="383.1" y="225.6"/>
<use href="#st" x="385.7" y="229.3"/>
<use href="#st" x="394.5" y="225.2"/>
<use href="#st" x="391.8" y="226.7"/>
<use href="#st" x="383.6" y="229.5"/>
<use href="#st" x="383.6" y="222.3"/>
<use href="#st" x="387.3" y="221.8"/>
<use href="#st" x="400.0" y="229.3"/>
<use href="#st" x="400.0" y="228.5"/>
<use href="#st" x="336.2" y="231.6"/>
<use href="#st" x="332.4" y="233.6"/>
<use href="#st" x="333.6" y="234.9"/>
<use href="#st" x="335.1" y="232.3"/>
<use href="#st" x="336.4" y="237.7"/>
<use href="#st" x="331.1" y="232.4"/>
<use href="#st" x="328.6" y="230.4"/>
<use href="#st" x="329.1" y="233.1"/>
<use href="#st" x="339.5" y="235.3"/>
<use href="#st" x="341.2" y="236.4"/>
<use href="#st" x="336.2" y="234.4"/>
<use href="#st" x="328.6" y="232.8"/>
<use href="#st" x="331.9" y="234.7"/>
<use href="#st" x="329.3" y="234.0"/>
<use href="#st" x="333.4" y="233.6"/>
<use href="#st" x="333.8" y="230.5"/>
<use href="#st" x="338.1" y="236.1"/>
<use href="#st" x="336.3" y="230.6"/>
<use href="#st" x="336.3" y="236.7"/>
<use href="#st" x="341.5" y="235.8"/>
<use href="#st" x="329.0" y="236.7"/>
<use href="#st" x="345.3" y="237.1"/>
<use href="#st" x="352.6" y="236.9"/>
<use href="#st" x="344.9" y="234.3"/>
<use href="#st" x="346.6" y="232.1"/>
<use href="#st" x="351.7" y="234.6"/>
<use href="#st" x="346.0" y="234.1"/>
<use href="#st" x="353.9" y="234.2"/>
<use href="#st" x="353.7" y="234.2"/>
<use href="#st" x="354.8" y="229.9"/>
<use href="#st" x="347.7" y="234.1"/>
<use href="#st" x="351.2" y="237.5"/>
<use href="#st" x="349.9" y="233.5"/>
<use href="#st" x="350.0" y="234.0"/>
<use href="#st" x="351.0" y="237.3"/>
<use href="#st" x="341.8" y="232.3"/>
<use href="#st" x="353.2" y="230.2"/>
<use href="#st" x="352.1" y="229.9"/>
<use href="#st" x="350.2" y="236.1"/>
<use href="#st" x="344.8" y="232.8"/>
<use href="#st" x="344.6" y="235.4"/>
<use href="#st" x="348.6" y="234.6"/>
<use href="#st" x="362.6" y="237.4"/>
<use href="#st" x="365.2" y="237.3"/>
<use href="#st" x="358.1" y="233.8"/>
<use href="#st" x="360.0" y="232.5"/>
<use href="#st" x="365.5" y="231.1"/>
<use href="#st" x="362.3" y="235.9"/>
<use href="#st" x="367.2" y="229.8"/>
<use href="#st" x="358.4" y="233.7"/>
<use href="#st" x="367.3" y="231.0"/>
<use href="#st" x="366.0" y="232.9"/>
<use href="#st" x="362.1" y="237.1"/>
<use href="#st" x="355.7" y="232.3"/>
<use href="#st" x="356.9" y="230.8"/>
<use href="#st" x="358.9" y="235.3"/>
<use href="#st" x="362.5" y="230.7"/>
<use href="#st" x="374.8" y="230.8"/>
<use href="#st" x="378.9" y="236.3"/>
<use href="#st" x="371.0" y="237.2"/>
<use href="#st" x="378.8" y="231.5"/>
<use href="#st" x="368.1" y="236.7"/>
<use href="#st" x="379.0" y="230.5"/>
<use href="#st" x="378.2" y="235.9"/>
<use href="#st" x="376.5" y="236.4"/>
<use href="#st" x="381.1" y="232.3"/>
<use href="#st" x="379.1" y="237.1"/>
<use href="#st" x="390.4" y="235.2"/>
<use href="#st" x="392.6" y="234.2"/>
<use href="#st" x="385.0" y="231.7"/>
<use href="#st" x="388.5" y="230.8"/>
<use href="#st" x="392.7" y="236.8"/>
<use href="#st" x="384.5" y="235.3"/>
<use href="#st" x="390.2" y="230.7"/>
<use href="#st" x="391.6" y="235.8"/>
<use href="#st" x="385.4" y="230.5"/>
<use href="#st" x="385.1" y="235.9"/>
<use href="#st" x="387.5" y="236.2"/>
<use href="#st" x="396.0" y="232.5"/>
<use href="#st" x="406.2" y="231.0"/>
<use href="#st" x="338.4" y="238.5"/>
<use href="#st" x="337.2" y="238.4"/>
<use href="#st" x="331.7" y="243.1"/>
<use href="#st" x="340.0" y="241.0"/>
<use href="#st" x="334.3" y="238.0"/>
<use href="#st" x="332.9" y="239.7"/>
<use href="#st" x="338.8" y="243.5"/>
<use href="#st" x="338.8" y="242.0"/>
<use href="#st" x="337.7" y="238.7"/>
<use href="#st" x="333.5" y="240.1"/>
<use href="#st" x="332.1" y="243.7"/>
<use href="#st" x="331.2" y="240.3"/>
<use href="#st" x="332.1" y="244.7"/>
<use href="#st" x="336.8" y="241.6"/>
<use href="#st" x="333.4" y="245.1"/>
<use href="#st" x="340.8" y="241.3"/>
<use href="#st" x="335.9" y="244.7"/>
<use href="#st" x="331.8" y="239.8"/>
<use href="#st" x="329.8" y="241.8"/>
<use href="#st" x="338.6" y="239.0"/>
<use href="#st" x="334.1" y="245.7"/>
<use href="#st" x="334.8" y="240.8"/>
<use href="#st" x="339.5" y="244.9"/>
<use href="#st" x="333.4" y="238.7"/>
<use href="#st" x="336.8" y="243.7"/>
<use href="#st" x="340.6" y="243.0"/>
<use href="#st" x="332.5" y="241.9"/>
<use href="#st" x="332.2" y="241.3"/>
<use href="#st" x="334.6" y="245.1"/>
<use href="#st" x="340.4" y="245.2"/>
<use href="#st" x="334.7" y="245.5"/>
<use href="#st" x="330.2" y="245.1"/>
<use href="#st" x="353.2" y="241.0"/>
<use href="#st" x="354.7" y="237.9"/>
<use href="#st" x="352.8" y="244.3"/>
<use href="#st" x="346.6" y="244.4"/>
<use href="#st" x="344.5" y="243.8"/>
<use href="#st" x="347.8" y="241.0"/>
<use href="#st" x="344.2" y="244.2"/>
<use href="#st" x="351.3" y="238.4"/>
<use href="#st" x="354.6" y="239.5"/>
<use href="#st" x="346.6" y="241.1"/>
<use href="#st" x="349.3" y="244.9"/>
<use href="#st" x="354.1" y="242.8"/>
<use href="#st" x="346.5" y="238.6"/>
<use href="#st" x="342.5" y="241.9"/>
<use href="#st" x="349.3" y="241.3"/>
<use href="#st" x="354.6" y="241.0"/>
<use href="#st" x="346.3" y="241.1"/>
<use href="#st" x="343.9" y="245.3"/>
<use href="#st" x="349.5" y="242.1"/>
<use href="#st" x="347.3" y="239.7"/>
<use href="#st" x="345.8" y="241.7"/>
<use href="#st" x="347.5" y="245.6"/>
<use href="#st" x="349.1" y="239.4"/>
<use href="#st" x="342.3" y="239.0"/>
<use href="#st" x="346.2" y="244.0"/>
<use href="#st" x="353.4" y="239.6"/>
<use href="#st" x="352.0" y="241.3"/>
<use href="#st" x="348.7" y="242.0"/>
<use href="#st" x="342.2" y="238.3"/>
<use href="#st" x="350.5" y="243.3"/>
<use href="#st" x="346.7" y="245.1"/>
<use href="#st" x="352.5" y="240.2"/>
<use href="#st" x="362.2" y="243.0"/>
<use href="#st" x="357.8" y="238.1"/>
<use href="#st" x="361.3" y="238.0"/>
<use href="#st" x="364.6" y="242.8"/>
<use href="#st" x="358.6" y="241.3"/>
<use href="#st" x="357.9" y="239.2"/>
<use href="#st" x="357.3" y="244.3"/>
<use href="#st" x="360.9" y="243.5"/>
<use href="#st" x="359.5" y="244.2"/>
<use href="#st" x="362.7" y="243.0"/>
<use href="#st" x="360.1" y="242.2"/>
<use href="#st" x="357.4" y="245.6"/>
<use href="#st" x="363.8" y="242.0"/>
<use href="#st" x="363.3" y="238.5"/>
<use href="#st" x="359.3" y="239.6"/>
<use href="#st" x="368.3" y="241.3"/>
<use href="#st" x="379.6" y="244.0"/>
<use href="#st" x="377.6" y="240.1"/>
<use href="#st" x="371.2" y="243.4"/>
<use href="#st" x="372.0" y="243.5"/>
<use href="#st" x="372.7" y="243.8"/>
<use href="#st" x="375.7" y="244.3"/>
<use href="#st" x="381.1" y="240.8"/>
<use href="#st" x="381.1" y="237.8"/>
<use href="#st" x="379.7" y="238.0"/>
<use href="#st" x="375.3" y="240.8"/>
<use href="#st" x="378.3" y="240.3"/>
<use href="#st" x="370.8" y="244.0"/>
<use href="#st" x="375.4" y="243.8"/>
<use href="#st" x="374.6" y="238.0"/>
<use href="#st" x="384.2" y="241.5"/>
<use href="#st" x="381.3" y="239.8"/>
<use href="#st" x="390.1" y="243.9"/>
<use href="#st" x="389.7" y="241.3"/>
<use href="#st" x="391.0" y="243.1"/>
<use href="#st" x="384.1" y="242.0"/>
<use href="#st" x="389.2" y="243.6"/>
<use href="#st" x="383.9" y="240.2"/>
<use href="#st" x="385.9" y="238.5"/>
<use href="#st" x="385.9" y="243.6"/>
<use href="#st" x="396.8" y="243.6"/>
<use href="#st" x="396.1" y="243.8"/>
<use href="#st" x="329.7" y="247.8"/>
<use href="#st" x="335.2" y="247.9"/>
<use href="#st" x="340.1" y="253.3"/>
<use href="#st" x="332.1" y="251.8"/>
<use href="#st" x="337.6" y="250.3"/>
<use href="#st" x="331.8" y="253.4"/>
<use href="#st" x="341.1" y="245.9"/>
<use href="#st" x="332.8" y="248.3"/>
<use href="#st" x="331.0" y="249.2"/>
<use href="#st" x="340.3" y="246.0"/>
<use href="#st" x="339.5" y="248.2"/>
<use href="#st" x="328.6" y="253.0"/>
<use href="#st" x="332.0" y="247.5"/>
<use href="#st" x="329.9" y="248.7"/>
<use href="#st" x="330.0" y="247.2"/>
<use href="#st" x="331.7" y="250.4"/>
<use href="#st" x="334.3" y="248.2"/>
<use href="#st" x="335.4" y="252.0"/>
<use href="#st" x="338.0" y="248.5"/>
<use href="#st" x="340.5" y="252.1"/>
<use href="#st" x="335.8" y="249.6"/>
<use href="#st" x="332.8" y="246.8"/>
<use href="#st" x="340.1" y="250.7"/>
<use href="#st" x="329.7" y="253.2"/>
<use href="#st" x="340.1" y="246.0"/>
<use href="#st" x="337.7" y="247.7"/>
<use href="#st" x="335.5" y="252.5"/>
<use href="#st" x="333.0" y="249.8"/>
<use href="#st" x="337.2" y="247.3"/>
<use href="#st" x="336.7" y="249.2"/>
<use href="#st" x="341.4" y="247.3"/>
<use href="#st" x="337.8" y="246.1"/>
<use href="#st" x="343.2" y="247.0"/>
<use href="#st" x="348.6" y="247.2"/>
<use href="#st" x="352.1" y="246.5"/>
<use href="#st" x="349.9" y="252.7"/>
<use href="#st" x="343.3" y="247.5"/>
<use href="#st" x="351.8" y="249.5"/>
<use href="#st" x="354.0" y="248.5"/>
<use href="#st" x="346.9" y="253.5"/>
<use href="#st" x="346.2" y="253.5"/>
<use href="#st" x="353.4" y="247.4"/>
<use href="#st" x="348.9" y="253.3"/>
<use href="#st" x="343.2" y="252.6"/>
<use href="#st" x="351.9" y="251.8"/>
<use href="#st" x="349.6" y="246.6"/>
<use href="#st" x="354.3" y="246.6"/>
<use href="#st" x="352.0" y="251.6"/>
<use href="#st" x="345.8" y="251.3"/>
<use href="#st" x="347.1" y="251.8"/>
<use href="#st" x="342.2" y="253.3"/>
<use href="#st" x="346.7" y="252.2"/>
<use href="#st" x="347.9" y="252.3"/>
<use href="#st" x="345.6" y="250.1"/>
<use href="#st" x="342.0" y="249.7"/>
<use href="#st" x="342.7" y="252.7"/>
<use href="#st" x="350.6" y="249.2"/>
<use href="#st" x="354.5" y="253.4"/>
<use href="#st" x="354.3" y="246.4"/>
<use href="#st" x="350.9" y="251.6"/>
<use href="#st" x="349.6" y="245.9"/>
<use href="#st" x="353.9" y="249.3"/>
<use href="#st" x="349.5" y="252.3"/>
<use href="#st" x="345.3" y="246.0"/>
<use href="#st" x="358.4" y="246.1"/>
<use href="#st" x="356.7" y="253.8"/>
<use href="#st" x="364.7" y="247.4"/>
<use href="#st" x="356.8" y="253.0"/>
<use href="#st" x="363.7" y="250.4"/>
<use href="#st" x="356.6" y="249.1"/>
<use href="#st" x="367.4" y="245.8"/>
<use href="#st" x="360.4" y="246.2"/>
<use href="#st" x="368.1" y="246.6"/>
<use href="#st" x="367.5" y="252.5"/>
<use href="#st" x="364.5" y="246.1"/>
<use href="#st" x="364.1" y="249.7"/>
<use href="#st" x="361.4" y="246.9"/>
<use href="#st" x="361.6" y="252.2"/>
<use href="#st" x="356.6" y="252.8"/>
<use href="#st" x="360.4" y="247.9"/>
<use href="#st" x="358.0" y="249.5"/>
<use href="#st" x="363.4" y="250.3"/>
<use href="#st" x="366.6" y="249.9"/>
<use href="#st" x="361.6" y="253.7"/>
<use href="#st" x="357.7" y="245.9"/>
<use href="#st" x="372.2" y="246.8"/>
<use href="#st" x="373.6" y="246.0"/>
<use href="#st" x="380.3" y="249.7"/>
<use href="#st" x="379.7" y="251.4"/>
<use href="#st" x="377.8" y="251.9"/>
<use href="#st" x="372.1" y="251.6"/>
<use href="#st" x="370.8" y="250.2"/>
<use href="#st" x="376.0" y="252.0"/>
<use href="#st" x="370.3" y="248.5"/>
<use href="#st" x="379.0" y="252.2"/>
<use href="#st" x="381.0" y="246.7"/>
<use href="#st" x="370.9" y="246.6"/>
<use href="#st" x="377.7" y="251.8"/>
<use href="#st" x="376.7" y="252.0"/>
<use href="#st" x="374.9" y="250.3"/>
<use href="#st" x="389.9" y="251.0"/>
<use href="#st" x="389.1" y="249.7"/>
<use href="#st" x="391.3" y="250.4"/>
<use href="#st" x="383.0" y="249.2"/>
<use href="#st" x="386.9" y="249.2"/>
<use href="#st" x="388.7" y="248.7"/>
<use href="#st" x="386.5" y="249.2"/>
<use href="#st" x="386.2" y="253.6"/>
<use href="#st" x="382.5" y="245.9"/>
<use href="#st" x="390.9" y="248.9"/>
<use href="#st" x="402.4" y="248.7"/>
<use href="#st" x="397.7" y="245.9"/>
<use href="#st" x="340.8" y="256.1"/>
<use href="#st" x="334.6" y="256.4"/>
<use href="#st" x="329.2" y="261.0"/>
<use href="#st" x="339.5" y="255.7"/>
<use href="#st" x="331.8" y="259.4"/>
<use href="#st" x="338.9" y="257.6"/>
<use href="#st" x="333.5" y="255.7"/>
<use href="#st" x="339.0" y="260.7"/>
<use href="#st" x="339.8" y="254.7"/>
<use href="#st" x="336.3" y="261.7"/>
<use href="#st" x="337.9" y="257.5"/>
<use href="#st" x="330.3" y="254.3"/>
<use href="#st" x="338.1" y="254.4"/>
<use href="#st" x="339.1" y="259.2"/>
<use href="#st" x="334.7" y="261.0"/>
<use href="#st" x="340.7" y="258.8"/>
<use href="#st" x="329.7" y="258.5"/>
<use href="#st" x="334.0" y="255.8"/>
<use href="#st" x="340.7" y="259.7"/>
<use href="#st" x="330.0" y="255.6"/>
<use href="#st" x="332.9" y="258.4"/>
<use href="#st" x="332.7" y="257.3"/>
<use href="#st" x="339.2" y="255.3"/>
<use href="#st" x="337.9" y="256.5"/>
<use href="#st" x="340.9" y="261.4"/>
<use href="#st" x="332.7" y="258.7"/>
<use href="#st" x="329.9" y="257.1"/>
<use href="#st" x="336.6" y="258.9"/>
<use href="#st" x="332.9" y="254.1"/>
<use href="#st" x="330.0" y="258.3"/>
<use href="#st" x="330.7" y="256.3"/>
<use href="#st" x="336.6" y="261.0"/>
<use href="#st" x="345.0" y="258.5"/>
<use href="#st" x="345.3" y="260.1"/>
<use href="#st" x="343.7" y="255.9"/>
<use href="#st" x="347.4" y="261.1"/>
<use href="#st" x="343.8" y="255.3"/>
<use href="#st" x="343.4" y="255.5"/>
<use href="#st" x="346.0" y="257.0"/>
<use href="#st" x="351.7" y="257.0"/>
<use href="#st" x="347.9" y="257.0"/>
<use href="#st" x="351.9" y="261.1"/>
<use href="#st" x="347.3" y="261.2"/>
<use href="#st" x="344.9" y="261.7"/>
<use href="#st" x="348.6" y="259.3"/>
<use href="#st" x="346.7" y="256.0"/>
<use href="#st" x="343.4" y="260.9"/>
<use href="#st" x="346.4" y="259.4"/>
<use href="#st" x="347.7" y="258.0"/>
<use href="#st" x="344.4" y="255.2"/>
<use href="#st" x="346.1" y="259.3"/>
<use href="#st" x="348.8" y="253.8"/>
<use href="#st" x="351.0" y="257.3"/>
<use href="#st" x="342.5" y="255.9"/>
<use href="#st" x="344.4" y="260.4"/>
<use href="#st" x="348.9" y="256.4"/>
<use href="#st" x="344.9" y="256.1"/>
<use href="#st" x="345.3" y="256.6"/>
<use href="#st" x="352.1" y="260.1"/>
<use href="#st" x="350.9" y="260.9"/>
<use href="#st" x="350.3" y="254.7"/>
<use href="#st" x="342.2" y="255.1"/>
<use href="#st" x="345.0" y="258.0"/>
<use href="#st" x="352.5" y="258.5"/>
<use href="#st" x="347.3" y="255.7"/>
<use href="#st" x="354.6" y="259.9"/>
<use href="#st" x="346.1" y="254.2"/>
<use href="#st" x="354.6" y="255.9"/>
<use href="#st" x="352.8" y="254.7"/>
<use href="#st" x="350.3" y="256.7"/>
<use href="#st" x="353.4" y="256.2"/>
<use href="#st" x="343.0" y="255.4"/>
<use href="#st" x="352.3" y="261.7"/>
<use href="#st" x="350.1" y="259.3"/>
<use href="#st" x="345.4" y="256.0"/>
<use href="#st" x="342.8" y="261.7"/>
<use href="#st" x="342.2" y="258.7"/>
<use href="#st" x="346.3" y="255.3"/>
<use href="#st" x="347.4" y="261.3"/>
<use href="#st" x="344.9" y="255.1"/>
<use href="#st" x="363.6" y="257.9"/>
<use href="#st" x="357.2" y="260.8"/>
<use href="#st" x="356.3" y="255.2"/>
<use href="#st" x="358.1" y="257.9"/>
<use href="#st" x="361.2" y="258.2"/>
<use href="#st" x="364.5" y="261.0"/>
<use href="#st" x="361.1" y="254.1"/>
<use href="#st" x="365.9" y="253.9"/>
<use href="#st" x="359.1" y="255.0"/>
<use href="#st" x="362.8" y="260.1"/>
<use href="#st" x="356.6" y="256.2"/>
<use href="#st" x="366.1" y="259.3"/>
<use href="#st" x="356.3" y="259.3"/>
<use href="#st" x="365.4" y="257.1"/>
<use href="#st" x="356.9" y="259.1"/>
<use href="#st" x="359.1" y="254.9"/>
<use href="#st" x="357.0" y="257.0"/>
<use href="#st" x="356.5" y="256.9"/>
<use href="#st" x="362.2" y="258.2"/>
<use href="#st" x="360.2" y="260.2"/>
<use href="#st" x="356.0" y="256.5"/>
<use href="#st" x="367.2" y="260.7"/>
<use href="#st" x="367.0" y="260.0"/>
<use href="#st" x="362.0" y="260.1"/>
<use href="#st" x="362.4" y="254.7"/>
<use href="#st" x="358.2" y="254.6"/>
<use href="#st" x="366.4" y="256.4"/>
<use href="#st" x="360.3" y="258.1"/>
<use href="#st" x="356.2" y="259.5"/>
<use href="#st" x="365.4" y="260.2"/>
<use href="#st" x="366.5" y="256.4"/>
<use href="#st" x="356.8" y="259.9"/>
<use href="#st" x="373.0" y="256.6"/>
<use href="#st" x="370.1" y="260.5"/>
<use href="#st" x="374.2" y="260.3"/>
<use href="#st" x="372.6" y="256.4"/>
<use href="#st" x="374.9" y="259.8"/>
<use href="#st" x="379.8" y="256.6"/>
<use href="#st" x="377.3" y="257.0"/>
<use href="#st" x="379.5" y="259.9"/>
<use href="#st" x="375.4" y="256.7"/>
<use href="#st" x="371.7" y="260.9"/>
<use href="#st" x="378.7" y="256.3"/>
<use href="#st" x="369.2" y="255.4"/>
<use href="#st" x="380.9" y="254.1"/>
<use href="#st" x="378.8" y="258.1"/>
<use href="#st" x="375.4" y="258.1"/>
<use href="#st" x="388.7" y="254.5"/>
<use href="#st" x="393.5" y="254.6"/>
<use href="#st" x="383.2" y="259.2"/>
<use href="#st" x="389.8" y="260.3"/>
<use href="#st" x="390.5" y="261.3"/>
<use href="#st" x="382.0" y="253.9"/>
<use href="#st" x="384.5" y="260.1"/>
<use href="#st" x="383.3" y="258.1"/>
<use href="#st" x="391.5" y="255.1"/>
<use href="#st" x="388.3" y="261.0"/>
<use href="#st" x="391.2" y="257.0"/>
<use href="#st" x="398.2" y="261.5"/>
<use href="#st" x="404.9" y="259.3"/>
<use href="#st" x="338.1" y="265.7"/>
<use href="#st" x="339.0" y="264.8"/>
<use href="#st" x="340.1" y="267.3"/>
<use href="#st" x="334.4" y="266.4"/>
<use href="#st" x="339.0" y="266.1"/>
<use href="#st" x="341.1" y="261.9"/>
<use href="#st" x="340.3" y="267.6"/>
<use href="#st" x="334.9" y="268.7"/>
<use href="#st" x="330.4" y="264.6"/>
<use href="#st" x="337.8" y="268.5"/>
<use href="#st" x="333.3" y="269.8"/>
<use href="#st" x="337.0" y="262.2"/>
<use href="#st" x="330.0" y="262.5"/>
<use href="#st" x="335.9" y="264.4"/>
<use href="#st" x="331.9" y="265.4"/>
<use href="#st" x="353.7" y="268.6"/>
<use href="#st" x="349.0" y="265.4"/>
<use href="#st" x="345.7" y="266.7"/>
<use href="#st" x="346.2" y="269.7"/>
<use href="#st" x="354.3" y="267.7"/>
<use href="#st" x="352.6" y="262.4"/>
<use href="#st" x="343.3" y="264.6"/>
<use href="#st" x="343.3" y="265.2"/>
<use href="#st" x="354.7" y="268.5"/>
<use href="#st" x="354.3" y="263.6"/>
<use href="#st" x="344.6" y="262.0"/>
<use href="#st" x="345.3" y="262.3"/>
<use href="#st" x="348.6" y="264.3"/>
<use href="#st" x="350.5" y="266.3"/>
<use href="#st" x="349.5" y="264.2"/>
<use href="#st" x="351.4" y="267.4"/>
<use href="#st" x="351.1" y="265.6"/>
<use href="#st" x="347.8" y="264.1"/>
<use href="#st" x="342.2" y="265.6"/>
<use href="#st" x="349.8" y="263.3"/>
<use href="#st" x="353.0" y="268.9"/>
<use href="#st" x="352.9" y="268.4"/>
<use href="#st" x="357.2" y="264.0"/>
<use href="#st" x="364.6" y="269.8"/>
<use href="#st" x="356.3" y="261.9"/>
<use href="#st" x="359.5" y="264.6"/>
<use href="#st" x="362.8" y="262.7"/>
<use href="#st" x="366.0" y="264.6"/>
<use href="#st" x="366.9" y="264.5"/>
<use href="#st" x="358.9" y="263.3"/>
<use href="#st" x="367.6" y="266.6"/>
<use href="#st" x="365.8" y="262.3"/>
<use href="#st" x="362.0" y="267.7"/>
<use href="#st" x="367.9" y="269.4"/>
<use href="#st" x="356.2" y="264.8"/>
<use href="#st" x="368.1" y="266.1"/>
<use href="#st" x="367.5" y="263.9"/>
<use href="#st" x="380.6" y="264.0"/>
<use href="#st" x="375.5" y="264.7"/>
<use href="#st" x="375.7" y="269.3"/>
<use href="#st" x="380.6" y="268.9"/>
<use href="#st" x="371.5" y="268.4"/>
<use href="#st" x="368.3" y="265.2"/>
<use href="#st" x="380.6" y="263.9"/>
<use href="#st" x="373.0" y="266.5"/>
<use href="#st" x="371.2" y="267.5"/>
<use href="#st" x="376.7" y="262.6"/>
<use href="#st" x="380.3" y="262.4"/>
<use href="#st" x="377.3" y="264.6"/>
<use href="#st" x="370.0" y="262.5"/>
<use href="#st" x="381.3" y="268.3"/>
<use href="#st" x="374.2" y="268.2"/>
<use href="#st" x="380.9" y="269.3"/>
<use href="#st" x="375.1" y="264.0"/>
<use href="#st" x="375.0" y="269.7"/>
<use href="#st" x="377.8" y="267.2"/>
<use href="#st" x="379.2" y="265.1"/>
<use href="#st" x="375.5" y="268.7"/>
<use href="#st" x="370.7" y="268.7"/>
<use href="#st" x="388.4" y="266.5"/>
<use href="#st" x="383.3" y="269.2"/>
<use href="#st" x="387.1" y="263.3"/>
<use href="#st" x="386.8" y="266.6"/>
<use href="#st" x="387.0" y="261.9"/>
<use href="#st" x="382.5" y="267.6"/>
<use href="#st" x="383.1" y="263.9"/>
<use href="#st" x="392.0" y="268.8"/>
<use href="#st" x="330.7" y="269.9"/>
<use href="#st" x="338.4" y="274.7"/>
<use href="#st" x="333.2" y="270.0"/>
<use href="#st" x="334.1" y="271.8"/>
<use href="#st" x="336.2" y="277.8"/>
<use href="#st" x="342.6" y="275.5"/>
<use href="#st" x="343.1" y="271.7"/>
<use href="#st" x="347.4" y="277.8"/>
<use href="#st" x="345.9" y="272.4"/>
<use href="#st" x="347.9" y="271.2"/>
<use href="#st" x="347.0" y="275.5"/>
<use href="#st" x="345.9" y="276.3"/>
<use href="#st" x="344.1" y="270.7"/>
<use href="#st" x="349.9" y="273.5"/>
<use href="#st" x="353.8" y="270.7"/>
<use href="#st" x="351.5" y="275.3"/>
<use href="#st" x="356.6" y="274.8"/>
<use href="#st" x="364.9" y="273.7"/>
<use href="#st" x="361.1" y="275.4"/>
<use href="#st" x="362.9" y="273.3"/>
<use href="#st" x="357.3" y="273.6"/>
<use href="#st" x="380.0" y="277.9"/>
<use href="#st" x="375.5" y="272.5"/>
<use href="#st" x="371.0" y="274.9"/>
<use href="#st" x="377.9" y="271.9"/>
<use href="#st" x="377.2" y="277.9"/>
<use href="#st" x="373.3" y="277.4"/>
<use href="#st" x="373.9" y="275.1"/>
<use href="#st" x="379.6" y="271.5"/>
<use href="#st" x="372.7" y="277.8"/>
<use href="#st" x="369.0" y="272.3"/>
<use href="#st" x="374.4" y="275.9"/>
<use href="#st" x="376.4" y="277.3"/>
<use href="#st" x="377.0" y="269.9"/>
<use href="#st" x="369.0" y="270.2"/>
<use href="#st" x="373.8" y="270.1"/>
<use href="#st" x="375.1" y="275.0"/>
<use href="#st" x="370.8" y="276.8"/>
<use href="#st" x="373.6" y="277.6"/>
<use href="#st" x="372.8" y="274.9"/>
<use href="#st" x="375.3" y="272.0"/>
<use href="#st" x="378.4" y="269.9"/>
<use href="#st" x="371.4" y="272.5"/>
<use href="#st" x="379.8" y="273.9"/>
<use href="#st" x="368.6" y="272.3"/>
<use href="#st" x="376.2" y="276.4"/>
<use href="#st" x="369.5" y="276.1"/>
<use href="#st" x="373.3" y="274.1"/>
<use href="#st" x="373.7" y="273.4"/>
<use href="#st" x="381.2" y="277.3"/>
<use href="#st" x="380.2" y="275.8"/>
<use href="#st" x="377.4" y="271.0"/>
<use href="#st" x="368.6" y="276.6"/>
<use href="#st" x="389.7" y="272.4"/>
<use href="#st" x="340.6" y="282.2"/>
<use href="#st" x="328.7" y="280.6"/>
<use href="#st" x="342.5" y="285.8"/>
<use href="#st" x="353.6" y="284.5"/>
<use href="#st" x="341.7" y="281.3"/>
<use href="#st" x="364.5" y="284.4"/>
<use href="#st" x="365.3" y="284.3"/>
<use href="#st" x="356.5" y="278.0"/>
<use href="#st" x="356.1" y="284.7"/>
<use href="#st" x="374.9" y="279.8"/>
<use href="#st" x="379.4" y="278.9"/>
<use href="#st" x="372.4" y="277.9"/>
<use href="#st" x="381.1" y="281.2"/>
<use href="#st" x="378.3" y="284.4"/>
<use href="#st" x="375.8" y="285.8"/>
<use href="#st" x="378.3" y="285.4"/>
<use href="#st" x="380.8" y="278.6"/>
<use href="#st" x="378.0" y="279.7"/>
<use href="#st" x="372.4" y="280.7"/>
<use href="#st" x="381.2" y="278.4"/>
<use href="#st" x="373.8" y="278.9"/>
<use href="#st" x="381.3" y="281.9"/>
<use href="#st" x="377.4" y="282.1"/>
<use href="#st" x="378.2" y="280.6"/>
<use href="#st" x="373.6" y="283.9"/>
<use href="#st" x="377.4" y="285.0"/>
<use href="#st" x="372.2" y="284.7"/>
<use href="#st" x="377.8" y="282.5"/>
<use href="#st" x="373.5" y="282.5"/>
<use href="#st" x="369.1" y="278.7"/>
<use href="#st" x="372.2" y="278.9"/>
<use href="#st" x="368.7" y="283.7"/>
<use href="#st" x="377.8" y="282.9"/>
<use href="#st" x="370.8" y="283.7"/>
<use href="#st" x="379.0" y="282.9"/>
<use href="#st" x="371.1" y="282.5"/>
<use href="#st" x="373.3" y="280.1"/>
<use href="#st" x="370.1" y="284.9"/>
<use href="#st" x="376.5" y="285.4"/>
<use href="#st" x="370.4" y="280.0"/>
<use href="#st" x="374.8" y="278.4"/>
<use href="#st" x="375.2" y="289.8"/>
<use href="#st" x="380.1" y="290.6"/>
<use href="#st" x="371.0" y="191.1"/>
<use href="#st" x="360.8" y="192.6"/>
<use href="#st" x="363.7" y="194.7"/>
<use href="#st" x="357.9" y="196.9"/>
<use href="#st" x="366.6" y="197.7"/>
<use href="#st" x="357.2" y="205.0"/>
<use href="#st" x="359.4" y="204.2"/>
<use href="#st" x="362.3" y="202.0"/>
<use href="#st" x="366.6" y="203.5"/>
<use href="#st" x="356.4" y="210.8"/>
<use href="#st" x="359.4" y="212.2"/>
<use href="#st" x="363.7" y="209.3"/>
<use href="#st" x="368.1" y="210.8"/>
<use href="#st" x="371.0" y="212.2"/>
<use href="#st" x="355.0" y="216.6"/>
<use href="#st" x="359.4" y="217.3"/>
<use href="#st" x="363.7" y="215.2"/>
<use href="#st" x="368.1" y="216.6"/>
<use href="#st" x="372.5" y="215.9"/>
<use href="#st" x="349.9" y="215.2"/>
<use href="#st" x="360.7" y="192.6"/>
<use href="#st" x="357.6" y="197.2"/>
<use href="#st" x="359.7" y="198.2"/>
<use href="#st" x="364.2" y="195.1"/>
<use href="#st" x="367.3" y="198.2"/>
<use href="#st" x="361.7" y="202.8"/>
<use href="#st" x="366.3" y="203.3"/>
<use href="#st" x="357.1" y="205.9"/>
<use href="#st" x="356.1" y="206.4"/>
<use href="#st" x="365.8" y="208.4"/>
<use href="#st" x="367.8" y="209.4"/>
<use href="#st" x="369.9" y="211.5"/>
<use href="#st" x="371.9" y="210.4"/>
<use href="#st" x="357.6" y="210.4"/>
<use href="#st" x="359.7" y="212.0"/>
<use href="#st" x="361.7" y="213.5"/>
<use href="#st" x="358.6" y="215.6"/>
<use href="#st" x="349.4" y="215.0"/>
<use href="#st" x="356.6" y="217.6"/>
<use href="#st" x="360.7" y="218.6"/>
<use href="#st" x="363.7" y="217.6"/>
<use href="#st" x="366.8" y="216.6"/>
<use href="#st" x="369.9" y="216.1"/>
<use href="#st" x="372.9" y="217.6"/>
<use href="#st" x="375.0" y="215.6"/>
<use href="#st" x="357.0" y="220.6"/>
<use href="#st" x="360.0" y="220.6"/>
<use href="#st" x="365.0" y="220.6"/>
<use href="#st" x="369.0" y="220.6"/>
<use href="#st" x="374.0" y="220.6"/>
<use href="#st" x="380.6" y="218.6"/>
<use href="#st" x="386.3" y="213.0"/>
<use href="#st" x="395.8" y="210.0"/>
<use href="#st" x="396.5" y="218.1"/>
<use href="#st" x="341.0" y="289.0"/>
<use href="#st" x="341.8" y="284.6"/>
<use href="#st" x="357.8" y="284.6"/>
<use href="#st" x="384.0" y="274.4"/>
</g>
<rect x="199.20" y="14.50" width="49.40" height="24.00" fill="#fff" stroke="#555" stroke-width="1"/>
<circle cx="212.50" cy="21.10" r="2.1" fill="none" stroke="#e00" stroke-width="0.9"/>
<use href="#st" x="212.50" y="31.90"/>
<text x="224.20" y="24.60" font-size="8.6" text-anchor="start" fill="#222" textLength="19.20" lengthAdjust="spacingAndGlyphs">Normal</text>
<text x="224.20" y="35.60" font-size="8.6" text-anchor="start" fill="#222" textLength="20.90" lengthAdjust="spacingAndGlyphs">Autistic</text>
<rect x="488.40" y="14.30" width="49.40" height="24.00" fill="#fff" stroke="#555" stroke-width="1"/>
<circle cx="501.70" cy="20.90" r="2.1" fill="none" stroke="#e00" stroke-width="0.9"/>
<use href="#st" x="501.70" y="31.70"/>
<text x="513.40" y="24.40" font-size="8.6" text-anchor="start" fill="#222" textLength="19.20" lengthAdjust="spacingAndGlyphs">Normal</text>
<text x="513.40" y="35.40" font-size="8.6" text-anchor="start" fill="#222" textLength="20.90" lengthAdjust="spacingAndGlyphs">Autistic</text>
<rect x="199.10" y="193.30" width="49.40" height="24.00" fill="#fff" stroke="#555" stroke-width="1"/>
<circle cx="212.40" cy="199.90" r="2.1" fill="none" stroke="#e00" stroke-width="0.9"/>
<use href="#st" x="212.40" y="210.70"/>
<text x="224.10" y="203.40" font-size="8.6" text-anchor="start" fill="#222" textLength="19.20" lengthAdjust="spacingAndGlyphs">Normal</text>
<text x="224.10" y="214.40" font-size="8.6" text-anchor="start" fill="#222" textLength="20.90" lengthAdjust="spacingAndGlyphs">Autistic</text>
<rect x="488.30" y="193.50" width="49.40" height="24.00" fill="#fff" stroke="#555" stroke-width="1"/>
<circle cx="501.60" cy="200.10" r="2.1" fill="none" stroke="#e00" stroke-width="0.9"/>
<use href="#st" x="501.60" y="210.90"/>
<text x="513.30" y="203.60" font-size="8.6" text-anchor="start" fill="#222" textLength="19.20" lengthAdjust="spacingAndGlyphs">Normal</text>
<text x="513.30" y="214.60" font-size="8.6" text-anchor="start" fill="#222" textLength="20.90" lengthAdjust="spacingAndGlyphs">Autistic</text>
</svg>
</body></html>
